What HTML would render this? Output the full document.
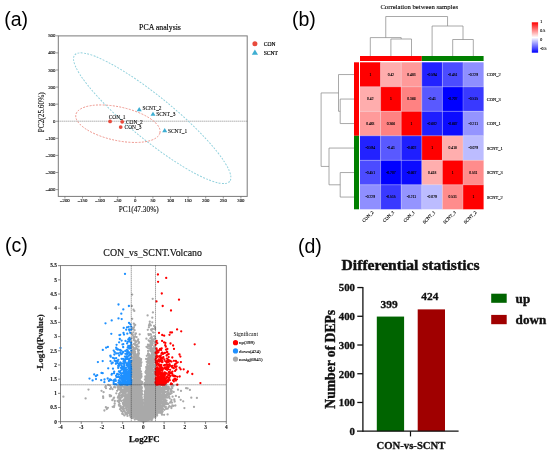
<!DOCTYPE html>
<html><head><meta charset="utf-8"><style>
html,body{margin:0;padding:0;background:#fff;width:550px;height:454px;overflow:hidden}
svg{display:block;will-change:transform}
</style></head><body>
<svg width="550" height="454" viewBox="0 0 550 454">
<rect width="550" height="454" fill="#fff"/>
<text x="4.2" y="25.6" font-family='"Liberation Sans", sans-serif' font-size="19.5" font-weight="normal" text-anchor="start" fill="#000" >(a)</text>
<text x="292" y="25.5" font-family='"Liberation Sans", sans-serif' font-size="19.5" font-weight="normal" text-anchor="start" fill="#000" >(b)</text>
<text x="4.9" y="252.4" font-family='"Liberation Sans", sans-serif' font-size="19.5" font-weight="normal" text-anchor="start" fill="#000" >(c)</text>
<text x="298" y="253" font-family='"Liberation Sans", sans-serif' font-size="19.5" font-weight="normal" text-anchor="start" fill="#000" >(d)</text>
<text x="160" y="30.2" font-family='"Liberation Serif", serif' font-size="7.8" font-weight="normal" text-anchor="middle" fill="#000" stroke="#000" stroke-width="0.15">PCA analysis</text>
<rect x="58.3" y="35.9" width="188.9" height="160.5" fill="none" stroke="#7a7a7a" stroke-width="1"/>
<line x1="56" y1="189.6" x2="58.3" y2="189.6" stroke="#666" stroke-width="0.65" />
<text x="55.4" y="191.2" font-family='"Liberation Serif", serif' font-size="4.8" font-weight="normal" text-anchor="end" fill="#111" stroke="#111" stroke-width="0.14">&#8211;400</text>
<line x1="56" y1="172.51" x2="58.3" y2="172.51" stroke="#666" stroke-width="0.65" />
<text x="55.4" y="174.11" font-family='"Liberation Serif", serif' font-size="4.8" font-weight="normal" text-anchor="end" fill="#111" stroke="#111" stroke-width="0.14">&#8211;300</text>
<line x1="56" y1="155.42" x2="58.3" y2="155.42" stroke="#666" stroke-width="0.65" />
<text x="55.4" y="157.02" font-family='"Liberation Serif", serif' font-size="4.8" font-weight="normal" text-anchor="end" fill="#111" stroke="#111" stroke-width="0.14">&#8211;200</text>
<line x1="56" y1="138.33" x2="58.3" y2="138.33" stroke="#666" stroke-width="0.65" />
<text x="55.4" y="139.93" font-family='"Liberation Serif", serif' font-size="4.8" font-weight="normal" text-anchor="end" fill="#111" stroke="#111" stroke-width="0.14">&#8211;100</text>
<line x1="56" y1="121.24" x2="58.3" y2="121.24" stroke="#666" stroke-width="0.65" />
<text x="55.4" y="122.84" font-family='"Liberation Serif", serif' font-size="4.8" font-weight="normal" text-anchor="end" fill="#111" stroke="#111" stroke-width="0.14">0</text>
<line x1="56" y1="104.15" x2="58.3" y2="104.15" stroke="#666" stroke-width="0.65" />
<text x="55.4" y="105.75" font-family='"Liberation Serif", serif' font-size="4.8" font-weight="normal" text-anchor="end" fill="#111" stroke="#111" stroke-width="0.14">100</text>
<line x1="56" y1="87.06" x2="58.3" y2="87.06" stroke="#666" stroke-width="0.65" />
<text x="55.4" y="88.66" font-family='"Liberation Serif", serif' font-size="4.8" font-weight="normal" text-anchor="end" fill="#111" stroke="#111" stroke-width="0.14">200</text>
<line x1="56" y1="69.97" x2="58.3" y2="69.97" stroke="#666" stroke-width="0.65" />
<text x="55.4" y="71.57" font-family='"Liberation Serif", serif' font-size="4.8" font-weight="normal" text-anchor="end" fill="#111" stroke="#111" stroke-width="0.14">300</text>
<line x1="56" y1="52.88" x2="58.3" y2="52.88" stroke="#666" stroke-width="0.65" />
<text x="55.4" y="54.48" font-family='"Liberation Serif", serif' font-size="4.8" font-weight="normal" text-anchor="end" fill="#111" stroke="#111" stroke-width="0.14">400</text>
<line x1="56" y1="35.8" x2="58.3" y2="35.8" stroke="#666" stroke-width="0.65" />
<text x="55.4" y="37.4" font-family='"Liberation Serif", serif' font-size="4.8" font-weight="normal" text-anchor="end" fill="#111" stroke="#111" stroke-width="0.14">500</text>
<line x1="64.9" y1="196.4" x2="64.9" y2="198.5" stroke="#666" stroke-width="0.65" />
<text x="64.9" y="202.4" font-family='"Liberation Serif", serif' font-size="4.8" font-weight="normal" text-anchor="middle" fill="#111" stroke="#111" stroke-width="0.14">&#8211;200</text>
<line x1="82.5" y1="196.4" x2="82.5" y2="198.5" stroke="#666" stroke-width="0.65" />
<text x="82.5" y="202.4" font-family='"Liberation Serif", serif' font-size="4.8" font-weight="normal" text-anchor="middle" fill="#111" stroke="#111" stroke-width="0.14">&#8211;150</text>
<line x1="100.1" y1="196.4" x2="100.1" y2="198.5" stroke="#666" stroke-width="0.65" />
<text x="100.1" y="202.4" font-family='"Liberation Serif", serif' font-size="4.8" font-weight="normal" text-anchor="middle" fill="#111" stroke="#111" stroke-width="0.14">&#8211;100</text>
<line x1="117.7" y1="196.4" x2="117.7" y2="198.5" stroke="#666" stroke-width="0.65" />
<text x="117.7" y="202.4" font-family='"Liberation Serif", serif' font-size="4.8" font-weight="normal" text-anchor="middle" fill="#111" stroke="#111" stroke-width="0.14">&#8211;50</text>
<line x1="135.3" y1="196.4" x2="135.3" y2="198.5" stroke="#666" stroke-width="0.65" />
<text x="135.3" y="202.4" font-family='"Liberation Serif", serif' font-size="4.8" font-weight="normal" text-anchor="middle" fill="#111" stroke="#111" stroke-width="0.14">0</text>
<line x1="152.9" y1="196.4" x2="152.9" y2="198.5" stroke="#666" stroke-width="0.65" />
<text x="152.9" y="202.4" font-family='"Liberation Serif", serif' font-size="4.8" font-weight="normal" text-anchor="middle" fill="#111" stroke="#111" stroke-width="0.14">50</text>
<line x1="170.5" y1="196.4" x2="170.5" y2="198.5" stroke="#666" stroke-width="0.65" />
<text x="170.5" y="202.4" font-family='"Liberation Serif", serif' font-size="4.8" font-weight="normal" text-anchor="middle" fill="#111" stroke="#111" stroke-width="0.14">100</text>
<line x1="188.1" y1="196.4" x2="188.1" y2="198.5" stroke="#666" stroke-width="0.65" />
<text x="188.1" y="202.4" font-family='"Liberation Serif", serif' font-size="4.8" font-weight="normal" text-anchor="middle" fill="#111" stroke="#111" stroke-width="0.14">150</text>
<line x1="205.7" y1="196.4" x2="205.7" y2="198.5" stroke="#666" stroke-width="0.65" />
<text x="205.7" y="202.4" font-family='"Liberation Serif", serif' font-size="4.8" font-weight="normal" text-anchor="middle" fill="#111" stroke="#111" stroke-width="0.14">200</text>
<line x1="223.3" y1="196.4" x2="223.3" y2="198.5" stroke="#666" stroke-width="0.65" />
<text x="223.3" y="202.4" font-family='"Liberation Serif", serif' font-size="4.8" font-weight="normal" text-anchor="middle" fill="#111" stroke="#111" stroke-width="0.14">250</text>
<line x1="240.9" y1="196.4" x2="240.9" y2="198.5" stroke="#666" stroke-width="0.65" />
<text x="240.9" y="202.4" font-family='"Liberation Serif", serif' font-size="4.8" font-weight="normal" text-anchor="middle" fill="#111" stroke="#111" stroke-width="0.14">300</text>
<text x="138.7" y="211.6" font-family='"Liberation Serif", serif' font-size="7.3" font-weight="normal" text-anchor="middle" fill="#111" stroke="#111" stroke-width="0.12">PC1(47.30%)</text>
<text transform="translate(44.2,112.3) rotate(-90)" x="0" y="0" font-family='"Liberation Serif", serif' font-size="7.3" text-anchor="middle" fill="#111" stroke="#111" stroke-width="0.12">PC2(25.60%)</text>
<line x1="58.3" y1="121.2" x2="247.2" y2="121.2" stroke="#555" stroke-width="0.65" stroke-dasharray="1.1,0.9"/>
<ellipse cx="117.9" cy="123.7" rx="43" ry="16.8" transform="rotate(12.2 117.9 123.7)" fill="none" stroke="#ec8f86" stroke-width="0.9" stroke-dasharray="1.9,1.4"/>
<ellipse cx="152.2" cy="118.2" rx="100" ry="21.5" transform="rotate(39.2 152.2 118.2)" fill="none" stroke="#8fd0dc" stroke-width="0.95" stroke-dasharray="1.9,1.4"/>
<circle cx="110.1" cy="121.4" r="1.9" fill="#e84a3c"/>
<circle cx="122.2" cy="121.8" r="1.9" fill="#e84a3c"/>
<circle cx="120.7" cy="127.1" r="1.9" fill="#e84a3c"/>
<path d="M139.2 107.1L141.73 111.24L136.67 111.24Z" fill="#3eaed2"/>
<path d="M153 111.7L155.53 115.84L150.47 115.84Z" fill="#3eaed2"/>
<path d="M164.7 128L167.23 132.14L162.17 132.14Z" fill="#3eaed2"/>
<text x="108.7" y="118.5" font-family='"Liberation Serif", serif' font-size="5.4" font-weight="normal" text-anchor="start" fill="#000" stroke="#000" stroke-width="0.08">CON_1</text>
<text x="126" y="123.5" font-family='"Liberation Serif", serif' font-size="5.4" font-weight="normal" text-anchor="start" fill="#000" stroke="#000" stroke-width="0.08">CON_2</text>
<text x="124.6" y="129.2" font-family='"Liberation Serif", serif' font-size="5.4" font-weight="normal" text-anchor="start" fill="#000" stroke="#000" stroke-width="0.08">CON_3</text>
<text x="142.4" y="110" font-family='"Liberation Serif", serif' font-size="5.4" font-weight="normal" text-anchor="start" fill="#000" stroke="#000" stroke-width="0.08">SCNT_2</text>
<text x="156.2" y="116.4" font-family='"Liberation Serif", serif' font-size="5.4" font-weight="normal" text-anchor="start" fill="#000" stroke="#000" stroke-width="0.08">SCNT_3</text>
<text x="168" y="132.7" font-family='"Liberation Serif", serif' font-size="5.4" font-weight="normal" text-anchor="start" fill="#000" stroke="#000" stroke-width="0.08">SCNT_1</text>
<circle cx="254.9" cy="43.8" r="2.5" fill="#e84a3c"/>
<path d="M254.9 49.6L257.98 54.64L251.82 54.64Z" fill="#3eaed2"/>
<text x="263.7" y="45.7" font-family='"Liberation Serif", serif' font-size="5.6" font-weight="normal" text-anchor="start" fill="#000" stroke="#000" stroke-width="0.18">CON</text>
<text x="263.7" y="54.5" font-family='"Liberation Serif", serif' font-size="5.6" font-weight="normal" text-anchor="start" fill="#000" stroke="#000" stroke-width="0.18">SCNT</text>
<rect x="360" y="62.3" width="20.6" height="24.5" fill="rgb(255,0,0)" />
<rect x="380.6" y="62.3" width="20.6" height="24.5" fill="rgb(255,173,173)" />
<rect x="401.2" y="62.3" width="20.6" height="24.5" fill="rgb(255,154,154)" />
<rect x="421.8" y="62.3" width="20.6" height="24.5" fill="rgb(34,34,255)" />
<rect x="442.4" y="62.3" width="20.6" height="24.5" fill="rgb(76,76,255)" />
<rect x="463" y="62.3" width="20.6" height="24.5" fill="rgb(143,143,255)" />
<rect x="360" y="86.8" width="20.6" height="24.5" fill="rgb(255,173,173)" />
<rect x="380.6" y="86.8" width="20.6" height="24.5" fill="rgb(255,0,0)" />
<rect x="401.2" y="86.8" width="20.6" height="24.5" fill="rgb(255,130,130)" />
<rect x="421.8" y="86.8" width="20.6" height="24.5" fill="rgb(89,89,255)" />
<rect x="442.4" y="86.8" width="20.6" height="24.5" fill="rgb(0,0,255)" />
<rect x="463" y="86.8" width="20.6" height="24.5" fill="rgb(57,57,255)" />
<rect x="360" y="111.3" width="20.6" height="24.5" fill="rgb(255,154,154)" />
<rect x="380.6" y="111.3" width="20.6" height="24.5" fill="rgb(255,130,130)" />
<rect x="401.2" y="111.3" width="20.6" height="24.5" fill="rgb(255,0,0)" />
<rect x="421.8" y="111.3" width="20.6" height="24.5" fill="rgb(31,31,255)" />
<rect x="442.4" y="111.3" width="20.6" height="24.5" fill="rgb(12,12,255)" />
<rect x="463" y="111.3" width="20.6" height="24.5" fill="rgb(148,148,255)" />
<rect x="360" y="135.8" width="20.6" height="24.5" fill="rgb(34,34,255)" />
<rect x="380.6" y="135.8" width="20.6" height="24.5" fill="rgb(89,89,255)" />
<rect x="401.2" y="135.8" width="20.6" height="24.5" fill="rgb(31,31,255)" />
<rect x="421.8" y="135.8" width="20.6" height="24.5" fill="rgb(255,0,0)" />
<rect x="442.4" y="135.8" width="20.6" height="24.5" fill="rgb(255,174,174)" />
<rect x="463" y="135.8" width="20.6" height="24.5" fill="rgb(188,188,255)" />
<rect x="360" y="160.3" width="20.6" height="24.5" fill="rgb(76,76,255)" />
<rect x="380.6" y="160.3" width="20.6" height="24.5" fill="rgb(0,0,255)" />
<rect x="401.2" y="160.3" width="20.6" height="24.5" fill="rgb(12,12,255)" />
<rect x="421.8" y="160.3" width="20.6" height="24.5" fill="rgb(255,174,174)" />
<rect x="442.4" y="160.3" width="20.6" height="24.5" fill="rgb(255,0,0)" />
<rect x="463" y="160.3" width="20.6" height="24.5" fill="rgb(255,140,140)" />
<rect x="360" y="184.8" width="20.6" height="24.5" fill="rgb(143,143,255)" />
<rect x="380.6" y="184.8" width="20.6" height="24.5" fill="rgb(57,57,255)" />
<rect x="401.2" y="184.8" width="20.6" height="24.5" fill="rgb(148,148,255)" />
<rect x="421.8" y="184.8" width="20.6" height="24.5" fill="rgb(188,188,255)" />
<rect x="442.4" y="184.8" width="20.6" height="24.5" fill="rgb(255,140,140)" />
<rect x="463" y="184.8" width="20.6" height="24.5" fill="rgb(255,0,0)" />
<line x1="380.6" y1="62.3" x2="380.6" y2="209.3" stroke="#e8e8f0" stroke-width="0.5" stroke-opacity="0.6"/>
<line x1="360" y1="86.8" x2="483.6" y2="86.8" stroke="#e8e8f0" stroke-width="0.5" stroke-opacity="0.6"/>
<line x1="401.2" y1="62.3" x2="401.2" y2="209.3" stroke="#e8e8f0" stroke-width="0.5" stroke-opacity="0.6"/>
<line x1="360" y1="111.3" x2="483.6" y2="111.3" stroke="#e8e8f0" stroke-width="0.5" stroke-opacity="0.6"/>
<line x1="421.8" y1="62.3" x2="421.8" y2="209.3" stroke="#e8e8f0" stroke-width="0.5" stroke-opacity="0.6"/>
<line x1="360" y1="135.8" x2="483.6" y2="135.8" stroke="#e8e8f0" stroke-width="0.5" stroke-opacity="0.6"/>
<line x1="442.4" y1="62.3" x2="442.4" y2="209.3" stroke="#e8e8f0" stroke-width="0.5" stroke-opacity="0.6"/>
<line x1="360" y1="160.3" x2="483.6" y2="160.3" stroke="#e8e8f0" stroke-width="0.5" stroke-opacity="0.6"/>
<line x1="463" y1="62.3" x2="463" y2="209.3" stroke="#e8e8f0" stroke-width="0.5" stroke-opacity="0.6"/>
<line x1="360" y1="184.8" x2="483.6" y2="184.8" stroke="#e8e8f0" stroke-width="0.5" stroke-opacity="0.6"/>
<text x="370.3" y="75.75" font-family='"Liberation Serif", serif' font-size="3.7" font-weight="normal" text-anchor="middle" fill="#000" stroke="#000" stroke-width="0.12">1</text>
<text x="390.9" y="75.75" font-family='"Liberation Serif", serif' font-size="3.7" font-weight="normal" text-anchor="middle" fill="#000" stroke="#000" stroke-width="0.12">0.42</text>
<text x="411.5" y="75.75" font-family='"Liberation Serif", serif' font-size="3.7" font-weight="normal" text-anchor="middle" fill="#000" stroke="#000" stroke-width="0.12">0.483</text>
<text x="432.1" y="75.75" font-family='"Liberation Serif", serif' font-size="3.7" font-weight="normal" text-anchor="middle" fill="#000" stroke="#000" stroke-width="0.12">-0.594</text>
<text x="452.7" y="75.75" font-family='"Liberation Serif", serif' font-size="3.7" font-weight="normal" text-anchor="middle" fill="#000" stroke="#000" stroke-width="0.12">-0.451</text>
<text x="473.3" y="75.75" font-family='"Liberation Serif", serif' font-size="3.7" font-weight="normal" text-anchor="middle" fill="#000" stroke="#000" stroke-width="0.12">-0.229</text>
<text x="370.3" y="100.25" font-family='"Liberation Serif", serif' font-size="3.7" font-weight="normal" text-anchor="middle" fill="#000" stroke="#000" stroke-width="0.12">0.42</text>
<text x="390.9" y="100.25" font-family='"Liberation Serif", serif' font-size="3.7" font-weight="normal" text-anchor="middle" fill="#000" stroke="#000" stroke-width="0.12">1</text>
<text x="411.5" y="100.25" font-family='"Liberation Serif", serif' font-size="3.7" font-weight="normal" text-anchor="middle" fill="#000" stroke="#000" stroke-width="0.12">0.366</text>
<text x="432.1" y="100.25" font-family='"Liberation Serif", serif' font-size="3.7" font-weight="normal" text-anchor="middle" fill="#000" stroke="#000" stroke-width="0.12">-0.41</text>
<text x="452.7" y="100.25" font-family='"Liberation Serif", serif' font-size="3.7" font-weight="normal" text-anchor="middle" fill="#000" stroke="#000" stroke-width="0.12">-0.707</text>
<text x="473.3" y="100.25" font-family='"Liberation Serif", serif' font-size="3.7" font-weight="normal" text-anchor="middle" fill="#000" stroke="#000" stroke-width="0.12">-0.515</text>
<text x="370.3" y="124.75" font-family='"Liberation Serif", serif' font-size="3.7" font-weight="normal" text-anchor="middle" fill="#000" stroke="#000" stroke-width="0.12">0.483</text>
<text x="390.9" y="124.75" font-family='"Liberation Serif", serif' font-size="3.7" font-weight="normal" text-anchor="middle" fill="#000" stroke="#000" stroke-width="0.12">0.366</text>
<text x="411.5" y="124.75" font-family='"Liberation Serif", serif' font-size="3.7" font-weight="normal" text-anchor="middle" fill="#000" stroke="#000" stroke-width="0.12">1</text>
<text x="432.1" y="124.75" font-family='"Liberation Serif", serif' font-size="3.7" font-weight="normal" text-anchor="middle" fill="#000" stroke="#000" stroke-width="0.12">-0.602</text>
<text x="452.7" y="124.75" font-family='"Liberation Serif", serif' font-size="3.7" font-weight="normal" text-anchor="middle" fill="#000" stroke="#000" stroke-width="0.12">-0.667</text>
<text x="473.3" y="124.75" font-family='"Liberation Serif", serif' font-size="3.7" font-weight="normal" text-anchor="middle" fill="#000" stroke="#000" stroke-width="0.12">-0.211</text>
<text x="370.3" y="149.25" font-family='"Liberation Serif", serif' font-size="3.7" font-weight="normal" text-anchor="middle" fill="#000" stroke="#000" stroke-width="0.12">-0.594</text>
<text x="390.9" y="149.25" font-family='"Liberation Serif", serif' font-size="3.7" font-weight="normal" text-anchor="middle" fill="#000" stroke="#000" stroke-width="0.12">-0.41</text>
<text x="411.5" y="149.25" font-family='"Liberation Serif", serif' font-size="3.7" font-weight="normal" text-anchor="middle" fill="#000" stroke="#000" stroke-width="0.12">-0.602</text>
<text x="432.1" y="149.25" font-family='"Liberation Serif", serif' font-size="3.7" font-weight="normal" text-anchor="middle" fill="#000" stroke="#000" stroke-width="0.12">1</text>
<text x="452.7" y="149.25" font-family='"Liberation Serif", serif' font-size="3.7" font-weight="normal" text-anchor="middle" fill="#000" stroke="#000" stroke-width="0.12">0.418</text>
<text x="473.3" y="149.25" font-family='"Liberation Serif", serif' font-size="3.7" font-weight="normal" text-anchor="middle" fill="#000" stroke="#000" stroke-width="0.12">-0.079</text>
<text x="370.3" y="173.75" font-family='"Liberation Serif", serif' font-size="3.7" font-weight="normal" text-anchor="middle" fill="#000" stroke="#000" stroke-width="0.12">-0.451</text>
<text x="390.9" y="173.75" font-family='"Liberation Serif", serif' font-size="3.7" font-weight="normal" text-anchor="middle" fill="#000" stroke="#000" stroke-width="0.12">-0.707</text>
<text x="411.5" y="173.75" font-family='"Liberation Serif", serif' font-size="3.7" font-weight="normal" text-anchor="middle" fill="#000" stroke="#000" stroke-width="0.12">-0.667</text>
<text x="432.1" y="173.75" font-family='"Liberation Serif", serif' font-size="3.7" font-weight="normal" text-anchor="middle" fill="#000" stroke="#000" stroke-width="0.12">0.418</text>
<text x="452.7" y="173.75" font-family='"Liberation Serif", serif' font-size="3.7" font-weight="normal" text-anchor="middle" fill="#000" stroke="#000" stroke-width="0.12">1</text>
<text x="473.3" y="173.75" font-family='"Liberation Serif", serif' font-size="3.7" font-weight="normal" text-anchor="middle" fill="#000" stroke="#000" stroke-width="0.12">0.531</text>
<text x="370.3" y="198.25" font-family='"Liberation Serif", serif' font-size="3.7" font-weight="normal" text-anchor="middle" fill="#000" stroke="#000" stroke-width="0.12">-0.229</text>
<text x="390.9" y="198.25" font-family='"Liberation Serif", serif' font-size="3.7" font-weight="normal" text-anchor="middle" fill="#000" stroke="#000" stroke-width="0.12">-0.515</text>
<text x="411.5" y="198.25" font-family='"Liberation Serif", serif' font-size="3.7" font-weight="normal" text-anchor="middle" fill="#000" stroke="#000" stroke-width="0.12">-0.211</text>
<text x="432.1" y="198.25" font-family='"Liberation Serif", serif' font-size="3.7" font-weight="normal" text-anchor="middle" fill="#000" stroke="#000" stroke-width="0.12">-0.079</text>
<text x="452.7" y="198.25" font-family='"Liberation Serif", serif' font-size="3.7" font-weight="normal" text-anchor="middle" fill="#000" stroke="#000" stroke-width="0.12">0.531</text>
<text x="473.3" y="198.25" font-family='"Liberation Serif", serif' font-size="3.7" font-weight="normal" text-anchor="middle" fill="#000" stroke="#000" stroke-width="0.12">1</text>
<rect x="360" y="56" width="61.8" height="5" fill="#ff0000" />
<rect x="421.8" y="56" width="61.8" height="5" fill="#008000" />
<rect x="354" y="62.3" width="5" height="73.5" fill="#ff0000" />
<rect x="354" y="135.8" width="5" height="73.5" fill="#008000" />
<path d="M390.9 56V39H411.5V56" fill="none" stroke="#8c8c8c" stroke-width="0.75"/>
<path d="M370.3 56V37.6H401.2V39" fill="none" stroke="#8c8c8c" stroke-width="0.75"/>
<path d="M452.7 56V39.5H473.3V56" fill="none" stroke="#8c8c8c" stroke-width="0.75"/>
<path d="M432.1 56V26H463V39.5" fill="none" stroke="#8c8c8c" stroke-width="0.75"/>
<path d="M385.75 37.6V16.5H447.55V26" fill="none" stroke="#8c8c8c" stroke-width="0.75"/>
<path d="M354 99.05H340.2V123.55H354" fill="none" stroke="#8c8c8c" stroke-width="0.75"/>
<path d="M354 74.55H338.5V111.3H340.2" fill="none" stroke="#8c8c8c" stroke-width="0.75"/>
<path d="M354 172.55H340.2V197.05H354" fill="none" stroke="#8c8c8c" stroke-width="0.75"/>
<path d="M354 148.05H329V184.8H340.2" fill="none" stroke="#8c8c8c" stroke-width="0.75"/>
<path d="M338.5 92.93H321.1V166.43H329" fill="none" stroke="#8c8c8c" stroke-width="0.75"/>
<text x="380.4" y="8.9" font-family='"Liberation Serif", serif' font-size="6.7" font-weight="normal" text-anchor="start" fill="#000" stroke="#000" stroke-width="0.1">Correlation between samples</text>
<text x="486.8" y="76.15" font-family='"Liberation Serif", serif' font-size="4.5" font-weight="normal" text-anchor="start" fill="#000" stroke="#000" stroke-width="0.12">CON_2</text>
<text x="486.8" y="100.65" font-family='"Liberation Serif", serif' font-size="4.5" font-weight="normal" text-anchor="start" fill="#000" stroke="#000" stroke-width="0.12">CON_3</text>
<text x="486.8" y="125.15" font-family='"Liberation Serif", serif' font-size="4.5" font-weight="normal" text-anchor="start" fill="#000" stroke="#000" stroke-width="0.12">CON_1</text>
<text x="486.8" y="149.65" font-family='"Liberation Serif", serif' font-size="4.5" font-weight="normal" text-anchor="start" fill="#000" stroke="#000" stroke-width="0.12">SCNT_1</text>
<text x="486.8" y="174.15" font-family='"Liberation Serif", serif' font-size="4.5" font-weight="normal" text-anchor="start" fill="#000" stroke="#000" stroke-width="0.12">SCNT_3</text>
<text x="486.8" y="198.65" font-family='"Liberation Serif", serif' font-size="4.5" font-weight="normal" text-anchor="start" fill="#000" stroke="#000" stroke-width="0.12">SCNT_2</text>
<text transform="translate(373.9,212.6) rotate(-45)" x="0" y="0" font-family='"Liberation Serif", serif' font-size="4.5" text-anchor="end" fill="#000" stroke="#000" stroke-width="0.12">CON_2</text>
<text transform="translate(394.5,212.6) rotate(-45)" x="0" y="0" font-family='"Liberation Serif", serif' font-size="4.5" text-anchor="end" fill="#000" stroke="#000" stroke-width="0.12">CON_3</text>
<text transform="translate(415.1,212.6) rotate(-45)" x="0" y="0" font-family='"Liberation Serif", serif' font-size="4.5" text-anchor="end" fill="#000" stroke="#000" stroke-width="0.12">CON_1</text>
<text transform="translate(435.7,212.6) rotate(-45)" x="0" y="0" font-family='"Liberation Serif", serif' font-size="4.5" text-anchor="end" fill="#000" stroke="#000" stroke-width="0.12">SCNT_1</text>
<text transform="translate(456.3,212.6) rotate(-45)" x="0" y="0" font-family='"Liberation Serif", serif' font-size="4.5" text-anchor="end" fill="#000" stroke="#000" stroke-width="0.12">SCNT_3</text>
<text transform="translate(476.9,212.6) rotate(-45)" x="0" y="0" font-family='"Liberation Serif", serif' font-size="4.5" text-anchor="end" fill="#000" stroke="#000" stroke-width="0.12">SCNT_2</text>
<defs><linearGradient id="cb" x1="0" y1="0" x2="0" y2="1"><stop offset="0" stop-color="#ff0000"/><stop offset="0.5" stop-color="#ffffff"/><stop offset="1" stop-color="#0000ff"/></linearGradient></defs>
<rect x="531.8" y="22.3" width="6.3" height="30.4" fill="url(#cb)" />
<text x="540.2" y="23.2" font-family='"Liberation Serif", serif' font-size="4" font-weight="normal" text-anchor="start" fill="#000" stroke="#000" stroke-width="0.12">1</text>
<text x="540.2" y="32.1" font-family='"Liberation Serif", serif' font-size="4" font-weight="normal" text-anchor="start" fill="#000" stroke="#000" stroke-width="0.12">0.5</text>
<text x="540.2" y="41" font-family='"Liberation Serif", serif' font-size="4" font-weight="normal" text-anchor="start" fill="#000" stroke="#000" stroke-width="0.12">0</text>
<text x="540.2" y="49.9" font-family='"Liberation Serif", serif' font-size="4" font-weight="normal" text-anchor="start" fill="#000" stroke="#000" stroke-width="0.12">-0.5</text>
<text x="103.3" y="255.7" font-family='"Liberation Serif", serif' font-size="9.9" font-weight="normal" text-anchor="start" fill="#111" stroke="#111" stroke-width="0.15">CON_vs_SCNT.Volcano</text>
<path d="M145.0 403.5h0M147.5 402.0h0M127.9 390.2h0M128.4 403.0h0M139.9 401.9h0M123.1 406.6h0M143.7 420.7h0M146.7 361.8h0M145.2 379.6h0M162.7 411.6h0M144.3 420.4h0M151.2 393.9h0M141.5 418.7h0M133.8 411.3h0M146.0 418.9h0M139.4 397.1h0M136.7 405.4h0M139.7 418.1h0M148.3 407.1h0M136.3 364.0h0M159.7 390.9h0M152.1 384.3h0M138.0 387.7h0M145.4 415.4h0M144.4 418.9h0M151.1 411.4h0M151.9 410.7h0M151.0 393.9h0M144.7 420.1h0M171.4 407.0h0M146.6 395.7h0M144.2 420.5h0M149.0 379.3h0M141.7 420.1h0M141.8 407.4h0M114.1 387.2h0M141.3 412.8h0M146.1 407.0h0M149.4 407.1h0M143.4 421.6h0M141.1 418.0h0M152.5 405.7h0M141.6 418.5h0M141.1 418.1h0M141.5 419.4h0M153.6 378.3h0M151.0 404.0h0M145.6 415.3h0M134.6 401.8h0M142.4 412.7h0M149.5 413.9h0M139.1 393.3h0M125.8 392.6h0M147.9 374.6h0M145.2 419.9h0M143.4 421.6h0M133.8 376.1h0M158.0 408.0h0M153.0 408.9h0M146.3 419.9h0M159.4 399.3h0M137.7 356.7h0M144.5 418.8h0M144.4 394.6h0M131.2 398.6h0M146.4 418.2h0M144.2 420.5h0M149.9 398.7h0M140.9 412.9h0M140.4 392.9h0M140.2 415.3h0M136.8 375.6h0M150.7 392.5h0M144.4 415.9h0M156.9 387.3h0M140.2 391.1h0M156.6 391.2h0M148.0 409.1h0M126.0 386.5h0M140.7 407.4h0M149.2 410.8h0M150.3 412.0h0M142.0 405.3h0M143.0 421.0h0M132.9 416.3h0M150.0 389.6h0M126.5 413.5h0M147.2 411.8h0M143.8 420.6h0M138.0 413.0h0M147.3 409.8h0M109.9 385.4h0M142.9 417.4h0M126.1 391.5h0M144.3 419.6h0M137.8 419.0h0M162.0 414.7h0M144.8 416.7h0M138.3 417.6h0M138.7 406.6h0M156.3 400.0h0M140.8 417.3h0M148.6 413.2h0M134.0 411.7h0M139.5 374.6h0M141.0 416.5h0M141.3 375.8h0M146.2 418.1h0M144.8 420.2h0M142.9 420.3h0M154.3 391.9h0M135.0 399.2h0M142.0 419.6h0M133.6 388.3h0M147.6 403.1h0M148.7 371.9h0M148.9 409.7h0M146.3 403.6h0M137.2 393.0h0M134.1 380.3h0M135.7 388.3h0M141.9 419.3h0M152.7 404.9h0M145.4 403.8h0M144.8 419.8h0M159.6 394.4h0M144.3 420.9h0M138.3 355.9h0M150.7 368.3h0M136.8 400.3h0M149.0 408.0h0M148.5 377.2h0M142.3 417.5h0M148.6 387.6h0M143.4 420.3h0M136.3 404.0h0M140.1 402.9h0M141.2 388.7h0M124.2 405.9h0M143.3 421.2h0M145.3 416.8h0M143.6 420.9h0M155.4 412.9h0M127.1 414.4h0M131.6 333.6h0M131.7 405.7h0M152.2 378.7h0M139.9 406.7h0M150.9 377.0h0M149.6 417.2h0M137.0 414.8h0M140.0 408.6h0M144.1 420.0h0M148.2 395.5h0M155.2 393.7h0M137.6 403.2h0M132.8 407.8h0M125.5 386.9h0M144.8 415.8h0M126.1 387.3h0M143.0 419.6h0M143.2 421.3h0M140.0 415.5h0M139.7 410.0h0M132.9 409.8h0M133.2 405.5h0M148.9 389.8h0M135.8 407.7h0M136.8 409.0h0M143.1 421.5h0M136.6 404.7h0M142.5 414.5h0M142.2 409.7h0M144.8 405.7h0M154.9 400.0h0M137.7 404.9h0M148.2 417.1h0M141.3 416.9h0M154.0 392.6h0M144.8 420.5h0M170.1 402.6h0M130.2 403.2h0M136.8 366.7h0M152.3 399.5h0M137.2 416.6h0M137.5 407.2h0M143.4 421.7h0M150.9 382.7h0M142.5 420.6h0M134.0 383.8h0M145.0 420.2h0M134.7 404.7h0M142.9 421.1h0M141.6 410.2h0M139.0 411.0h0M141.4 420.3h0M143.6 421.4h0M145.0 398.5h0M144.7 411.2h0M142.0 419.2h0M132.1 411.0h0M137.5 381.0h0M138.9 419.9h0M155.1 412.4h0M136.6 354.6h0M149.2 405.5h0M129.3 395.2h0M146.7 397.4h0M132.0 379.9h0M137.1 413.4h0M146.7 415.3h0M144.6 419.6h0M143.9 420.3h0M139.7 406.6h0M141.3 418.9h0M143.2 418.9h0M144.1 419.3h0M148.0 410.0h0M140.6 416.3h0M155.1 407.7h0M150.3 368.1h0M162.8 405.9h0M144.8 395.3h0M151.9 396.0h0M143.1 421.2h0M114.3 405.8h0M144.3 420.7h0M151.4 410.6h0M159.3 391.7h0M146.7 417.4h0M155.1 409.0h0M140.3 394.8h0M145.8 417.9h0M146.5 405.8h0M147.3 407.3h0M152.2 362.3h0M140.0 413.8h0M134.5 404.3h0M135.3 357.7h0M143.6 420.6h0M143.6 420.6h0M136.3 381.9h0M147.6 315.4h0M141.2 418.7h0M139.7 412.8h0M132.6 397.6h0M136.9 411.9h0M123.3 407.8h0M135.5 402.1h0M133.6 413.3h0M146.0 372.4h0M142.2 418.5h0M138.0 408.8h0M142.8 420.5h0M146.1 359.0h0M145.7 417.4h0M144.1 412.7h0M137.3 375.2h0M143.4 421.6h0M149.7 393.1h0M147.9 409.8h0M128.8 403.6h0M126.6 394.5h0M156.7 395.6h0M137.2 419.2h0M150.4 408.5h0M140.7 402.3h0M138.2 393.1h0M136.6 388.2h0M123.6 406.4h0M155.5 407.4h0M136.6 412.6h0M135.3 388.4h0M147.0 416.2h0M166.3 394.6h0M149.7 386.9h0M144.3 405.5h0M142.2 419.5h0M146.9 405.1h0M146.2 407.1h0M148.2 418.3h0M133.6 348.2h0M142.7 416.4h0M142.4 420.1h0M153.3 358.6h0M161.5 409.9h0M144.8 419.0h0M148.0 399.4h0M133.8 352.4h0M137.9 361.0h0M134.1 343.8h0M138.2 390.0h0M141.7 419.1h0M145.1 401.8h0M147.0 409.4h0M156.1 405.4h0M137.8 404.6h0M134.4 357.9h0M143.6 421.4h0M145.6 417.5h0M145.2 417.6h0M143.7 420.5h0M143.2 421.2h0M144.0 415.2h0M149.8 321.7h0M145.4 418.3h0M139.2 393.2h0M145.9 412.7h0M139.9 381.5h0M146.9 406.7h0M148.8 409.1h0M145.2 419.5h0M143.8 421.4h0M142.4 413.9h0M141.0 403.4h0M146.1 393.5h0M149.6 389.9h0M154.8 390.2h0M146.4 412.3h0M147.0 386.5h0M151.9 411.8h0M152.6 394.2h0M139.7 398.3h0M146.7 418.7h0M135.6 411.2h0M157.7 390.6h0M145.0 416.0h0M135.2 414.4h0M141.4 410.7h0M152.3 377.3h0M157.4 390.1h0M144.4 414.8h0M138.3 409.9h0M141.9 411.9h0M146.2 420.4h0M144.6 419.7h0M136.5 401.9h0M145.7 417.4h0M147.5 397.4h0M144.2 419.5h0M139.4 371.9h0M135.5 362.3h0M133.7 410.5h0M142.8 406.6h0M145.9 386.7h0M143.6 420.9h0M140.5 403.5h0M144.4 417.2h0M140.3 409.9h0M129.5 392.4h0M158.9 396.6h0M148.9 382.1h0M151.0 404.4h0M158.3 397.2h0M126.1 385.7h0M139.2 417.1h0M133.9 379.3h0M147.8 382.8h0M141.2 393.4h0M157.2 401.1h0M148.4 417.7h0M134.9 406.8h0M147.8 398.5h0M141.6 419.1h0M134.6 382.1h0M149.6 371.4h0M138.2 415.2h0M143.9 420.2h0M141.3 375.3h0M134.3 394.4h0M137.7 369.8h0M149.0 417.6h0M128.4 392.7h0M144.4 410.6h0M144.0 410.0h0M137.4 408.1h0M158.7 400.8h0M144.6 391.3h0M165.0 387.8h0M147.6 406.6h0M137.1 410.8h0M147.9 376.0h0M148.9 414.2h0M135.3 376.4h0M144.7 404.4h0M145.1 411.1h0M146.9 394.8h0M145.7 416.5h0M143.1 421.6h0M150.9 334.4h0M133.3 359.2h0M143.8 418.4h0M144.6 414.2h0M151.2 366.1h0M146.8 391.3h0M139.1 399.4h0M151.6 405.4h0M126.3 401.5h0M153.4 416.8h0M143.3 421.4h0M152.5 388.5h0M143.0 409.1h0M136.2 410.9h0M139.4 394.8h0M154.4 395.4h0M138.9 409.7h0M138.8 389.8h0M155.2 390.1h0M141.6 413.2h0M139.2 411.8h0M132.3 394.8h0M143.2 419.7h0M144.7 419.8h0M145.1 410.3h0M134.0 368.7h0M129.0 388.9h0M146.4 404.3h0M133.5 309.7h0M151.0 418.2h0M135.8 404.4h0M132.0 412.6h0M154.1 370.5h0M143.4 421.2h0M154.9 395.5h0M143.7 419.9h0M138.4 376.3h0M148.9 381.9h0M138.6 374.8h0M149.3 412.8h0M146.0 393.7h0M137.8 413.8h0M143.0 421.2h0M138.9 389.3h0M133.6 328.1h0M132.1 390.0h0M146.9 383.7h0M149.4 402.1h0M137.9 410.7h0M122.5 412.1h0M158.7 387.0h0M143.6 419.6h0M151.9 417.4h0M144.1 418.2h0M138.0 382.3h0M149.1 394.3h0M147.7 347.8h0M123.3 400.2h0M148.4 398.4h0M137.6 413.6h0M154.5 395.9h0M115.3 387.4h0M136.8 382.0h0M140.2 398.6h0M146.6 418.1h0M143.5 421.1h0M141.4 409.8h0M143.4 421.6h0M148.6 340.3h0M133.7 393.9h0M143.7 421.1h0M138.9 366.0h0M142.8 421.3h0M144.2 419.7h0M140.7 418.8h0M128.3 394.3h0M144.0 419.0h0M138.7 376.8h0M147.4 417.3h0M142.4 418.6h0M163.1 385.7h0M137.4 412.9h0M138.3 403.2h0M135.4 410.3h0M141.6 396.8h0M152.4 368.3h0M146.9 415.8h0M139.2 386.6h0M138.6 402.5h0M142.8 420.4h0M144.6 404.4h0M147.6 406.4h0M149.9 368.1h0M146.0 405.0h0M125.6 389.7h0M154.3 403.3h0M120.7 407.3h0M145.0 395.5h0M148.0 413.3h0M140.2 416.0h0M145.1 404.8h0M153.2 396.9h0M135.4 412.0h0M139.3 417.9h0M159.2 388.9h0M139.2 417.8h0M139.7 417.0h0M149.2 407.2h0M143.6 421.4h0M141.6 416.0h0M152.3 391.4h0M157.6 407.6h0M136.3 373.6h0M150.4 402.5h0M162.5 391.3h0M139.9 386.7h0M139.3 358.6h0M140.4 396.5h0M139.2 415.1h0M140.0 418.5h0M148.0 418.9h0M140.6 417.9h0M146.2 416.7h0M142.2 415.2h0M157.2 398.5h0M148.8 416.0h0M140.6 416.1h0M153.6 360.5h0M136.6 413.9h0M136.4 357.7h0M146.7 414.9h0M131.8 399.1h0M152.1 409.1h0M136.7 412.0h0M149.8 391.3h0M144.9 419.0h0M144.1 415.7h0M140.9 373.6h0M141.2 405.9h0M148.5 359.1h0M139.8 420.2h0M142.8 419.9h0M132.9 382.8h0M140.6 408.2h0M137.4 410.3h0M138.4 412.7h0M143.9 418.9h0M141.5 405.7h0M148.7 410.7h0M150.4 398.3h0M146.4 413.4h0M145.4 418.8h0M133.6 387.9h0M144.9 419.7h0M145.2 415.0h0M156.5 394.6h0M135.2 380.3h0M140.6 414.7h0M132.7 366.0h0M142.5 417.9h0M141.2 419.3h0M148.2 360.3h0M145.3 405.3h0M143.0 420.8h0M133.5 380.3h0M149.3 418.0h0M144.1 411.5h0M144.0 420.8h0M146.2 367.1h0M141.0 419.1h0M139.5 413.6h0M138.5 375.8h0M120.8 406.3h0M139.9 411.6h0M153.2 378.0h0M134.9 392.3h0M146.5 386.2h0M147.7 413.3h0M137.5 417.5h0M135.3 391.7h0M145.3 413.9h0M143.2 419.1h0M133.6 401.5h0M161.7 397.5h0M142.3 418.0h0M142.6 420.1h0M149.3 375.0h0M151.9 399.7h0M112.7 406.8h0M152.4 415.4h0M114.6 386.7h0M141.6 397.2h0M133.7 381.0h0M146.2 411.6h0M142.2 420.3h0M137.1 367.4h0M136.0 382.8h0M137.6 384.4h0M138.3 418.8h0M153.9 393.5h0M141.8 409.9h0M144.6 420.6h0M136.4 376.5h0M142.9 418.5h0M142.4 415.4h0M140.6 407.6h0M143.2 421.5h0M141.2 409.5h0M155.5 379.2h0M144.9 410.8h0M140.9 418.1h0M138.3 379.1h0M136.7 409.2h0M159.4 394.2h0M131.0 392.4h0M139.6 404.4h0M141.4 417.2h0M138.4 407.5h0M150.7 412.6h0M149.3 368.8h0M141.6 398.3h0M141.8 405.3h0M135.8 413.3h0M144.2 420.7h0M136.4 411.1h0M133.2 415.6h0M148.0 405.3h0M147.6 366.7h0M138.3 411.3h0M151.5 415.0h0M147.6 415.8h0M141.7 417.6h0M150.1 412.6h0M141.9 409.3h0M135.3 406.3h0M148.4 407.6h0M155.3 360.0h0M131.3 341.9h0M147.0 378.2h0M141.8 419.7h0M146.8 416.8h0M148.5 412.9h0M143.5 421.6h0M134.1 404.1h0M140.4 416.0h0M156.9 410.9h0M149.4 397.4h0M150.7 359.6h0M147.9 417.4h0M145.5 405.7h0M122.2 389.9h0M144.7 419.5h0M139.5 400.5h0M152.1 340.2h0M150.1 376.6h0M147.3 419.9h0M150.4 380.3h0M142.3 413.6h0M133.3 368.2h0M131.4 373.7h0M145.9 404.6h0M138.7 407.4h0M152.0 380.5h0M129.6 406.2h0M139.2 416.7h0M134.2 398.6h0M145.9 413.6h0M144.2 419.2h0M143.4 421.7h0M138.5 364.8h0M147.4 377.5h0M131.5 347.6h0M130.9 410.2h0M146.6 379.2h0M142.7 420.9h0M151.1 416.5h0M145.1 420.1h0M142.8 418.9h0M140.0 410.8h0M141.7 417.1h0M148.1 400.5h0M155.3 371.7h0M145.9 381.5h0M150.5 390.9h0M153.4 401.2h0M153.1 408.4h0M155.5 403.4h0M154.4 381.3h0M148.0 406.4h0M142.4 408.3h0M166.2 395.6h0M138.3 395.5h0M145.5 419.2h0M163.9 396.8h0M145.8 386.8h0M139.9 415.8h0M140.5 418.4h0M151.8 377.1h0M157.8 411.1h0M146.8 373.9h0M133.2 411.8h0M150.8 410.9h0M146.4 407.2h0M137.5 401.2h0M138.0 349.8h0M154.7 398.6h0M152.6 339.4h0M137.4 384.7h0M156.1 386.7h0M133.7 384.2h0M154.8 390.3h0M140.6 402.7h0M141.3 417.0h0M138.3 403.4h0M144.2 421.3h0M149.2 413.4h0M140.9 418.0h0M151.9 360.4h0M151.3 362.5h0M142.4 404.0h0M136.8 355.2h0M162.2 395.3h0M147.0 416.7h0M146.6 373.6h0M139.9 419.5h0M142.7 419.6h0M144.4 402.3h0M140.3 413.1h0M151.5 376.3h0M152.7 375.8h0M147.0 417.2h0M146.8 418.8h0M131.2 400.3h0M146.3 419.9h0M138.2 396.6h0M137.6 387.4h0M146.4 419.4h0M131.0 398.2h0M137.6 404.8h0M135.3 406.0h0M139.0 392.6h0M147.3 415.1h0M148.5 396.5h0M147.2 417.8h0M145.1 409.9h0M133.9 405.3h0M149.1 325.2h0M148.8 418.4h0M141.2 415.3h0M142.8 420.7h0M150.0 412.2h0M150.8 374.7h0M142.8 415.8h0M134.4 389.5h0M139.7 418.7h0M146.0 417.1h0M143.7 421.1h0M135.7 413.7h0M142.6 420.8h0M164.2 406.2h0M137.9 374.5h0M140.5 406.8h0M136.5 394.5h0M134.8 390.1h0M147.6 401.1h0M165.8 406.7h0M146.4 408.6h0M157.1 415.5h0M138.6 415.7h0M148.6 369.8h0M134.8 343.5h0M172.3 388.0h0M140.6 404.2h0M156.7 390.2h0M153.6 408.7h0M142.7 414.3h0M151.0 410.9h0M144.2 419.9h0M147.6 381.0h0M133.6 404.7h0M142.3 419.3h0M146.5 415.2h0M142.4 404.0h0M126.4 406.0h0M151.1 402.6h0M137.8 370.6h0M130.6 397.4h0M141.5 415.8h0M138.4 413.2h0M147.1 385.3h0M139.7 415.8h0M147.5 374.4h0M141.9 416.7h0M143.2 421.5h0M133.0 363.8h0M139.3 416.6h0M135.0 406.5h0M139.7 416.8h0M148.3 361.1h0M126.2 407.1h0M143.4 421.7h0M139.7 391.1h0M144.9 413.9h0M147.7 387.4h0M147.8 413.5h0M151.0 351.1h0M147.4 385.7h0M138.4 392.3h0M152.5 394.7h0M128.7 399.6h0M146.4 395.1h0M140.0 378.8h0M144.4 420.4h0M135.1 396.7h0M147.0 400.6h0M155.3 382.2h0M154.3 391.6h0M140.6 408.0h0M131.0 405.1h0M143.1 420.6h0M136.5 370.2h0M147.9 392.4h0M148.1 401.6h0M152.0 371.6h0M148.9 410.2h0M146.7 408.6h0M138.5 417.6h0M129.7 405.3h0M152.6 351.8h0M120.7 400.5h0M155.0 407.7h0M145.1 402.1h0M142.2 416.7h0M140.1 387.1h0M148.1 394.6h0M153.4 386.8h0M134.9 401.9h0M144.2 420.7h0M141.9 416.6h0M142.2 420.5h0M137.3 408.0h0M142.6 416.4h0M132.3 404.5h0M157.8 402.9h0M153.9 402.5h0M160.7 397.5h0M149.4 369.8h0M145.7 416.4h0M132.2 398.5h0M142.6 413.7h0M145.7 416.8h0M129.7 409.1h0M142.0 420.5h0M141.4 406.5h0M123.5 404.6h0M134.3 388.9h0M140.5 399.8h0M152.9 369.9h0M151.3 347.4h0M139.1 405.6h0M152.6 399.1h0M131.5 393.6h0M143.1 421.1h0M151.3 410.2h0M156.8 403.0h0M142.2 418.8h0M121.2 389.8h0M138.4 409.1h0M135.9 417.1h0M132.7 397.8h0M155.8 400.8h0M141.5 418.5h0M151.1 392.1h0M142.1 411.9h0M172.6 396.7h0M153.7 370.8h0M137.6 415.6h0M140.4 414.3h0M151.8 405.4h0M137.4 414.9h0M142.0 417.6h0M140.2 415.6h0M143.7 421.2h0M148.2 387.4h0M142.6 418.3h0M140.0 382.3h0M135.0 375.1h0M135.2 341.0h0M141.5 420.4h0M139.1 408.2h0M145.5 393.3h0M152.1 397.0h0M152.3 390.4h0M152.5 388.6h0M156.0 388.0h0M138.2 339.5h0M151.9 360.1h0M141.5 407.0h0M146.6 398.5h0M144.7 418.5h0M140.6 415.8h0M135.6 385.0h0M140.0 405.2h0M140.8 416.9h0M140.8 412.7h0M151.3 407.0h0M151.0 372.6h0M133.6 385.7h0M143.4 421.6h0M151.0 394.2h0M163.7 402.5h0M145.1 420.0h0M145.9 409.5h0M145.8 419.0h0M136.3 379.7h0M150.1 378.5h0M143.5 421.2h0M164.8 399.2h0M142.6 420.6h0M165.7 400.9h0M164.1 414.8h0M148.2 419.3h0M151.4 349.2h0M148.1 398.7h0M144.8 416.1h0M128.5 413.0h0M134.4 402.5h0M117.9 397.7h0M141.1 403.8h0M136.2 380.7h0M140.7 393.5h0M148.4 402.1h0M146.9 414.2h0M155.1 394.5h0M131.7 393.4h0M130.3 396.5h0M148.3 407.4h0M145.8 416.1h0M142.9 419.4h0M131.1 396.9h0M148.8 345.5h0M144.9 416.9h0M148.7 393.4h0M142.7 416.0h0M140.1 412.4h0M137.4 360.3h0M164.4 409.8h0M141.3 418.3h0M137.0 414.9h0M133.0 384.5h0M147.8 385.0h0M134.9 392.5h0M133.0 417.9h0M143.8 421.0h0M135.1 410.0h0M148.7 414.3h0M139.7 412.8h0M135.3 340.7h0M153.9 351.4h0M157.4 390.8h0M139.7 392.3h0M146.1 416.8h0M135.0 359.1h0M154.9 415.3h0M147.7 411.4h0M143.9 419.5h0M141.4 419.1h0M131.4 413.5h0M143.3 421.5h0M114.7 403.3h0M134.1 412.6h0M146.1 418.7h0M141.0 403.7h0M143.5 421.6h0M153.9 406.3h0M140.7 419.0h0M146.2 403.0h0M154.5 394.1h0M141.3 394.3h0M147.0 416.1h0M140.2 419.2h0M141.5 417.4h0M144.7 418.5h0M131.3 406.9h0M138.7 411.9h0M128.7 389.2h0M139.4 416.6h0M150.1 415.3h0M153.8 332.6h0M136.8 408.8h0M143.8 420.3h0M144.0 420.8h0M147.9 416.9h0M146.6 418.3h0M140.9 408.7h0M140.0 406.2h0M150.4 416.8h0M151.2 415.2h0M161.1 391.3h0M136.2 385.6h0M147.6 417.1h0M138.8 406.7h0M146.4 387.3h0M133.9 406.8h0M148.7 386.7h0M150.3 396.6h0M131.3 352.0h0M152.8 403.3h0M148.0 418.0h0M139.0 378.1h0M153.2 359.1h0M150.1 414.3h0M134.4 404.9h0M138.5 402.8h0M139.5 377.4h0M139.2 418.5h0M166.3 408.7h0M135.0 408.7h0M152.2 357.7h0M145.4 411.5h0M150.3 393.8h0M133.4 408.3h0M138.9 407.7h0M131.4 410.2h0M138.6 406.2h0M144.1 420.5h0M151.5 405.8h0M147.5 418.7h0M136.1 417.0h0M135.3 409.9h0M152.1 403.0h0M145.1 415.3h0M148.2 366.8h0M130.6 397.5h0M145.8 418.9h0M147.5 397.0h0M143.8 421.3h0M144.1 415.3h0M144.9 385.1h0M143.2 421.1h0M160.3 384.9h0M143.7 420.9h0M139.5 413.9h0M149.0 412.0h0M145.2 416.5h0M143.3 421.5h0M140.8 405.5h0M139.1 411.5h0M139.8 396.4h0M143.0 419.6h0M149.1 417.3h0M143.7 420.4h0M138.8 393.5h0M150.0 400.8h0M153.4 360.1h0M148.1 408.9h0M134.5 400.2h0M130.1 404.0h0M123.7 409.3h0M118.4 400.8h0M147.0 398.7h0M144.8 415.7h0M153.7 400.0h0M143.7 421.4h0M139.6 399.0h0M144.7 414.0h0M127.9 394.5h0M160.0 394.9h0M134.6 392.1h0M147.9 409.0h0M150.8 341.6h0M142.6 420.7h0M146.4 418.8h0M139.2 378.9h0M138.8 391.1h0M149.0 401.3h0M153.9 413.0h0M141.6 419.9h0M152.6 399.6h0M138.9 417.2h0M148.1 413.1h0M151.2 401.8h0M147.5 401.8h0M147.8 399.7h0M137.8 406.8h0M131.2 395.3h0M139.1 391.5h0M126.6 385.9h0M147.9 363.2h0M149.9 409.7h0M151.7 414.6h0M142.5 416.6h0M156.1 392.6h0M143.5 419.8h0M140.7 395.3h0M130.1 396.3h0M149.3 385.1h0M146.4 408.4h0M154.6 416.2h0M136.0 354.8h0M140.7 416.6h0M135.0 379.7h0M133.2 365.6h0M133.5 383.3h0M145.7 416.3h0M138.4 384.1h0M133.0 376.7h0M134.9 349.6h0M155.3 342.8h0M140.8 417.6h0M134.2 415.1h0M171.7 390.9h0M144.5 417.6h0M140.7 418.2h0M150.4 370.6h0M124.3 399.2h0M144.1 421.3h0M128.6 401.6h0M157.9 401.5h0M148.2 395.4h0M140.1 415.3h0M141.4 399.6h0M144.9 384.8h0M148.7 384.7h0M142.9 420.6h0M143.9 419.6h0M143.1 418.2h0M142.3 410.9h0M140.3 410.0h0M161.0 410.3h0M157.5 396.1h0M149.8 379.3h0M156.9 401.0h0M139.9 400.6h0M136.3 410.1h0M140.4 395.9h0M136.3 355.8h0M146.3 408.4h0M154.3 404.5h0M150.1 416.1h0M139.7 410.2h0M143.0 418.9h0M140.6 388.4h0M143.0 420.2h0M147.2 399.1h0M133.5 404.1h0M142.1 420.1h0M137.8 384.4h0M143.5 421.7h0M148.2 408.4h0M131.6 347.7h0M143.4 421.4h0M142.0 417.9h0M154.6 399.0h0M148.6 372.6h0M140.9 366.0h0M145.8 412.6h0M153.5 389.3h0M144.1 417.5h0M148.1 418.4h0M147.4 369.9h0M161.8 395.7h0M150.8 325.4h0M139.2 414.9h0M152.8 411.0h0M129.8 390.7h0M143.4 421.5h0M141.7 414.8h0M149.3 381.2h0M152.2 393.2h0M152.6 396.5h0M146.3 396.8h0M149.5 363.4h0M145.5 405.0h0M149.5 387.3h0M133.5 390.3h0M144.1 421.1h0M127.8 395.6h0M135.4 413.8h0M122.3 386.7h0M143.1 420.9h0M137.0 408.8h0M146.9 408.2h0M150.7 363.4h0M149.2 384.8h0M126.2 414.2h0M141.4 410.3h0M146.8 415.8h0M146.9 409.9h0M143.1 421.5h0M132.6 405.3h0M141.2 396.2h0M138.1 391.2h0M151.1 416.9h0M136.9 414.1h0M144.7 415.6h0M136.1 387.9h0M144.6 412.5h0M164.4 390.9h0M148.6 405.4h0M143.8 420.5h0M141.8 420.3h0M138.9 414.0h0M143.9 420.1h0M140.1 412.3h0M167.1 394.8h0M159.6 385.4h0M124.8 387.4h0M128.4 394.9h0M154.6 379.8h0M149.9 334.5h0M145.7 408.6h0M133.1 403.0h0M107.9 407.8h0M126.8 404.8h0M154.5 395.4h0M151.8 401.8h0M147.6 391.4h0M143.1 418.2h0M123.3 394.9h0M139.5 410.7h0M145.5 415.5h0M139.2 404.1h0M175.9 395.9h0M145.0 417.8h0M136.9 387.4h0M143.9 418.1h0M140.5 412.7h0M146.0 418.2h0M157.2 396.9h0M150.0 412.3h0M149.1 367.4h0M148.0 386.6h0M142.3 382.1h0M141.8 408.4h0M136.9 412.9h0M145.7 415.0h0M136.1 375.7h0M148.3 385.5h0M150.0 412.1h0M145.3 403.4h0M141.4 419.7h0M142.1 409.7h0M131.6 385.7h0M149.2 395.7h0M142.4 419.0h0M152.6 353.3h0M153.9 403.0h0M140.0 383.0h0M150.1 412.7h0M147.2 416.6h0M134.1 402.6h0M135.1 382.8h0M147.3 380.6h0M148.5 414.3h0M144.5 399.4h0M150.1 370.2h0M150.8 401.9h0M132.8 403.9h0M151.0 395.0h0M126.3 404.8h0M145.8 386.0h0M148.6 390.5h0M134.9 344.8h0M121.4 385.2h0M143.4 421.6h0M148.4 365.7h0M144.1 417.3h0M149.9 378.0h0M145.1 392.3h0M154.3 360.2h0M143.3 420.9h0M132.6 405.6h0M145.4 419.9h0M136.1 388.1h0M125.2 398.6h0M131.0 397.1h0M148.3 390.2h0M151.0 400.8h0M145.0 414.7h0M144.4 408.2h0M146.0 415.2h0M139.3 418.3h0M141.6 419.5h0M139.8 416.9h0M155.4 388.1h0M146.3 388.8h0M136.1 408.1h0M147.2 411.3h0M140.0 409.2h0M138.8 415.2h0M145.9 407.3h0M152.8 359.6h0M147.9 392.9h0M119.2 405.8h0M138.7 346.6h0M137.2 381.7h0M148.2 402.9h0M151.8 339.0h0M141.1 393.2h0M141.7 419.2h0M154.7 402.5h0M140.7 412.5h0M148.7 372.5h0M151.6 399.5h0M134.1 412.0h0M144.0 419.9h0M142.0 413.2h0M153.7 414.7h0M140.5 410.5h0M144.2 416.7h0M151.1 412.4h0M141.4 419.2h0M151.7 414.7h0M142.9 419.0h0M140.7 386.4h0M142.7 420.1h0M134.9 348.9h0M134.9 379.5h0M139.7 413.9h0M133.2 361.3h0M127.0 398.0h0M141.2 415.4h0M157.7 400.2h0M145.2 414.9h0M137.6 411.6h0M153.1 386.5h0M145.4 419.3h0M143.3 419.9h0M145.1 418.9h0M137.1 409.8h0M150.2 387.9h0M139.3 409.7h0M144.0 420.3h0M136.1 387.3h0M140.3 417.4h0M153.0 413.6h0M164.1 394.3h0M153.0 381.4h0M145.2 393.3h0M156.3 401.9h0M149.2 410.0h0M142.7 416.9h0M130.5 391.9h0M142.8 419.1h0M149.1 376.1h0M142.6 415.4h0M147.9 416.5h0M148.0 414.9h0M154.2 398.5h0M148.0 413.8h0M139.8 385.5h0M142.9 414.1h0M149.0 355.5h0M142.9 414.9h0M142.4 416.5h0M144.3 420.8h0M142.2 413.3h0M138.5 407.9h0M140.7 419.1h0M140.4 419.6h0M149.2 403.6h0M130.4 406.4h0M133.4 388.9h0M141.3 412.9h0M141.1 409.3h0M139.8 398.6h0M131.6 375.0h0M155.8 397.0h0M160.1 398.1h0M146.6 419.9h0M146.5 366.8h0M156.2 398.6h0M133.5 399.6h0M142.3 417.3h0M141.4 414.2h0M131.8 407.6h0M134.0 338.6h0M153.6 391.2h0M153.5 340.9h0M125.1 404.7h0M141.0 371.4h0M142.2 418.0h0M144.2 420.4h0M146.7 397.1h0M146.1 394.2h0M145.4 407.4h0M142.5 409.1h0M146.9 408.7h0M140.5 417.1h0M141.3 415.4h0M135.3 361.1h0M142.6 409.0h0M141.8 418.2h0M143.1 421.4h0M154.2 372.0h0M139.1 413.0h0M146.8 374.7h0M110.1 388.9h0M143.0 416.9h0M140.4 392.6h0M138.1 415.2h0M131.3 412.8h0M149.7 323.9h0M140.6 402.7h0M140.0 376.3h0M141.4 419.7h0M144.0 420.7h0M152.0 415.2h0M150.3 358.0h0M155.1 360.7h0M154.0 388.5h0M153.8 412.0h0M137.0 374.8h0M145.9 407.6h0M165.5 403.5h0M151.8 362.7h0M141.8 415.7h0M139.0 364.2h0M133.3 409.1h0M149.5 403.7h0M145.6 412.4h0M148.4 372.5h0M147.0 417.0h0M138.8 400.4h0M142.6 419.3h0M141.0 416.3h0M142.2 419.2h0M134.4 356.3h0M145.1 419.6h0M167.3 395.1h0M143.6 411.0h0M145.2 386.4h0M135.9 382.1h0M142.0 403.7h0M157.5 399.5h0M153.4 387.3h0M146.0 415.7h0M141.4 389.2h0M148.7 414.6h0M145.1 420.2h0M136.4 408.9h0M132.1 372.8h0M150.5 373.1h0M143.0 421.3h0M140.4 418.5h0M126.6 412.8h0M150.4 410.4h0M148.6 367.1h0M136.7 356.3h0M138.9 413.8h0M149.7 410.4h0M139.3 411.9h0M130.8 398.0h0M145.1 410.9h0M150.8 382.2h0M152.8 408.7h0M129.1 393.4h0M153.0 389.5h0M143.3 421.5h0M144.8 408.1h0M137.6 405.9h0M140.3 414.5h0M139.6 366.7h0M145.3 419.0h0M135.2 395.2h0M143.1 421.5h0M144.6 406.3h0M191.3 397.7h0M149.3 414.5h0M148.0 380.0h0M137.5 411.0h0M152.1 407.1h0M144.8 408.7h0M140.4 403.9h0M145.1 398.9h0M142.0 413.4h0M147.2 379.5h0M152.9 360.6h0M141.2 417.5h0M137.2 357.2h0M137.1 415.6h0M146.8 388.4h0M146.8 396.3h0M142.7 418.5h0M148.3 360.3h0M136.2 400.8h0M143.1 419.9h0M147.7 402.8h0M152.1 406.7h0M142.6 421.1h0M145.9 401.5h0M140.3 392.1h0M160.3 386.8h0M142.2 413.4h0M154.7 372.0h0M144.4 414.4h0M142.3 417.3h0M142.3 419.9h0M143.3 421.3h0M141.6 410.5h0M140.5 399.4h0M155.7 396.4h0M154.0 354.8h0M151.8 376.5h0M140.1 409.1h0M142.7 419.6h0M148.5 387.6h0M139.7 398.0h0M148.4 380.6h0M158.2 411.5h0M149.7 413.7h0M137.5 395.4h0M149.2 373.6h0M140.3 404.9h0M145.2 417.1h0M137.7 381.9h0M154.7 356.7h0M146.2 393.0h0M137.0 415.5h0M156.0 396.8h0M135.8 413.2h0M139.6 375.6h0M132.6 351.8h0M130.0 396.6h0M147.2 402.8h0M144.8 417.3h0M134.0 344.0h0M138.8 417.3h0M144.7 384.5h0M138.7 387.6h0M154.7 394.7h0M159.8 398.8h0M143.6 420.8h0M140.4 414.4h0M159.0 402.7h0M139.0 415.7h0M144.3 416.4h0M143.5 421.6h0M136.3 401.0h0M144.9 417.8h0M145.8 415.3h0M147.5 400.4h0M151.2 389.1h0M142.5 407.1h0M143.2 421.5h0M145.5 413.0h0M139.0 384.2h0M144.6 420.3h0M142.5 420.9h0M145.8 419.0h0M144.8 417.4h0M147.8 374.7h0M168.0 390.4h0M153.0 407.6h0M137.7 412.0h0M128.7 398.2h0M126.8 396.4h0M157.7 399.0h0M147.3 405.2h0M139.6 386.7h0M137.5 375.2h0M156.1 394.4h0M135.1 404.5h0M141.1 397.8h0M147.4 416.8h0M139.4 417.7h0M139.0 370.2h0M138.6 406.2h0M142.1 410.2h0M138.2 415.8h0M157.0 395.6h0M138.8 390.0h0M133.2 402.1h0M164.4 390.3h0M141.8 405.8h0M158.4 392.3h0M151.9 415.4h0M153.8 415.7h0M159.3 403.9h0M134.1 383.7h0M153.1 403.0h0M143.6 421.4h0M152.7 395.8h0M150.7 390.2h0M158.8 392.0h0M142.4 420.5h0M134.5 411.9h0M146.9 404.8h0M137.6 415.3h0M146.3 393.1h0M137.0 409.9h0M160.9 412.6h0M145.4 418.4h0M142.4 421.1h0M131.5 383.4h0M137.9 415.9h0M138.9 389.1h0M149.6 369.1h0M147.4 373.1h0M145.3 399.3h0M145.0 410.7h0M139.8 395.6h0M143.3 421.3h0M143.9 416.9h0M134.7 411.5h0M141.9 410.8h0M158.0 404.0h0M143.6 421.5h0M136.2 405.0h0M143.9 420.6h0M148.6 406.8h0M131.6 346.0h0M124.4 415.4h0M141.2 411.0h0M130.9 392.7h0M141.5 410.5h0M119.6 386.6h0M147.6 415.8h0M133.1 409.2h0M144.7 406.6h0M162.9 408.9h0M143.7 415.7h0M126.2 387.6h0M134.8 355.5h0M137.6 401.8h0M144.1 415.5h0M141.6 405.2h0M138.3 417.4h0M145.2 409.5h0M143.1 419.1h0M152.0 416.5h0M138.5 384.1h0M158.8 400.7h0M143.4 421.6h0M139.6 368.8h0M138.2 415.0h0M147.9 415.8h0M126.9 391.1h0M137.5 406.2h0M119.0 402.4h0M161.5 413.4h0M130.2 395.4h0M146.0 411.0h0M139.1 369.2h0M146.8 409.5h0M144.2 420.0h0M146.2 407.1h0M138.4 415.5h0M143.8 420.5h0M142.8 418.9h0M146.2 410.9h0M144.0 418.2h0M156.7 398.6h0M137.0 415.8h0M131.5 394.6h0M140.9 384.4h0M149.6 411.2h0M144.6 402.7h0M138.4 412.8h0M138.2 375.5h0M142.6 420.6h0M147.8 396.1h0M143.8 421.3h0M133.4 336.6h0M139.0 342.2h0M137.1 368.0h0M122.7 392.8h0M135.6 398.4h0M171.4 408.0h0M123.4 414.3h0M143.8 420.6h0M150.0 415.9h0M153.4 414.7h0M149.1 392.6h0M133.6 415.1h0M145.6 389.1h0M142.4 416.9h0M149.7 414.7h0M146.3 406.6h0M142.9 420.8h0M144.8 419.9h0M143.7 420.7h0M140.3 416.7h0M137.0 414.3h0M140.9 376.7h0M159.0 396.8h0M143.1 420.0h0M145.6 420.0h0M141.3 419.1h0M144.5 412.7h0M141.1 411.4h0M145.5 416.8h0M158.9 396.9h0M142.9 419.5h0M139.3 410.5h0M138.3 419.8h0M152.1 398.4h0M144.0 419.1h0M155.2 369.8h0M136.3 367.0h0M141.3 404.2h0M137.1 412.9h0M138.5 399.6h0M159.6 408.5h0M147.7 384.1h0M137.8 402.7h0M136.8 412.5h0M163.8 389.2h0M153.7 413.3h0M141.9 387.9h0M141.4 415.3h0M138.2 378.3h0M146.4 415.3h0M144.1 419.6h0M148.5 380.9h0M136.6 410.8h0M144.4 419.5h0M154.4 382.2h0M159.2 399.7h0M140.4 418.7h0M140.2 416.6h0M146.3 417.1h0M144.7 418.9h0M140.8 420.3h0M139.1 380.7h0M137.0 407.5h0M143.6 420.5h0M152.6 415.4h0M147.3 419.2h0M141.7 405.1h0M135.8 415.1h0M138.1 363.1h0M140.9 404.8h0M137.8 412.9h0M143.9 419.5h0M141.4 373.8h0M140.1 413.4h0M154.0 409.9h0M140.2 398.1h0M142.5 417.6h0M133.5 401.4h0M136.2 393.0h0M144.3 405.3h0M132.5 411.7h0M146.0 418.9h0M142.7 421.0h0M152.9 397.3h0M127.6 411.9h0M144.2 417.9h0M154.0 374.7h0M151.6 394.3h0M134.2 408.3h0M138.8 399.1h0M145.1 419.6h0M143.0 421.0h0M132.7 349.9h0M160.0 388.1h0M151.6 402.0h0M144.9 400.1h0M134.2 373.9h0M139.4 415.4h0M139.3 370.8h0M141.1 413.8h0M142.6 421.0h0M136.1 388.9h0M150.6 385.0h0M144.5 414.1h0M157.1 393.1h0M136.7 407.5h0M158.5 391.3h0M144.1 420.9h0M150.4 395.6h0M149.0 395.1h0M145.1 410.4h0M140.3 411.1h0M135.7 363.1h0M141.9 420.4h0M133.8 415.9h0M135.1 402.6h0M135.3 360.0h0M146.6 417.8h0M138.6 410.9h0M139.0 350.6h0M139.2 414.6h0M140.0 418.2h0M151.1 371.2h0M147.5 416.2h0M141.0 413.9h0M138.7 409.4h0M138.0 378.9h0M134.2 394.3h0M129.1 396.0h0M142.8 411.6h0M131.4 354.2h0M131.4 405.6h0M131.9 373.1h0M146.1 420.0h0M125.9 389.7h0M153.3 399.1h0M126.4 406.5h0M135.6 393.9h0M144.6 419.0h0M138.2 413.8h0M164.6 388.3h0M121.0 388.6h0M130.9 397.6h0M139.9 403.7h0M140.9 375.7h0M137.0 402.3h0M140.3 413.7h0M139.2 410.4h0M151.2 369.2h0M135.1 372.9h0M141.5 415.2h0M146.3 416.7h0M151.9 394.9h0M149.5 404.2h0M149.0 415.1h0M134.2 387.8h0M143.1 421.3h0M155.8 386.9h0M154.3 409.9h0M142.6 421.0h0M140.6 418.3h0M157.1 390.0h0M145.8 417.8h0M149.7 361.8h0M141.8 418.4h0M144.3 415.1h0M157.4 400.6h0M127.3 413.7h0M148.6 417.0h0M150.7 355.3h0M151.3 408.4h0M148.8 409.0h0M137.9 392.4h0M134.5 367.7h0M140.7 389.7h0M145.1 408.4h0M146.7 397.2h0M143.5 421.2h0M144.3 418.9h0M138.2 406.1h0M146.9 415.6h0M144.0 416.9h0M150.9 414.6h0M134.6 411.1h0M133.2 412.0h0M151.1 405.9h0M137.9 361.2h0M140.9 377.7h0M145.4 412.8h0M155.3 352.7h0M145.4 418.6h0M145.3 412.5h0M140.1 366.1h0M146.7 417.6h0M153.7 354.8h0M147.6 407.1h0M140.7 399.2h0M149.1 394.2h0M126.9 385.5h0M138.7 394.4h0M141.1 362.9h0M144.6 411.0h0M141.0 415.6h0M133.5 410.2h0M148.7 415.0h0M148.1 400.0h0M152.3 389.1h0M148.4 391.5h0M141.6 417.4h0M168.3 403.8h0M147.8 415.3h0M147.1 417.3h0M139.6 388.7h0M140.4 419.2h0M139.7 401.0h0M112.3 400.2h0M130.5 411.0h0M142.1 412.3h0M166.0 397.2h0M142.9 421.1h0M141.3 406.8h0M137.9 376.0h0M135.2 324.9h0M144.6 412.7h0M155.5 392.4h0M139.7 385.1h0M153.9 396.1h0M144.5 419.3h0M151.8 337.5h0M131.9 395.3h0M149.2 416.5h0M142.4 420.9h0M144.1 421.0h0M135.3 403.9h0M144.0 419.4h0M136.4 407.4h0M147.8 419.9h0M133.0 410.2h0M149.0 404.6h0M154.0 403.2h0M141.1 407.4h0M133.6 359.9h0M156.2 394.3h0M141.5 404.3h0M147.2 393.0h0M139.3 400.2h0M144.9 415.5h0M138.1 412.0h0M143.6 421.5h0M137.9 391.7h0M151.7 401.3h0M146.1 407.5h0M150.5 356.5h0M147.8 368.7h0M133.5 388.7h0M143.9 416.4h0M154.1 408.8h0M147.6 417.4h0M142.1 420.7h0M168.7 386.8h0M151.7 407.7h0M125.2 403.2h0M137.9 418.2h0M145.8 372.9h0M140.1 414.0h0M122.5 392.9h0M151.1 404.0h0M140.0 397.6h0M126.5 390.4h0M134.8 402.4h0M134.8 407.5h0M141.3 419.7h0M150.6 391.5h0M149.9 417.2h0M149.5 408.3h0M152.4 414.2h0M150.5 403.6h0M145.1 405.1h0M154.7 361.6h0M134.3 356.9h0M138.7 411.3h0M146.9 395.2h0M136.1 378.8h0M150.3 348.8h0M147.3 413.7h0M139.2 407.7h0M143.2 419.9h0M167.4 393.3h0M133.7 404.0h0M145.3 420.1h0M156.6 403.9h0M144.1 412.0h0M142.9 419.7h0M136.7 380.4h0M161.3 398.5h0M137.0 406.6h0M144.6 419.1h0M137.8 375.5h0M153.0 362.8h0M119.7 393.6h0M139.1 388.7h0M143.9 421.2h0M134.9 415.6h0M139.2 412.3h0M154.4 406.0h0M128.4 411.1h0M133.2 380.7h0M149.1 415.7h0M140.1 409.2h0M145.1 417.0h0M151.3 411.7h0M133.8 385.9h0M143.8 419.9h0M123.6 390.5h0M138.0 416.3h0M139.1 414.3h0M142.2 414.7h0M138.1 403.7h0M141.6 419.8h0M130.4 402.3h0M136.1 400.8h0M131.9 391.5h0M138.8 388.3h0M136.2 392.7h0M147.4 417.0h0M142.1 410.4h0M139.6 396.2h0M137.9 412.1h0M136.8 390.9h0M139.4 413.7h0M150.3 350.8h0M147.2 392.8h0M145.7 418.5h0M139.9 382.4h0M135.5 406.5h0M144.8 413.3h0M145.8 418.5h0M136.6 408.8h0M176.8 384.9h0M144.6 420.1h0M132.4 390.9h0M134.3 356.2h0M142.9 421.2h0M146.1 399.8h0M143.1 421.2h0M127.4 404.0h0M136.4 365.2h0M144.9 420.7h0M142.6 421.0h0M140.6 416.2h0M129.5 410.9h0M140.9 418.0h0M143.1 419.4h0M142.2 416.2h0M144.4 410.4h0M143.8 413.5h0M124.6 400.2h0M135.6 367.2h0M132.5 405.7h0M136.0 405.9h0M137.1 385.2h0M161.5 408.3h0M128.6 402.3h0M145.0 420.1h0M135.2 388.1h0M147.6 368.9h0M142.7 417.5h0M145.4 418.4h0M143.1 421.4h0M128.7 388.6h0M144.1 417.4h0M152.0 402.2h0M138.0 372.5h0M144.9 417.4h0M140.1 410.1h0M145.3 417.9h0M143.2 421.5h0M146.3 402.7h0M149.8 412.3h0M143.0 421.0h0M141.9 415.5h0M145.3 412.4h0M124.9 395.5h0M150.1 416.9h0M160.1 402.9h0M139.7 412.6h0M146.4 397.8h0M132.4 395.7h0M146.8 418.3h0M149.5 397.1h0M133.9 327.3h0M134.9 380.6h0M134.8 399.5h0M142.0 410.3h0M151.6 407.0h0M132.9 347.0h0M152.6 393.4h0M149.5 381.6h0M148.8 415.7h0M145.6 420.2h0M137.4 360.6h0M145.3 414.4h0M125.2 408.4h0M147.3 413.3h0M154.3 358.6h0M152.0 377.0h0M142.1 420.2h0M143.3 420.6h0M140.7 408.5h0M145.4 420.7h0M148.9 409.9h0M156.6 392.3h0M143.4 421.6h0M145.5 418.0h0M134.1 390.3h0M143.3 421.1h0M143.3 421.5h0M166.9 386.9h0M132.1 405.9h0M141.9 406.5h0M128.9 391.6h0M142.6 419.9h0M130.5 411.1h0M147.0 420.4h0M143.2 421.1h0M145.0 409.7h0M148.5 409.0h0M151.8 402.9h0M137.5 414.1h0M140.6 415.9h0M146.2 411.5h0M151.3 374.1h0M150.1 373.8h0M137.3 378.7h0M147.3 406.0h0M137.5 406.6h0M149.5 389.1h0M148.6 386.3h0M135.2 378.0h0M126.8 402.3h0M138.1 411.3h0M140.1 388.3h0M141.0 405.0h0M141.1 417.8h0M127.2 389.2h0M137.4 386.7h0M142.3 416.3h0M145.1 419.1h0M140.5 413.8h0M139.9 415.1h0M144.4 420.2h0M149.1 411.3h0M148.3 409.1h0M154.1 413.7h0M144.7 411.4h0M140.2 418.4h0M151.0 329.6h0M147.0 377.6h0M154.2 395.6h0M134.3 359.3h0M141.5 386.6h0M156.9 386.6h0M148.3 413.2h0M132.9 329.3h0M134.7 382.6h0M150.2 374.6h0M140.8 405.0h0M143.1 417.7h0M136.6 394.4h0M144.2 414.8h0M142.4 418.9h0M138.1 417.9h0M140.8 420.5h0M140.2 406.8h0M140.0 411.3h0M124.6 389.7h0M156.2 403.5h0M148.6 395.3h0M135.3 387.0h0M151.5 374.2h0M148.1 408.3h0M138.4 414.1h0M132.7 397.6h0M149.6 376.2h0M137.3 374.3h0M133.0 412.4h0M139.7 414.0h0M134.8 412.5h0M142.5 417.2h0M149.2 368.4h0M138.2 388.8h0M142.0 418.5h0M137.6 402.1h0M140.4 416.7h0M140.1 371.0h0M143.1 421.4h0M141.5 409.0h0M143.2 420.5h0M144.1 413.0h0M138.8 362.9h0M148.6 410.8h0M137.8 415.2h0M139.2 374.5h0M148.7 388.6h0M160.5 397.7h0M168.7 407.2h0M152.9 312.4h0M141.8 403.3h0M130.9 410.8h0M132.3 360.6h0M144.9 420.3h0M150.4 405.4h0M166.4 397.5h0M159.0 397.1h0M178.0 389.7h0M135.8 402.1h0M144.3 402.9h0M140.0 400.3h0M139.6 401.4h0M143.0 420.3h0M145.7 417.5h0M145.7 418.5h0M135.7 372.0h0M147.5 406.3h0M142.8 420.8h0M137.6 379.5h0M138.7 408.5h0M127.6 403.0h0M147.5 376.8h0M137.2 415.4h0M147.3 411.6h0M148.0 407.7h0M144.3 420.0h0M142.8 419.6h0M140.8 399.3h0M148.6 400.4h0M141.8 418.7h0M149.3 374.5h0M146.5 417.6h0M145.7 391.6h0M139.7 379.9h0M147.1 389.9h0M118.9 405.0h0M144.6 399.5h0M150.6 413.7h0M143.7 421.5h0M151.8 397.1h0M133.7 375.9h0M163.1 401.1h0M143.7 414.9h0M137.9 389.9h0M132.0 374.9h0M139.0 371.9h0M120.7 388.0h0M125.2 386.4h0M143.7 420.3h0M141.3 411.0h0M153.4 393.4h0M138.6 410.7h0M141.4 417.1h0M136.9 382.3h0M144.7 420.4h0M144.8 420.8h0M144.5 420.2h0M150.5 414.5h0M146.4 417.2h0M148.5 414.0h0M147.2 412.5h0M141.0 412.1h0M148.1 351.0h0M125.4 394.3h0M125.3 388.6h0M143.5 421.2h0M149.0 358.3h0M138.3 411.5h0M120.3 405.8h0M137.5 380.6h0M147.9 387.2h0M145.2 420.4h0M139.0 375.6h0M142.3 418.1h0M156.4 395.0h0M137.3 366.8h0M128.3 390.1h0M151.0 403.0h0M148.4 413.8h0M131.5 401.6h0M134.3 357.0h0M131.9 405.4h0M147.8 363.6h0M150.7 376.8h0M138.7 414.3h0M152.1 367.8h0M147.5 399.7h0M150.6 409.5h0M155.0 381.4h0M128.3 409.1h0M149.9 408.9h0M135.1 378.3h0M142.3 413.7h0M137.4 414.7h0M154.4 383.5h0M148.8 419.9h0M141.5 404.1h0M137.3 385.7h0M136.7 408.0h0M144.8 416.6h0M152.0 401.3h0M134.4 402.4h0M143.1 420.2h0M148.7 388.3h0M149.1 354.1h0M141.9 418.7h0M145.5 415.3h0M136.1 366.4h0M143.2 420.6h0M139.9 382.7h0M165.6 401.8h0M135.9 413.6h0M149.6 401.8h0M146.7 396.2h0M134.2 378.7h0M103.1 396.5h0M145.1 393.1h0M145.4 404.8h0M139.9 416.1h0M142.7 420.8h0M139.2 418.4h0M145.0 402.4h0M122.0 411.2h0M146.0 414.7h0M125.7 400.1h0M137.9 367.6h0M159.7 397.8h0M151.5 384.1h0M139.8 415.1h0M154.5 403.0h0M131.9 404.3h0M150.9 387.6h0M160.5 387.8h0M143.5 421.6h0M135.9 394.9h0M134.6 412.9h0M164.2 386.4h0M155.4 409.6h0M149.3 395.8h0M148.9 410.8h0M141.9 410.8h0M144.7 411.7h0M140.8 406.1h0M137.6 411.5h0M145.8 417.9h0M136.5 358.3h0M143.8 419.5h0M146.5 403.5h0M144.5 420.1h0M138.6 408.5h0M128.1 395.3h0M143.2 420.7h0M148.7 406.9h0M135.4 401.6h0M144.7 408.4h0M137.8 408.9h0M147.8 385.6h0M137.0 411.9h0M146.0 413.8h0M142.5 420.4h0M137.2 400.8h0M147.8 411.6h0M145.1 416.2h0M155.9 407.1h0M136.6 374.3h0M132.8 394.1h0M139.2 411.7h0M141.0 414.1h0M147.3 367.6h0M154.4 346.9h0M151.6 414.7h0M136.5 361.3h0M138.1 417.4h0M150.7 371.9h0M151.7 394.9h0M142.8 420.7h0M133.3 398.1h0M141.9 418.3h0M136.5 365.9h0M140.3 397.6h0M153.5 416.2h0M146.5 410.2h0M159.7 401.1h0M144.7 398.2h0M137.5 367.7h0M154.7 394.5h0M144.4 420.2h0M137.7 385.4h0M150.8 413.9h0M148.0 411.9h0M141.0 416.9h0M149.0 393.7h0M144.2 418.4h0M135.7 392.5h0M138.4 370.8h0M144.0 416.7h0M137.1 381.1h0M141.4 418.2h0M131.5 414.5h0M135.3 403.2h0M141.3 402.7h0M174.7 401.5h0M141.7 418.7h0M144.0 418.4h0M143.6 421.2h0M146.9 411.7h0M136.7 408.4h0M136.5 341.7h0M155.0 374.4h0M142.4 408.7h0M109.7 395.1h0M142.6 408.2h0M137.9 385.8h0M132.6 409.4h0M132.0 404.7h0M128.8 395.4h0M130.1 387.0h0M147.8 414.8h0M141.9 412.4h0M143.2 419.6h0M142.7 421.3h0M147.7 414.3h0M143.4 421.7h0M149.9 417.6h0M138.8 394.2h0M147.3 387.9h0M151.2 415.4h0M143.3 421.6h0M133.6 363.6h0M147.3 405.1h0M139.2 413.5h0M126.5 401.1h0M138.4 379.3h0M135.0 405.0h0M138.2 407.8h0M147.4 399.4h0M140.8 398.1h0M144.9 419.6h0M162.1 394.2h0M145.5 409.9h0M137.2 396.3h0M140.8 418.5h0M150.7 386.5h0M146.6 412.5h0M148.3 414.3h0M158.9 393.9h0M132.9 328.0h0M138.5 413.1h0M149.9 385.2h0M137.9 383.8h0M142.4 417.1h0M141.4 419.1h0M164.9 396.4h0M133.6 381.3h0M135.8 409.6h0M137.0 413.2h0M141.9 418.4h0M146.7 405.6h0M144.4 411.6h0M141.9 409.3h0M150.4 414.2h0M144.8 409.8h0M141.4 362.2h0M157.6 411.4h0M149.1 402.5h0M142.7 419.5h0M138.3 412.9h0M142.3 415.0h0M136.3 405.3h0M161.5 405.8h0M133.8 379.0h0M140.3 398.4h0M146.8 399.8h0M146.1 386.9h0M140.7 417.6h0M138.9 408.4h0M130.8 406.4h0M143.3 421.5h0M150.7 362.3h0M137.6 401.4h0M134.6 353.0h0M143.3 421.4h0M147.7 363.7h0M132.3 391.8h0M144.8 400.6h0M138.0 414.6h0M135.5 403.7h0M141.8 393.5h0M150.2 375.8h0M144.5 410.3h0M141.3 419.7h0M155.4 353.7h0M144.8 419.4h0M134.7 348.1h0M140.8 398.6h0M146.7 410.8h0M129.1 395.8h0M138.8 409.7h0M141.1 414.8h0M143.5 421.5h0M141.4 409.8h0M149.8 357.5h0M155.2 353.1h0M142.2 407.5h0M153.0 332.3h0M141.2 407.1h0M142.3 418.1h0M140.7 409.7h0M145.6 416.0h0M142.6 408.5h0M159.7 412.4h0M127.1 404.6h0M142.8 421.2h0M138.8 416.4h0M135.9 372.6h0M151.0 373.8h0M139.1 415.9h0M142.9 417.9h0M132.7 382.5h0M161.9 408.8h0M157.8 410.8h0M148.7 373.7h0M139.2 417.7h0M147.2 405.8h0M143.5 421.5h0M138.9 375.9h0M144.1 417.6h0M136.9 404.3h0M152.7 407.7h0M139.6 399.5h0M135.8 414.4h0M138.7 412.4h0M143.6 421.5h0M141.5 376.7h0M133.2 367.7h0M151.7 400.9h0M139.4 396.2h0M141.6 418.2h0M151.1 414.1h0M145.6 410.8h0M151.9 398.0h0M140.3 409.9h0M134.2 411.4h0M146.3 411.8h0M146.9 416.9h0M156.8 403.6h0M136.9 388.8h0M154.4 406.1h0M164.7 400.7h0M131.0 405.5h0M134.5 407.4h0M142.8 409.2h0M144.8 420.3h0M130.7 385.8h0M141.9 394.5h0M140.4 383.2h0M152.5 374.1h0M136.7 408.2h0M153.9 374.9h0M154.2 336.2h0M152.5 411.2h0M134.5 397.0h0M142.1 418.9h0M142.9 420.4h0M132.2 398.6h0M136.1 370.2h0M146.7 402.8h0M136.1 411.8h0M143.6 419.8h0M140.1 406.7h0M146.5 416.8h0M148.6 354.8h0M151.5 414.3h0M180.7 399.8h0M136.1 394.8h0M145.9 417.2h0M147.2 416.0h0M165.3 400.2h0M148.8 381.9h0M148.7 396.8h0M128.4 387.1h0M142.1 414.4h0M146.9 413.2h0M133.6 337.9h0M157.3 396.6h0M130.3 410.8h0M130.8 392.6h0M146.0 411.0h0M140.9 401.4h0M135.8 391.6h0M150.7 416.8h0M149.8 398.5h0M122.5 390.3h0M146.1 406.8h0M133.3 411.4h0M139.6 415.2h0M137.5 360.4h0M147.2 389.6h0M139.1 414.3h0M147.0 367.5h0M141.5 396.7h0M139.6 403.9h0M138.6 413.9h0M141.1 391.6h0M148.6 418.4h0M145.0 398.2h0M143.1 421.1h0M133.3 380.3h0M160.8 396.2h0M142.6 421.4h0M144.0 420.0h0M155.0 368.3h0M146.8 395.6h0M144.2 414.1h0M158.8 399.7h0M140.8 417.8h0M129.8 413.1h0M138.5 353.8h0M141.0 360.0h0M140.8 418.3h0M141.0 418.9h0M160.1 395.8h0M142.3 420.2h0M146.6 413.7h0M130.3 408.3h0M132.8 413.7h0M143.1 421.1h0M130.1 406.7h0M139.6 407.0h0M139.7 420.0h0M134.2 413.9h0M153.6 367.2h0M136.7 345.8h0M135.1 336.5h0M156.9 390.7h0M155.9 415.6h0M146.7 407.4h0M154.1 375.4h0M139.3 395.4h0M140.1 375.9h0M153.2 406.7h0M153.3 406.7h0M147.5 404.3h0M138.5 412.9h0M134.1 402.5h0M152.5 411.8h0M148.2 389.7h0M146.0 384.7h0M143.0 421.5h0M128.9 386.5h0M153.2 401.5h0M148.5 388.3h0M154.0 398.0h0M139.3 412.6h0M138.3 396.2h0M135.8 407.4h0M142.8 420.3h0M131.5 400.9h0M137.8 372.5h0M120.0 389.8h0M133.8 386.0h0M147.1 402.7h0M118.1 386.1h0M154.7 336.5h0M143.1 418.6h0M167.7 408.7h0M136.2 390.1h0M155.0 403.5h0M130.0 392.3h0M147.9 415.0h0M127.9 400.5h0M145.0 416.6h0M149.2 395.6h0M140.6 414.3h0M139.0 406.4h0M151.4 384.0h0M145.8 406.4h0M142.5 416.3h0M143.8 421.4h0M144.4 420.5h0M139.2 372.7h0M157.8 405.1h0M143.6 421.5h0M144.7 400.3h0M138.7 412.1h0M139.1 416.6h0M156.1 407.7h0M139.1 401.0h0M133.2 399.4h0M141.2 419.0h0M145.2 419.3h0M153.2 416.8h0M145.8 418.7h0M149.0 411.6h0M149.3 413.5h0M143.8 417.9h0M162.2 401.8h0M145.7 408.0h0M156.3 400.5h0M140.9 412.7h0M134.5 372.9h0M134.7 396.9h0M129.1 392.4h0M151.7 390.2h0M140.0 409.0h0M146.9 375.7h0M128.3 403.9h0M139.3 360.2h0M147.3 404.2h0M140.3 407.1h0M135.0 371.7h0M144.8 386.0h0M148.8 403.8h0M142.1 409.3h0M144.7 416.3h0M144.8 420.4h0M144.0 415.6h0M148.3 392.4h0M141.3 415.9h0M139.5 416.0h0M142.7 419.3h0M136.4 410.1h0M144.3 420.7h0M165.4 385.9h0M146.5 417.3h0M151.0 417.4h0M126.8 399.3h0M134.4 402.1h0M138.7 413.9h0M139.1 395.4h0M140.7 413.7h0M138.2 403.6h0M131.6 392.4h0M152.1 393.6h0M166.4 388.5h0M146.7 404.3h0M146.1 415.8h0M164.4 399.5h0M140.7 414.9h0M125.8 385.4h0M144.7 417.2h0M147.3 394.1h0M142.1 419.5h0M142.8 421.2h0M146.1 400.6h0M135.9 372.6h0M131.7 356.2h0M137.6 409.9h0M138.7 416.0h0M143.2 419.2h0M145.2 420.9h0M138.2 401.7h0M139.0 413.3h0M133.5 368.9h0M154.9 348.1h0M119.0 394.1h0M144.3 420.8h0M134.6 406.1h0M137.0 378.0h0M157.8 409.2h0M130.6 404.0h0M121.9 396.5h0M148.8 383.6h0M166.7 389.2h0M155.3 365.5h0M145.6 415.2h0M141.6 413.4h0M138.8 411.6h0M130.8 402.9h0M159.3 390.5h0M153.3 409.5h0M165.7 407.8h0M145.8 377.2h0M140.9 384.3h0M150.0 407.6h0M139.9 397.3h0M160.6 401.6h0M150.6 371.6h0M140.7 412.0h0M161.4 390.6h0M150.2 344.9h0M146.9 407.5h0M142.5 419.0h0M143.8 420.8h0M143.6 418.9h0M146.4 338.7h0M140.0 416.9h0M142.7 420.6h0M149.3 408.3h0M134.0 405.8h0M150.3 369.5h0M136.6 337.1h0M148.3 362.5h0M147.1 388.7h0M142.3 419.7h0M138.2 374.8h0M142.5 420.9h0M135.1 351.6h0M150.3 401.7h0M152.7 354.0h0M145.1 416.4h0M140.2 413.5h0M148.3 411.5h0M143.4 421.3h0M149.3 412.5h0M153.8 396.3h0M141.8 419.0h0M157.3 387.7h0M137.4 403.7h0M158.3 405.9h0M152.3 415.2h0M142.8 421.1h0M160.9 388.9h0M130.8 388.2h0M161.3 401.8h0M145.5 418.4h0M138.2 417.8h0M135.8 408.5h0M142.1 420.4h0M142.8 421.1h0M143.2 421.4h0M157.9 409.5h0M139.0 411.0h0M147.6 399.4h0M144.0 419.8h0M140.2 401.7h0M143.7 420.9h0M150.8 391.2h0M143.0 420.2h0M141.0 418.8h0M135.3 409.3h0M152.8 400.4h0M148.8 415.9h0M146.4 406.5h0M140.1 395.5h0M157.6 395.2h0M145.7 418.2h0M142.1 420.4h0M146.2 404.9h0M136.0 394.7h0M137.7 400.9h0M150.8 414.0h0M134.8 400.5h0M167.9 391.3h0M142.3 410.9h0M153.2 411.2h0M146.0 380.9h0M140.5 418.9h0M159.3 386.0h0M132.8 361.5h0M136.0 415.1h0M148.0 418.9h0M167.6 414.4h0M147.6 417.5h0M155.2 379.4h0M139.9 387.2h0M130.0 407.2h0M140.0 399.1h0M141.1 410.5h0M149.4 418.7h0M150.6 412.6h0M148.5 409.5h0M153.6 412.2h0M141.9 419.4h0M143.6 420.4h0M141.1 405.3h0M125.4 412.9h0M138.0 380.8h0M139.2 396.8h0M136.9 412.0h0M152.2 408.2h0M143.6 421.1h0M139.0 414.7h0M155.6 400.2h0M140.3 406.3h0M150.0 379.9h0M146.5 394.4h0M152.7 395.0h0M149.9 378.6h0M147.3 414.6h0M136.9 395.8h0M146.7 402.1h0M147.8 359.0h0M136.4 411.8h0M140.0 413.6h0M134.7 354.6h0M151.6 336.4h0M144.7 406.9h0M143.1 421.2h0M140.0 386.4h0M137.2 410.5h0M139.6 406.5h0M137.9 417.4h0M148.0 415.8h0M136.1 342.0h0M143.9 416.3h0M144.6 403.4h0M150.1 366.2h0M139.3 405.4h0M147.6 382.7h0M143.1 416.3h0M132.4 402.4h0M144.8 418.1h0M153.3 350.4h0M121.9 386.6h0M143.6 420.1h0M142.3 420.1h0M139.0 402.1h0M142.6 420.7h0M143.3 421.5h0M142.7 419.3h0M169.7 398.3h0M150.4 373.4h0M150.3 390.3h0M130.1 393.1h0M133.2 372.3h0M136.6 383.2h0M140.9 409.5h0M163.6 395.5h0M142.2 415.0h0M148.5 414.4h0M144.3 420.3h0M148.5 377.9h0M152.0 392.5h0M142.6 417.0h0M148.6 397.9h0M139.9 409.7h0M143.2 420.7h0M141.3 401.2h0M139.7 417.3h0M142.9 420.2h0M148.8 405.8h0M139.6 378.4h0M142.6 420.0h0M148.3 357.8h0M148.8 405.0h0M147.1 372.3h0M156.7 402.8h0M146.0 417.9h0M119.3 387.3h0M143.8 414.1h0M140.7 411.3h0M136.7 411.5h0M142.9 421.3h0M139.1 394.3h0M143.9 417.6h0M144.1 421.1h0M142.8 414.4h0M140.8 416.5h0M138.4 411.6h0M142.4 415.4h0M142.5 420.8h0M154.5 375.2h0M145.3 419.1h0M144.7 417.5h0M146.4 396.0h0M155.3 417.5h0M132.5 404.3h0M151.4 350.6h0M142.2 420.1h0M150.3 406.4h0M137.4 391.6h0M133.2 407.4h0M142.6 417.9h0M141.0 396.3h0M143.5 421.6h0M142.8 416.6h0M147.2 416.2h0M140.8 397.7h0M141.9 404.8h0M140.3 414.2h0M143.9 421.4h0M141.3 418.4h0M152.8 380.6h0M155.4 375.1h0M140.5 407.6h0M168.6 386.9h0M141.0 405.9h0M138.5 419.0h0M141.7 416.3h0M140.9 420.0h0M139.3 418.1h0M141.1 420.6h0M143.5 421.4h0M126.9 406.8h0M144.7 418.9h0M142.3 417.0h0M141.5 419.4h0M140.7 413.8h0M147.5 393.9h0M142.2 420.9h0M141.9 393.3h0M140.4 397.6h0M140.7 415.3h0M148.1 419.4h0M153.9 415.6h0M139.5 406.4h0M142.1 414.8h0M148.7 378.3h0M149.9 416.3h0M141.2 419.2h0M135.6 415.4h0M142.7 420.1h0M133.0 362.2h0M146.5 379.1h0M144.4 420.9h0M135.6 378.7h0M136.7 409.6h0M147.7 407.7h0M151.9 356.8h0M145.9 416.7h0M154.2 400.5h0M162.9 385.4h0M141.8 404.9h0M150.5 365.9h0M147.3 414.3h0M148.4 413.6h0M145.5 419.2h0M158.7 404.5h0M150.0 398.5h0M150.2 367.3h0M142.6 419.5h0M148.4 416.7h0M149.8 417.0h0M148.1 353.4h0M140.5 412.4h0M152.1 364.3h0M141.8 407.2h0M150.1 369.3h0M134.0 360.3h0M149.1 362.2h0M140.1 416.4h0M136.8 417.5h0M144.3 420.0h0M134.8 397.7h0M150.7 409.8h0M138.7 417.0h0M152.0 354.8h0M147.3 405.6h0M140.7 403.1h0M136.6 414.7h0M149.2 348.6h0M125.8 385.2h0M170.6 390.6h0M164.9 395.1h0M156.0 388.9h0M144.6 413.2h0M148.5 359.0h0M149.2 387.0h0M161.2 398.7h0M134.5 392.9h0M135.9 377.5h0M187.6 388.3h0M138.9 406.3h0M137.9 396.7h0M154.1 410.4h0M142.9 420.5h0M146.0 412.8h0M135.0 380.1h0M132.8 335.0h0M147.0 416.7h0M152.0 411.8h0M168.5 397.1h0M159.3 405.4h0M141.0 416.5h0M141.0 416.9h0M143.5 421.3h0M147.5 395.3h0M142.8 420.6h0M144.1 419.1h0M152.5 365.5h0M144.5 419.1h0M135.6 348.6h0M152.5 361.6h0M124.8 402.6h0M146.6 415.3h0M143.5 420.9h0M136.7 379.2h0M142.8 419.3h0M139.9 389.4h0M148.2 414.1h0M144.4 420.2h0M142.4 419.7h0M159.0 396.1h0M146.4 418.8h0M149.0 389.5h0M134.2 406.7h0M156.5 401.3h0M133.8 413.9h0M151.5 400.4h0M146.9 417.9h0M145.5 416.7h0M132.8 395.0h0M139.1 398.0h0M145.3 420.0h0M142.2 419.0h0M138.2 365.3h0M141.7 400.2h0M146.1 417.8h0M140.5 388.8h0M148.8 365.8h0M151.4 415.8h0M148.2 417.9h0M139.8 374.1h0M135.2 374.7h0M140.4 406.1h0M147.1 408.9h0M137.2 410.3h0M141.6 418.9h0M147.8 419.2h0M134.3 393.7h0M136.3 413.1h0M162.5 396.8h0M154.6 401.2h0M147.6 414.3h0M151.1 337.7h0M145.7 389.3h0M146.0 405.8h0M142.9 420.4h0M139.8 368.4h0M149.7 402.8h0M130.0 415.5h0M138.0 409.4h0M149.5 383.0h0M155.3 411.0h0M141.0 396.9h0M141.4 403.6h0M150.5 411.5h0M160.2 398.4h0M142.8 420.9h0M146.2 382.6h0M134.6 325.6h0M142.1 408.2h0M135.7 378.0h0M135.2 407.3h0M160.3 391.3h0M139.1 401.5h0M154.1 392.4h0M153.3 394.7h0M153.9 359.0h0M137.4 383.6h0M154.8 379.9h0M151.6 392.9h0M109.9 396.3h0M135.8 383.4h0M147.5 415.2h0M122.9 394.3h0M155.2 406.4h0M147.8 400.0h0M132.2 401.5h0M171.6 386.8h0M142.6 420.8h0M130.0 402.0h0M133.8 354.3h0M142.7 420.0h0M145.0 417.9h0M140.9 415.9h0M140.0 399.7h0M134.5 399.0h0M143.5 420.5h0M133.4 376.9h0M151.3 410.9h0M144.8 415.2h0M145.6 411.6h0M145.7 419.6h0M142.2 418.0h0M142.4 420.5h0M142.3 410.7h0M136.8 410.2h0M129.0 398.9h0M152.3 365.5h0M147.6 418.4h0M140.3 398.6h0M149.5 409.7h0M147.2 400.3h0M143.2 417.2h0M138.9 394.5h0M145.0 419.8h0M144.4 420.9h0M146.1 359.1h0M151.0 386.3h0M156.4 406.4h0M139.0 398.3h0M133.1 400.1h0M141.5 407.9h0M137.7 389.2h0M153.1 388.6h0M155.1 388.4h0M149.2 372.9h0M154.2 360.0h0M150.7 409.4h0M134.1 385.2h0M134.3 403.3h0M139.5 416.7h0M143.1 421.4h0M140.7 419.3h0M148.5 411.3h0M145.8 419.2h0M164.9 403.6h0M144.3 416.8h0M148.2 410.9h0M141.6 414.4h0M143.3 421.6h0M130.8 409.7h0M132.9 393.8h0M139.3 414.1h0M132.9 414.4h0M143.3 421.5h0M146.3 410.8h0M151.8 420.1h0M138.5 399.8h0M140.1 414.8h0M128.2 399.7h0M123.8 386.9h0M142.7 418.1h0M144.8 408.3h0M135.0 344.7h0M137.0 410.6h0M143.9 421.1h0M144.3 420.2h0M150.2 375.5h0M163.5 399.1h0M138.4 404.5h0M132.3 353.0h0M139.6 408.3h0M149.6 408.9h0M133.2 409.5h0M138.0 402.8h0M143.4 421.7h0M138.7 401.0h0M129.1 390.4h0M146.0 394.5h0M144.5 413.8h0M146.2 406.6h0M142.7 420.6h0M152.5 410.4h0M151.3 416.0h0M141.3 415.8h0M132.4 352.0h0M166.5 408.8h0M148.7 376.8h0M143.6 421.2h0M141.0 403.4h0M146.9 390.8h0M142.3 420.5h0M148.1 413.4h0M153.1 391.0h0M145.9 406.0h0M152.6 404.6h0M143.1 421.5h0M138.4 404.9h0M144.8 411.3h0M129.0 403.1h0M146.1 408.7h0M131.6 407.7h0M136.8 375.0h0M136.4 410.1h0M139.7 416.3h0M162.8 391.7h0M142.0 420.3h0M144.8 413.6h0M137.5 409.8h0M142.9 418.8h0M143.9 414.0h0M132.1 408.8h0M137.6 404.6h0M124.7 391.8h0M134.3 409.1h0M145.8 395.9h0M137.0 406.6h0M139.8 398.4h0M141.6 412.3h0M148.5 378.4h0M148.4 371.4h0M147.4 368.7h0M160.8 392.1h0M144.3 416.5h0M150.0 384.9h0M147.4 413.3h0M126.5 398.3h0M138.3 419.0h0M158.1 395.5h0M155.5 408.9h0M148.3 382.6h0M136.9 414.3h0M140.4 414.6h0M137.9 409.7h0M138.0 401.8h0M144.5 420.3h0M142.7 416.3h0M146.2 417.3h0M153.3 348.3h0M133.0 405.3h0M147.4 416.3h0M151.0 409.8h0M126.4 403.3h0M137.2 365.0h0M147.9 382.1h0M145.8 417.7h0M152.2 370.7h0M159.9 389.7h0M142.1 420.5h0M148.3 406.9h0M143.7 420.6h0M150.4 408.9h0M143.2 420.9h0M140.7 416.0h0M143.1 421.4h0M135.2 391.9h0M141.8 419.0h0M143.5 421.0h0M143.1 420.9h0M145.4 391.9h0M152.7 414.0h0M172.3 405.3h0M149.2 409.0h0M144.5 408.9h0M121.0 395.6h0M132.4 387.5h0M143.5 421.4h0M139.1 408.8h0M133.8 415.0h0M138.8 343.3h0M139.1 392.7h0M143.9 417.7h0M142.5 414.5h0M162.1 389.2h0M141.6 420.1h0M142.0 391.0h0M140.1 375.3h0M148.1 417.6h0M136.9 413.6h0M142.3 410.0h0M145.1 419.3h0M120.3 398.0h0M153.8 410.9h0M148.0 395.1h0M137.5 413.0h0M148.0 353.9h0M158.0 389.7h0M143.0 418.2h0M136.5 364.2h0M140.4 418.6h0M141.6 412.1h0M145.4 416.4h0M142.9 421.1h0M138.8 379.6h0M143.3 421.5h0M138.6 389.4h0M140.1 376.5h0M145.3 416.3h0M137.5 397.2h0M147.7 410.7h0M146.5 402.4h0M146.0 411.2h0M138.4 365.3h0M165.5 402.8h0M118.6 396.3h0M142.3 417.4h0M144.6 411.1h0M141.9 418.1h0M136.4 409.1h0M147.7 414.5h0M140.6 407.6h0M145.8 411.4h0M144.4 418.9h0M154.9 404.2h0M135.2 411.1h0M143.6 421.5h0M142.0 410.4h0M154.1 364.6h0M138.4 411.1h0M133.9 388.9h0M143.4 421.6h0M149.5 388.4h0M145.7 415.0h0M154.3 384.5h0M134.1 355.3h0M144.4 420.7h0M134.3 413.7h0M148.0 344.7h0M137.2 400.4h0M117.7 386.6h0M148.4 416.3h0M153.5 392.5h0M139.3 417.3h0M143.4 421.2h0M145.2 416.4h0M151.1 415.7h0M144.7 419.8h0M135.9 366.8h0M138.3 382.1h0M146.2 410.4h0M142.8 420.7h0M156.2 409.9h0M134.7 404.0h0M134.9 351.8h0M138.3 415.8h0M139.9 411.2h0M134.4 408.9h0M149.1 372.0h0M139.3 412.1h0M132.3 384.3h0M135.7 375.7h0M131.5 361.8h0M142.7 420.9h0M148.8 407.8h0M134.4 413.7h0M134.2 351.4h0M138.3 413.7h0M146.2 394.7h0M157.6 397.6h0M145.8 417.8h0M140.9 412.2h0M154.7 409.6h0M138.7 359.3h0M144.8 408.8h0M144.5 418.3h0M139.0 370.9h0M116.3 393.3h0M132.8 392.9h0M136.8 406.3h0M147.2 416.5h0M140.4 399.8h0M128.2 412.9h0M138.4 398.6h0M147.5 412.1h0M154.4 403.9h0M135.8 365.8h0M135.7 401.8h0M153.2 411.3h0M141.5 420.3h0M150.4 414.3h0M119.0 401.3h0M147.6 411.4h0M138.4 408.5h0M153.2 403.4h0M131.5 396.7h0M131.6 394.4h0M134.7 364.6h0M154.1 403.8h0M145.6 401.5h0M145.8 418.1h0M135.3 363.4h0M151.4 378.2h0M149.5 411.0h0M163.4 405.4h0M155.2 341.8h0M139.4 409.3h0M157.9 398.4h0M147.8 385.6h0M134.1 411.3h0M139.9 361.5h0M136.1 392.1h0M141.2 412.9h0M141.1 416.2h0M138.7 410.6h0M148.4 413.2h0M133.3 368.8h0M139.7 417.1h0M141.1 413.2h0M135.5 408.3h0M130.5 412.1h0M142.9 417.3h0M134.6 330.2h0M146.7 414.6h0M153.0 329.1h0M120.2 395.3h0M144.4 414.4h0M134.6 371.1h0M143.3 421.1h0M141.0 382.5h0M149.2 372.9h0M144.7 403.7h0M148.1 401.3h0M148.7 413.8h0M149.2 374.9h0M137.4 384.0h0M147.4 415.2h0M135.2 413.1h0M140.4 405.7h0M147.6 416.1h0M141.7 383.6h0M142.2 418.1h0M150.0 364.9h0M165.9 391.8h0M153.8 395.1h0M139.8 414.2h0M117.1 390.8h0M141.7 400.6h0M161.1 390.3h0M140.8 415.8h0M140.8 409.8h0M145.7 415.0h0M131.8 416.0h0M157.3 395.0h0M143.9 421.4h0M128.4 407.2h0M150.3 390.1h0M154.0 394.0h0M143.5 421.1h0M159.9 404.9h0M143.1 420.4h0M146.3 396.6h0M142.2 418.1h0M137.6 398.4h0M150.0 413.8h0M157.7 395.0h0M169.7 388.7h0M143.4 421.5h0M144.2 421.0h0M136.0 400.4h0M140.3 409.2h0M132.7 395.4h0M144.3 412.1h0M146.3 411.3h0M138.3 414.5h0M139.4 399.0h0M141.0 398.2h0M143.2 421.4h0M156.1 399.2h0M146.2 412.4h0M139.8 417.0h0M139.1 408.5h0M149.4 413.7h0M146.9 418.9h0M154.1 406.2h0M145.8 386.2h0M141.7 417.5h0M144.7 419.1h0M158.0 411.7h0M135.3 387.8h0M132.5 407.6h0M135.9 407.7h0M139.7 371.9h0M145.6 400.2h0M147.8 404.3h0M131.7 395.1h0M140.2 416.3h0M150.8 414.1h0M151.6 416.6h0M149.1 391.7h0M149.8 417.1h0M147.8 329.8h0M132.7 410.4h0M151.0 346.8h0M151.2 386.6h0M141.7 418.5h0M151.9 381.4h0M152.1 358.8h0M148.7 380.1h0M143.7 419.6h0M141.9 408.2h0M141.8 420.2h0M144.3 419.3h0M139.4 399.3h0M144.5 413.6h0M141.7 419.6h0M140.3 375.8h0M160.1 395.3h0M140.0 379.1h0M149.6 400.1h0M155.3 413.4h0M139.2 411.5h0M136.2 361.5h0M141.5 384.1h0M134.9 398.6h0M141.3 405.4h0M141.4 419.9h0M143.1 417.6h0M144.6 411.9h0M140.0 418.6h0M139.2 414.6h0M149.6 409.6h0M133.2 411.5h0M146.5 400.5h0M147.1 418.4h0M135.6 412.9h0M141.1 418.2h0M144.1 417.9h0M146.2 418.4h0M145.8 417.2h0M142.8 421.1h0M146.8 387.4h0M136.7 405.4h0M138.9 416.5h0M146.0 389.6h0M141.2 415.5h0M145.4 408.9h0M152.0 399.5h0M153.1 402.3h0M143.8 418.5h0M141.2 414.1h0M144.8 419.6h0M138.7 409.0h0M146.4 418.7h0M141.0 399.9h0M159.7 387.2h0M145.2 420.0h0M154.4 353.7h0M138.5 415.0h0M144.7 418.7h0M146.9 407.4h0M148.6 394.3h0M142.3 411.5h0M150.4 413.3h0M139.5 419.4h0M148.2 415.6h0M149.5 393.2h0M137.2 393.4h0M135.5 414.8h0M153.7 379.1h0M159.0 411.6h0M150.0 397.1h0M140.0 358.9h0M153.7 413.7h0M138.5 406.2h0M141.6 413.5h0M150.6 416.2h0M133.2 409.0h0M159.1 390.3h0M147.3 386.2h0M152.1 341.9h0M150.3 413.1h0M139.1 404.0h0M144.6 413.8h0M146.0 398.0h0M145.0 410.5h0M136.2 361.6h0M136.2 404.3h0M137.2 412.0h0M146.8 418.0h0M150.5 399.8h0M141.9 420.7h0M133.6 411.4h0M137.2 381.5h0M143.4 421.4h0M144.8 417.4h0M139.3 414.6h0M149.6 398.9h0M114.7 403.8h0M139.3 408.6h0M155.5 388.3h0M138.5 419.7h0M143.9 416.8h0M151.9 414.6h0M110.5 395.4h0M141.7 418.9h0M148.3 417.5h0M137.8 388.9h0M152.4 353.0h0M152.7 405.3h0M137.7 401.4h0M130.4 409.9h0M144.2 420.4h0M151.1 370.2h0M141.4 417.4h0M141.9 412.5h0M141.1 419.0h0M136.8 366.4h0M146.2 409.1h0M136.4 347.7h0M133.0 386.4h0M141.0 404.3h0M138.1 415.6h0M135.4 349.2h0M149.7 390.5h0M149.0 372.1h0M144.6 412.1h0M152.2 408.2h0M144.3 405.2h0M144.6 417.0h0M139.3 416.6h0M140.5 383.8h0M148.4 370.5h0M146.9 408.8h0M150.0 380.5h0M142.3 419.6h0M152.2 374.3h0M151.5 406.6h0M149.1 400.7h0M132.0 406.0h0M144.8 420.5h0M144.3 417.0h0M141.3 420.5h0M146.5 346.8h0M147.9 408.3h0M148.9 327.3h0M155.2 412.3h0M132.9 392.7h0M144.4 415.8h0M144.1 416.2h0M155.0 367.3h0M149.0 389.6h0M148.6 371.2h0M142.2 404.3h0M131.8 400.6h0M173.7 391.9h0M131.9 417.9h0M159.5 403.7h0M145.4 415.3h0M153.9 408.3h0M132.7 381.6h0M142.9 419.4h0M155.1 381.3h0M145.3 402.5h0M150.7 398.9h0M127.4 389.4h0M146.8 406.8h0M149.5 401.3h0M151.9 403.7h0M156.1 409.5h0M145.2 412.1h0M159.1 387.6h0M138.3 417.0h0M146.9 415.1h0M156.6 401.1h0M134.4 389.4h0M144.0 420.3h0M151.1 366.8h0M151.7 410.5h0M141.3 419.8h0M167.5 397.6h0M138.8 419.3h0M147.5 401.3h0M150.1 390.7h0M147.0 412.4h0M136.1 380.4h0M147.1 409.2h0M144.8 410.9h0M145.4 420.3h0M149.4 356.5h0M140.9 408.0h0M140.4 399.3h0M137.1 404.4h0M143.8 421.1h0M138.2 369.3h0M165.0 404.2h0M144.4 420.7h0M133.6 390.6h0M149.3 399.2h0M136.6 396.3h0M155.0 413.6h0M143.6 420.7h0M151.8 376.5h0M131.1 399.6h0M137.6 391.8h0M151.4 385.0h0M141.5 419.5h0M138.9 415.1h0M144.2 416.0h0M154.3 395.5h0M142.5 413.7h0M149.9 391.8h0M114.0 407.1h0M140.7 393.9h0M145.8 418.4h0M148.0 418.7h0M146.2 419.7h0M132.5 390.0h0M145.4 387.4h0M148.4 367.4h0M150.0 407.1h0M149.4 408.4h0M153.6 404.9h0M152.2 413.6h0M147.4 401.0h0M145.9 395.7h0M137.7 383.0h0M144.7 417.3h0M136.7 361.0h0M141.3 418.8h0M150.5 400.4h0M140.0 392.6h0M137.1 413.8h0M141.8 417.8h0M143.8 420.2h0M152.2 406.6h0M131.3 404.2h0M135.7 413.7h0M148.6 413.9h0M139.6 392.9h0M141.6 416.4h0M143.7 420.6h0M127.6 388.0h0M143.0 417.2h0M139.2 411.7h0M148.5 414.7h0M150.2 412.0h0M147.7 386.7h0M147.6 411.8h0M130.8 403.4h0M158.6 396.8h0M147.2 397.9h0M150.3 390.7h0M139.0 397.7h0M155.1 329.3h0M146.8 372.1h0M162.8 406.7h0M141.0 400.8h0M142.1 415.0h0M132.6 369.6h0M143.6 421.0h0M150.7 393.1h0M147.7 385.9h0M145.1 419.6h0M148.7 378.9h0M145.1 420.2h0M143.2 420.0h0M149.1 416.0h0M148.7 408.3h0M140.4 386.9h0M139.3 418.7h0M132.0 410.1h0M119.5 399.5h0M136.9 394.5h0M137.1 411.4h0M155.9 398.7h0M146.3 417.9h0M163.7 403.3h0M141.6 407.5h0M145.2 408.6h0M106.8 409.0h0M134.5 394.6h0M150.5 405.5h0M147.3 380.6h0M138.5 403.7h0M148.5 401.1h0M136.0 363.4h0M143.0 421.3h0M144.0 419.2h0M146.9 413.3h0M141.1 407.0h0M152.1 412.8h0M160.2 410.4h0M146.0 397.9h0M143.6 421.2h0M138.6 415.7h0M147.3 388.4h0M138.6 400.8h0M143.7 421.3h0M150.1 345.9h0M152.5 418.6h0M150.8 416.9h0M157.3 406.4h0M151.6 386.9h0M143.4 421.6h0M141.5 411.6h0M140.4 414.2h0M145.2 414.7h0M132.4 401.2h0M149.1 392.2h0M136.6 415.7h0M138.0 361.9h0M145.4 403.6h0M139.2 420.2h0M132.3 403.7h0M145.5 414.9h0M137.7 381.1h0M141.8 413.6h0M147.3 401.6h0M138.2 406.7h0M150.1 406.9h0M153.0 409.4h0M141.4 374.1h0M144.3 420.5h0M128.7 388.8h0M147.7 381.8h0M142.7 420.8h0M141.2 416.9h0M145.5 418.4h0M142.6 418.4h0M151.5 409.6h0M142.3 411.9h0M162.8 404.6h0M132.2 400.7h0M131.0 398.2h0M153.2 408.2h0M153.3 389.4h0M137.6 415.8h0M156.3 403.5h0M135.4 387.3h0M146.2 398.4h0M145.7 404.2h0M138.4 394.8h0M140.2 383.1h0M134.8 412.5h0M163.2 399.0h0M160.0 386.0h0M130.9 401.1h0M142.6 420.5h0M133.2 397.8h0M153.2 396.2h0M156.3 396.7h0M140.6 404.4h0M144.0 420.3h0M145.1 418.4h0M150.4 415.2h0M134.5 356.1h0M152.1 368.6h0M142.4 419.0h0M147.1 392.0h0M166.5 400.7h0M150.2 383.0h0M148.5 394.1h0M143.7 421.1h0M155.3 397.0h0M148.1 394.9h0M144.4 421.0h0M131.8 411.6h0M143.4 421.6h0M145.0 421.2h0M144.7 408.8h0M140.8 416.8h0M142.0 404.2h0M137.1 402.1h0M135.8 409.0h0M174.3 400.1h0M130.7 393.8h0M131.5 405.0h0M133.0 402.9h0M151.9 384.8h0M147.9 392.1h0M136.7 367.5h0M164.2 393.9h0M138.7 400.0h0M154.6 392.7h0M151.2 409.0h0M148.1 413.1h0M145.8 404.3h0M136.4 377.0h0M134.4 353.4h0M148.0 372.0h0M144.3 414.4h0M150.8 380.2h0M147.5 386.8h0M139.4 417.3h0M148.9 416.7h0M141.4 418.0h0M149.2 376.1h0M131.5 389.4h0M150.2 409.5h0M141.0 418.3h0M169.1 394.4h0M144.7 419.9h0M143.1 420.8h0M146.1 388.9h0M120.7 388.7h0M135.7 407.9h0M135.4 378.2h0M145.5 409.2h0M131.1 403.7h0M147.0 395.9h0M151.7 400.2h0M129.4 402.8h0M152.9 364.8h0M148.3 416.0h0M136.8 406.0h0M121.9 395.1h0M153.0 396.3h0M138.8 380.2h0M142.2 420.4h0M136.7 405.3h0M139.1 383.7h0M142.6 420.6h0M133.2 410.8h0M141.9 406.3h0M156.0 406.5h0M138.6 416.4h0M154.5 390.8h0M150.9 362.5h0M151.5 329.5h0M136.7 410.8h0M144.8 419.2h0M152.9 412.5h0M139.1 377.5h0M136.6 392.4h0M165.3 396.5h0M144.7 415.2h0M152.7 370.1h0M144.0 421.0h0M148.9 411.8h0M152.0 395.0h0M146.3 406.3h0M146.3 417.9h0M138.1 415.2h0M145.0 410.9h0M133.1 409.2h0M149.0 416.7h0M147.2 408.3h0M128.3 389.4h0M146.7 418.4h0M137.8 361.1h0M145.4 412.0h0M145.5 420.9h0M144.9 411.0h0M144.8 420.5h0M146.7 409.8h0M149.9 379.1h0M145.1 418.6h0M141.5 420.3h0M143.0 421.0h0M154.7 401.3h0M135.5 367.8h0M145.0 405.8h0M141.1 418.7h0M159.2 399.7h0M130.0 407.9h0M155.5 400.4h0M145.2 415.6h0M132.3 399.4h0M138.5 413.0h0M149.4 407.3h0M138.7 406.7h0M162.3 390.0h0M138.2 394.0h0M147.9 413.7h0M150.8 379.4h0M146.8 417.9h0M147.2 381.3h0M151.9 408.6h0M152.2 376.9h0M139.6 379.9h0M133.5 404.1h0M143.1 421.0h0M143.0 418.8h0M141.6 415.5h0M144.6 418.0h0M148.6 406.8h0M143.4 421.6h0M137.5 414.1h0M141.7 419.4h0M139.0 413.0h0M143.6 421.4h0M144.2 419.7h0M139.7 369.0h0M149.0 380.8h0M149.0 392.0h0M150.8 376.4h0M151.5 393.1h0M138.5 363.4h0M146.5 415.0h0M145.3 420.1h0M145.7 417.8h0M121.8 385.4h0M136.3 397.8h0M142.8 420.7h0M141.5 418.5h0M142.2 414.6h0M125.2 390.4h0M153.7 378.5h0M121.3 401.1h0M151.4 397.9h0M147.0 411.5h0M148.1 412.0h0M140.7 417.3h0M150.2 386.9h0M143.1 420.7h0M138.8 416.7h0M147.2 400.4h0M152.2 413.4h0M169.2 396.5h0M131.8 374.1h0M143.9 421.1h0M136.8 412.6h0M150.2 368.5h0M136.4 409.7h0M135.0 396.0h0M160.6 392.6h0M147.5 381.5h0M144.1 420.0h0M153.4 405.4h0M142.6 414.7h0M145.0 417.2h0M137.0 373.0h0M145.3 413.8h0M138.3 417.9h0M149.1 416.1h0M145.5 410.8h0M148.7 394.7h0M146.8 374.1h0M138.5 407.2h0M138.3 382.5h0M138.9 400.6h0M130.0 399.7h0M153.0 376.2h0M146.5 406.2h0M140.8 414.9h0M151.8 400.7h0M145.1 420.4h0M143.4 421.6h0M146.1 419.7h0M137.0 403.4h0M136.1 393.0h0M119.5 397.5h0M144.1 414.0h0M142.8 420.7h0M146.5 417.0h0M138.8 407.4h0M137.3 410.1h0M134.3 348.9h0M140.6 406.5h0M140.5 385.4h0M140.1 415.3h0M152.5 383.5h0M137.9 374.7h0M147.0 384.6h0M156.6 397.3h0M144.6 419.4h0M136.7 394.0h0M152.7 365.4h0M141.2 413.3h0M142.7 418.0h0M127.0 397.1h0M134.7 359.2h0M153.5 396.8h0M146.9 407.6h0M148.2 415.3h0M152.0 374.2h0M154.7 362.0h0M145.7 413.9h0M134.8 410.5h0M142.2 420.3h0M140.9 417.1h0M141.9 420.8h0M134.2 392.4h0M147.6 401.7h0M140.3 392.8h0M148.8 388.1h0M161.0 394.7h0M146.9 407.0h0M143.0 420.7h0M134.3 366.4h0M139.7 393.2h0M152.2 402.2h0M152.3 345.1h0M138.7 349.7h0M138.0 412.3h0M163.3 395.5h0M141.5 420.3h0M133.7 353.4h0M146.9 406.7h0M141.1 403.6h0M141.5 409.4h0M113.5 398.5h0M148.0 380.5h0M148.6 400.6h0M139.0 372.2h0M148.7 370.5h0M144.3 414.4h0M148.3 401.0h0M130.4 398.1h0M138.6 379.7h0M147.5 392.1h0M139.7 410.6h0M145.3 414.7h0M140.0 363.1h0M139.5 374.0h0M141.7 412.3h0M150.7 381.4h0M140.4 397.9h0M145.2 406.4h0M133.8 406.4h0M147.5 420.1h0M149.0 403.2h0M129.1 397.7h0M150.0 369.1h0M137.3 414.3h0M137.4 413.1h0M142.9 420.0h0M140.5 405.5h0M149.4 372.2h0M140.7 385.9h0M133.1 389.9h0M148.3 345.1h0M137.9 407.7h0M154.0 361.1h0M134.6 359.1h0M145.4 409.3h0M141.7 409.3h0M147.0 388.7h0M132.0 352.4h0M143.1 419.9h0M137.3 398.8h0M130.4 392.8h0M129.3 411.8h0M165.1 399.4h0M142.3 417.4h0M137.2 414.2h0M147.9 378.6h0M144.0 421.1h0M144.9 419.9h0M138.4 414.1h0M150.0 392.5h0M145.5 400.6h0M150.0 408.6h0M136.1 369.6h0M153.6 358.9h0M142.9 420.7h0M146.6 393.6h0M144.9 414.1h0M148.9 381.0h0M131.6 395.9h0M132.6 394.3h0M133.4 406.9h0M143.4 421.6h0M134.3 395.6h0M162.9 387.0h0M130.2 406.9h0M142.2 417.5h0M156.4 401.1h0M157.1 415.0h0M137.7 381.9h0M139.0 417.6h0M146.4 410.4h0M146.5 418.7h0M142.9 417.7h0M145.8 397.8h0M160.8 395.6h0M143.0 420.6h0M150.2 413.4h0M145.1 416.0h0M157.1 386.8h0M140.5 418.5h0M150.3 404.1h0M138.9 410.0h0M149.1 405.7h0M145.9 403.1h0M141.5 419.3h0M173.4 385.7h0M135.6 400.8h0M145.3 399.8h0M147.7 415.0h0M143.9 418.5h0M136.6 399.6h0M138.9 401.5h0M157.2 405.5h0M145.3 402.0h0M148.9 388.9h0M130.9 406.2h0M141.7 411.4h0M151.8 403.9h0M134.2 415.0h0M151.1 397.6h0M148.1 358.7h0M140.1 408.8h0M135.2 417.3h0M145.7 415.5h0M136.7 404.3h0M150.3 404.6h0M146.2 413.0h0M159.5 394.8h0M145.5 379.3h0M144.0 421.0h0M157.2 393.1h0M148.0 402.9h0M142.6 416.3h0M143.3 421.6h0M143.4 421.7h0M145.6 418.5h0M147.5 377.3h0M136.6 389.1h0M144.3 413.7h0M144.6 420.5h0M128.9 409.4h0M134.7 396.4h0M160.2 404.1h0M152.5 401.0h0M144.6 418.5h0M146.3 415.5h0M133.9 361.1h0M142.7 421.0h0M142.8 417.7h0M143.2 421.6h0M150.9 400.2h0M144.0 420.5h0M141.4 408.3h0M138.8 389.2h0M149.5 400.9h0M149.1 390.1h0M141.3 398.6h0M136.3 407.5h0M139.1 403.1h0M123.3 389.5h0M129.0 412.7h0M141.1 414.2h0M128.0 387.8h0M133.0 388.4h0M157.3 410.1h0M140.8 416.1h0M134.5 402.0h0M127.1 404.7h0M153.9 396.5h0M140.2 408.2h0M157.8 389.1h0M149.6 409.1h0M146.3 418.9h0M151.9 404.0h0M136.9 413.4h0M147.1 419.2h0M130.9 414.2h0M161.0 407.2h0M148.2 414.1h0M156.2 395.2h0M151.1 402.5h0M136.8 381.2h0M150.3 405.7h0M140.4 417.3h0M159.0 388.1h0M142.0 415.7h0M143.0 420.3h0M160.6 407.3h0M135.9 409.5h0M142.2 418.7h0M146.9 418.6h0M142.0 400.1h0M144.7 419.1h0M143.5 421.2h0M134.2 395.1h0M144.6 409.5h0M133.6 359.8h0M138.1 350.5h0M147.1 355.7h0M149.8 370.0h0M141.4 408.4h0M141.3 419.5h0M146.5 368.2h0M126.0 405.4h0M150.3 372.6h0M140.0 416.9h0M153.6 387.3h0M141.1 411.4h0M139.1 417.5h0M135.5 416.5h0M141.5 415.1h0M144.4 419.4h0M137.0 388.3h0M139.7 418.1h0M146.2 381.9h0M135.1 400.4h0M150.1 400.8h0M143.7 420.4h0M148.7 418.0h0M141.1 359.1h0M143.4 421.7h0M151.2 402.5h0M148.5 407.1h0M142.3 420.2h0M144.3 421.4h0M144.1 414.6h0M152.0 405.2h0M140.2 416.3h0M138.8 417.9h0M144.4 411.2h0M139.5 360.4h0M136.9 406.0h0M152.0 410.7h0M137.3 382.3h0M146.1 418.6h0M145.5 418.3h0M133.9 388.3h0M153.8 401.8h0M141.1 392.1h0M149.7 357.0h0M148.6 397.4h0M148.9 369.0h0M150.2 396.2h0M142.1 405.0h0M147.7 370.3h0M135.7 412.1h0M143.1 420.2h0M146.5 382.4h0M150.3 334.2h0M146.3 408.5h0M136.7 408.3h0M145.6 395.2h0M139.2 371.8h0M130.6 414.4h0M148.4 334.1h0M138.1 384.6h0M148.6 385.7h0M139.4 367.7h0M132.6 412.4h0M144.9 419.4h0M139.3 413.1h0M168.6 388.3h0M139.1 360.1h0M172.0 384.8h0M149.8 346.3h0M160.4 400.1h0M138.7 404.0h0M138.5 413.3h0M158.5 386.1h0M153.6 358.4h0M153.2 394.8h0M133.9 389.9h0M151.8 391.5h0M133.0 385.6h0M145.0 416.0h0M136.5 367.6h0M144.6 417.1h0M143.0 421.3h0M141.1 418.1h0M156.1 396.9h0M160.1 393.9h0M166.2 384.8h0M137.8 418.9h0M139.9 400.7h0M154.9 402.7h0M147.3 378.7h0M147.2 417.7h0M147.9 361.8h0M155.6 396.2h0M141.8 408.6h0M137.9 411.8h0M140.7 417.6h0M134.5 357.1h0M144.5 396.8h0M148.2 386.8h0M133.0 402.9h0M148.8 361.6h0M141.5 419.9h0M151.5 407.4h0M147.7 413.4h0M155.9 397.0h0M136.0 377.3h0M142.1 406.9h0M150.9 397.9h0M135.5 394.7h0M138.3 378.2h0M132.2 403.4h0M148.1 398.2h0M156.5 403.2h0M118.5 396.2h0M135.2 415.6h0M128.3 398.0h0M141.3 412.6h0M150.2 407.1h0M148.0 375.6h0M156.4 389.4h0M111.1 396.0h0M142.5 418.9h0M146.7 413.1h0M132.0 403.5h0M135.1 411.2h0M152.9 395.1h0M139.8 414.8h0M127.9 387.9h0M155.2 357.8h0M145.7 394.1h0M132.8 414.6h0M162.5 385.1h0M142.4 415.4h0M127.5 403.2h0M149.9 409.8h0M137.6 399.0h0M135.8 368.7h0M140.9 415.8h0M153.1 398.3h0M127.9 396.8h0M152.9 415.3h0M137.6 405.3h0M145.0 417.5h0M155.9 400.8h0M141.6 418.1h0M148.5 405.9h0M131.7 403.2h0M149.8 404.3h0M137.6 410.8h0M137.9 408.1h0M150.0 346.8h0M164.0 390.3h0M143.4 421.6h0M154.4 405.0h0M146.3 418.8h0M145.1 418.7h0M146.9 418.0h0M144.4 414.1h0M143.1 420.8h0M138.8 396.6h0M139.9 368.9h0M143.6 421.3h0M122.2 385.6h0M141.9 420.0h0M145.7 417.2h0M133.6 411.9h0M129.8 413.8h0M144.9 421.0h0M147.6 400.1h0M139.1 374.6h0M143.0 420.4h0M153.8 402.4h0M121.7 408.2h0M146.3 381.2h0M155.4 373.8h0M168.9 397.0h0M136.0 411.0h0M134.1 399.1h0M138.9 375.5h0M149.6 413.5h0M142.2 413.2h0M142.7 419.8h0M150.7 414.1h0M130.7 417.0h0M145.3 410.0h0M133.7 402.2h0M146.5 417.1h0M145.7 416.5h0M120.0 389.7h0M150.6 380.2h0M136.5 414.8h0M140.2 414.2h0M140.9 418.0h0M146.5 420.2h0M147.3 394.3h0M148.6 393.5h0M123.8 389.9h0M142.0 406.4h0M135.9 375.5h0M143.7 419.8h0M139.1 400.5h0M138.1 387.5h0M160.6 388.0h0M147.9 410.3h0M150.8 419.7h0M150.3 378.6h0M148.9 374.2h0M145.1 413.8h0M143.9 421.1h0M145.6 403.9h0M135.1 376.8h0M168.7 393.0h0M155.3 397.3h0M145.1 397.4h0M147.7 409.8h0M141.6 412.7h0M144.0 421.2h0M149.6 375.1h0M136.8 358.4h0M152.5 397.9h0M137.6 384.8h0M149.7 365.9h0M132.3 399.6h0M131.0 409.0h0M155.1 411.3h0M139.9 387.8h0M141.6 400.2h0M103.6 392.2h0M141.0 406.8h0M151.9 393.7h0M111.1 387.5h0M144.1 413.7h0M145.3 413.0h0M150.2 414.3h0M142.8 418.0h0M144.3 416.6h0M144.3 421.0h0M154.4 385.0h0M148.3 384.7h0M149.5 405.4h0M150.8 384.3h0M144.8 419.2h0M132.8 386.0h0M138.9 406.8h0M133.7 398.4h0M142.5 411.8h0M146.6 419.5h0M143.5 421.3h0M152.7 383.5h0M137.4 388.0h0M141.1 418.8h0M147.3 393.0h0M143.2 419.5h0M145.1 414.8h0M143.1 420.4h0M163.8 400.7h0M142.5 416.5h0M151.9 410.3h0M144.9 420.2h0M144.5 417.3h0M138.8 406.3h0M164.9 400.8h0M149.7 416.2h0M149.0 415.2h0M131.1 405.2h0M141.0 418.5h0M140.2 418.9h0M135.1 360.4h0M141.0 406.2h0M143.8 420.3h0M139.5 389.4h0M138.3 395.7h0M144.8 420.4h0M155.2 405.5h0M136.0 404.9h0M145.6 413.4h0M144.6 414.4h0M141.4 394.5h0M143.6 420.7h0M143.0 420.2h0M135.3 405.8h0M138.2 414.8h0M142.3 415.4h0M149.0 414.6h0M148.6 387.6h0M128.0 404.6h0M135.5 375.1h0M152.0 401.7h0M140.6 417.2h0M143.2 418.1h0M160.4 401.2h0M119.3 397.0h0M141.6 419.6h0M161.7 388.5h0M135.9 399.6h0M126.5 409.0h0M143.7 421.5h0M146.3 400.1h0M145.8 419.9h0M139.4 417.4h0M143.8 419.6h0M148.3 413.6h0M136.5 373.4h0M134.8 398.2h0M138.1 382.0h0M144.6 418.3h0M138.0 405.3h0M135.5 399.9h0M126.5 396.3h0M142.5 420.3h0M151.6 409.9h0M140.8 401.3h0M138.1 415.1h0M139.3 397.8h0M137.3 382.8h0M148.7 406.2h0M142.2 418.4h0M154.7 416.0h0M130.7 401.8h0M145.6 419.7h0M135.1 414.6h0M142.4 415.0h0M150.3 358.4h0M129.8 394.4h0M148.2 363.1h0M151.2 362.8h0M143.2 420.6h0M119.6 403.8h0M147.7 402.9h0M138.4 416.8h0M152.4 407.9h0M142.3 420.7h0M139.7 388.6h0M139.1 377.3h0M142.5 421.1h0M134.6 402.8h0M151.5 404.5h0M122.9 402.9h0M141.1 394.9h0M145.5 410.1h0M138.8 387.0h0M143.3 421.4h0M139.3 392.6h0M141.7 415.5h0M162.0 412.8h0M139.4 415.6h0M144.2 421.2h0M138.0 369.2h0M143.0 420.9h0M136.8 345.9h0M137.5 392.7h0M140.5 418.8h0M147.0 417.9h0M146.0 408.0h0M141.0 388.3h0M150.0 371.6h0M132.0 377.1h0M144.1 420.6h0M148.0 412.9h0M131.5 409.6h0M151.3 406.3h0M151.3 379.9h0M145.2 418.6h0M148.2 409.4h0M143.8 419.3h0M154.1 326.0h0M147.8 401.9h0M145.3 418.7h0M138.8 403.1h0M136.2 411.3h0M141.5 404.5h0M141.2 416.5h0M143.9 419.2h0M136.3 406.9h0M152.8 401.8h0M150.5 381.7h0M141.2 415.9h0M159.3 391.6h0M152.5 357.5h0M140.3 414.2h0M133.1 399.2h0M170.4 393.9h0M106.0 388.2h0M160.2 403.0h0M164.6 389.7h0M144.5 417.7h0M130.1 404.5h0M145.2 415.1h0M144.1 417.7h0M141.1 404.2h0M147.3 397.0h0M131.7 362.7h0M142.1 416.2h0M147.2 412.1h0M136.2 379.1h0M132.2 364.0h0M132.0 372.8h0M132.7 382.0h0M140.7 419.4h0M147.0 409.1h0M122.8 395.3h0M130.0 406.2h0M136.8 414.8h0M143.2 421.0h0M145.0 408.4h0M141.7 419.6h0M138.5 416.3h0M153.3 407.3h0M140.2 416.1h0M138.7 411.1h0M147.0 391.8h0M135.3 380.2h0M150.7 367.8h0M152.7 380.8h0M140.1 415.6h0M138.9 367.9h0M145.7 390.6h0M141.6 405.2h0M144.7 419.8h0M143.8 421.3h0M139.5 371.3h0M140.0 400.5h0M148.5 385.7h0M140.9 364.1h0M148.5 412.9h0M140.2 403.3h0M151.4 394.2h0M147.8 387.5h0M128.7 397.3h0M142.0 401.3h0M140.6 414.2h0M149.2 360.8h0M137.5 370.8h0M140.4 415.9h0M151.4 374.8h0M159.5 412.7h0M143.3 421.5h0M130.3 389.9h0M130.3 401.0h0M151.3 403.1h0M132.7 392.6h0M146.3 413.5h0M140.2 404.2h0M139.2 413.1h0M140.5 414.6h0M147.0 383.6h0M138.5 386.8h0M149.5 397.4h0M128.0 397.3h0M141.1 415.6h0M152.7 392.0h0M144.2 421.1h0M138.6 405.4h0M138.6 397.1h0M145.3 397.0h0M140.8 413.6h0M121.6 397.6h0M156.8 403.4h0M129.4 392.7h0M140.2 376.9h0M145.8 401.8h0M140.5 397.0h0M131.6 376.3h0M140.4 409.4h0M156.4 395.6h0M155.4 385.8h0M138.2 412.6h0M146.9 417.9h0M143.3 421.5h0M148.7 405.8h0M154.6 342.7h0M150.2 415.0h0M122.5 408.9h0M139.9 416.5h0M135.6 402.2h0M141.4 415.4h0M140.9 419.3h0M147.6 416.8h0M131.4 338.3h0M154.5 399.5h0M135.3 388.4h0M147.4 385.5h0M143.7 421.4h0M146.4 416.2h0M149.2 377.8h0M144.3 419.4h0M134.1 340.3h0M152.3 317.7h0M145.2 397.8h0M136.7 391.3h0M137.9 416.4h0M140.9 416.8h0M143.2 420.6h0M148.9 380.6h0M146.6 417.3h0M146.9 393.7h0M145.3 420.4h0M145.0 419.2h0M147.5 385.8h0M128.6 412.2h0M145.2 413.4h0M135.7 411.7h0M145.9 419.6h0M169.5 406.1h0M145.5 410.0h0M137.3 415.8h0M152.6 377.5h0M152.2 356.0h0M153.9 366.4h0M152.5 391.0h0M132.0 414.4h0M128.1 405.2h0M140.4 410.0h0M145.8 417.2h0M138.9 409.4h0M141.2 409.2h0M153.9 375.6h0M137.5 361.7h0M135.3 409.1h0M147.1 398.7h0M145.4 372.1h0M133.0 376.0h0M143.8 417.1h0M150.2 382.8h0M148.0 407.7h0M141.3 420.6h0M148.3 400.3h0M138.8 420.1h0M152.7 393.3h0M131.4 372.0h0M144.4 418.7h0M131.6 399.8h0M130.2 402.1h0M135.0 352.9h0M149.0 411.8h0M143.6 420.8h0M140.8 417.3h0M149.2 404.3h0M163.7 393.9h0M136.7 406.1h0M139.9 389.1h0M127.1 396.8h0M142.8 419.7h0M144.3 420.0h0M142.4 420.0h0M153.2 416.1h0M136.6 414.3h0M147.3 400.0h0M136.3 383.1h0M156.6 411.0h0M141.4 419.4h0M158.3 389.4h0M125.9 399.4h0M151.8 395.6h0M151.8 384.8h0M144.7 419.5h0M152.1 362.7h0M141.4 415.3h0M143.4 421.6h0M136.9 405.4h0M148.2 400.3h0M138.2 351.5h0M144.4 420.7h0M141.0 415.7h0M138.7 382.8h0M141.8 413.3h0M146.3 409.0h0M145.3 415.1h0M114.1 397.7h0M152.7 396.0h0M151.9 414.5h0M129.1 387.6h0M120.1 392.7h0M148.6 406.5h0M147.4 374.2h0M132.2 362.5h0M135.4 392.1h0M149.3 382.5h0M149.8 366.6h0M140.0 417.6h0M144.0 418.2h0M144.6 419.3h0M145.0 415.1h0M145.7 408.0h0M135.8 416.4h0M138.2 391.8h0M171.1 402.6h0M133.4 390.4h0M144.2 417.3h0M142.0 415.3h0M142.7 416.6h0M163.8 397.7h0M150.7 390.2h0M135.3 334.2h0M157.4 396.5h0M136.7 358.2h0M133.4 403.5h0M141.0 418.8h0M145.8 419.7h0M147.1 419.4h0M142.8 420.7h0M151.4 397.9h0M153.1 403.7h0M142.8 419.1h0M136.0 364.6h0M143.9 420.4h0M133.2 407.6h0M148.2 416.5h0M138.1 383.0h0M139.5 396.4h0M137.5 408.9h0M137.9 375.3h0M138.5 395.6h0M139.8 363.4h0M149.0 397.4h0M153.6 403.1h0M144.1 419.3h0M137.1 344.6h0M147.2 399.7h0M141.3 410.0h0M144.2 419.8h0M120.0 409.2h0M153.4 411.0h0M136.7 412.6h0M145.9 406.7h0M161.5 410.1h0M151.3 415.3h0M144.4 419.1h0M150.2 397.3h0M135.3 366.6h0M151.8 405.5h0M147.6 409.4h0M141.6 420.4h0M146.7 414.6h0M154.2 367.1h0M142.0 419.6h0M135.2 360.7h0M144.8 416.0h0M143.3 421.5h0M156.5 391.6h0M149.7 358.5h0M148.5 355.0h0M137.7 417.4h0M140.5 416.4h0M148.6 411.1h0M143.7 420.3h0M145.0 415.0h0M143.3 421.5h0M136.8 415.2h0M147.8 406.9h0M144.2 417.5h0M153.0 402.3h0M139.2 411.8h0M145.2 420.1h0M138.0 412.6h0M133.1 407.1h0M140.6 391.0h0M149.8 392.8h0M138.0 408.5h0M138.7 354.6h0M146.8 412.4h0M144.4 414.6h0M140.3 417.5h0M157.9 406.4h0M145.9 418.3h0M138.2 418.5h0M135.6 368.5h0M133.1 405.0h0M144.5 414.5h0M141.5 416.5h0M133.0 373.0h0M152.1 410.1h0M144.0 418.4h0M136.5 355.2h0M143.1 421.2h0M146.9 381.5h0M151.9 406.0h0M142.1 419.7h0M144.3 421.2h0M138.3 378.1h0M157.5 396.3h0M134.5 397.3h0M134.2 397.0h0M144.9 419.8h0M137.0 356.9h0M151.8 401.7h0M144.7 408.0h0M161.9 405.8h0M146.7 387.6h0M158.4 393.2h0M153.8 413.2h0M145.8 412.5h0M148.9 398.4h0M139.8 410.6h0M125.8 398.9h0M144.0 420.0h0M137.8 389.8h0M120.2 389.5h0M141.8 418.0h0M141.5 418.5h0M152.0 382.2h0M137.3 416.9h0M148.3 409.1h0M149.8 378.4h0M154.0 410.5h0M139.7 395.3h0M137.6 378.2h0M131.8 398.4h0M148.8 405.2h0M133.2 403.4h0M148.2 411.9h0M133.4 403.2h0M137.6 393.2h0M140.6 412.0h0M148.8 405.3h0M137.3 417.4h0M144.4 419.4h0M143.8 420.9h0M143.2 421.1h0M144.6 411.7h0M153.0 408.8h0M144.2 416.1h0M142.5 420.9h0M140.6 419.3h0M155.7 409.5h0M144.4 416.1h0M141.2 417.6h0M135.1 404.0h0M143.6 421.0h0M149.0 355.3h0M147.2 418.9h0M144.3 415.4h0M146.6 416.8h0M147.0 393.0h0M151.5 408.8h0M139.4 415.3h0M134.3 386.3h0M156.0 409.7h0M151.4 343.6h0M145.4 417.0h0M135.8 418.1h0M140.9 402.2h0M120.2 386.0h0M131.2 409.5h0M144.6 412.0h0M141.5 392.1h0M136.7 402.1h0M144.9 414.1h0M137.0 394.9h0M142.3 420.5h0M144.7 411.1h0M143.1 421.3h0M141.4 395.7h0M140.5 419.6h0M155.2 411.2h0M140.4 413.0h0M138.2 415.4h0M143.1 419.1h0M141.3 403.1h0M141.5 420.4h0M144.0 419.3h0M139.1 418.8h0M141.0 412.2h0M144.8 420.6h0M151.0 398.8h0M141.8 403.0h0M137.4 409.9h0M141.9 420.8h0M133.0 373.8h0M138.6 353.0h0M143.4 421.6h0M145.0 409.9h0M143.9 419.3h0M126.8 390.0h0M127.7 406.9h0M147.6 412.0h0M148.3 408.7h0M134.5 405.2h0M135.5 380.2h0M153.6 365.2h0M144.0 419.4h0M152.1 405.4h0M143.9 421.2h0M145.1 419.5h0M139.4 393.5h0M144.0 418.2h0M133.8 412.8h0M141.4 412.7h0M139.3 417.9h0M151.7 409.8h0M138.8 407.5h0M139.5 402.2h0M135.5 399.3h0M130.1 400.2h0M147.7 413.7h0M127.4 403.4h0M143.0 420.9h0M146.1 391.5h0M138.3 401.8h0M138.2 414.6h0M134.6 376.7h0M150.4 387.9h0M163.4 393.0h0M130.6 391.9h0M143.1 421.4h0M146.2 419.5h0M143.2 421.2h0M141.4 415.5h0M147.3 415.7h0M151.8 405.4h0M143.4 421.6h0M142.9 419.6h0M150.7 414.2h0M145.0 417.6h0M140.9 418.0h0M154.1 373.4h0M138.2 406.3h0M139.3 407.1h0M143.4 421.6h0M147.1 417.8h0M141.2 412.3h0M144.1 415.4h0M137.8 367.6h0M151.5 407.5h0M175.4 405.5h0M124.4 393.1h0M145.6 413.0h0M146.8 369.1h0M121.0 391.0h0M164.0 404.1h0M148.4 386.3h0M143.1 420.5h0M149.8 414.1h0M148.0 359.9h0M155.5 386.5h0M138.0 402.6h0M141.0 407.8h0M150.8 373.4h0M145.4 414.7h0M140.4 410.3h0M147.5 412.9h0M143.1 420.2h0M133.7 371.1h0M147.2 418.2h0M129.1 397.2h0M138.1 401.8h0M147.1 412.2h0M156.8 410.1h0M152.4 374.0h0M140.6 413.6h0M159.0 401.6h0M144.9 419.3h0M133.5 395.2h0M158.9 391.5h0M149.1 404.1h0M124.2 402.0h0M135.3 411.7h0M145.3 413.5h0M152.4 405.0h0M140.5 414.6h0M155.1 351.9h0M146.7 382.4h0M124.1 395.7h0M154.2 375.8h0M137.1 365.5h0M141.9 405.5h0M145.1 413.0h0M155.0 397.3h0M146.0 418.9h0M147.5 416.2h0M129.7 404.8h0M141.6 415.6h0M141.8 415.4h0M146.8 411.6h0M152.5 391.4h0M139.8 393.9h0M145.8 387.3h0M141.6 418.6h0M143.4 421.6h0M149.2 387.2h0M139.7 417.1h0M139.7 417.9h0M145.2 419.8h0M152.5 395.3h0M152.1 353.5h0M148.8 415.1h0M134.8 406.6h0M142.9 420.8h0M136.0 407.4h0M163.7 395.2h0M150.4 384.1h0M140.8 391.3h0M138.3 413.4h0M133.2 412.6h0M148.3 380.4h0M139.0 383.4h0M143.9 421.2h0M145.3 398.6h0M149.1 377.3h0M137.7 355.7h0M135.9 333.5h0M138.7 405.0h0M136.5 408.9h0M137.5 417.2h0M152.8 364.9h0M149.3 372.9h0M147.3 413.5h0M146.9 412.2h0M151.2 357.0h0M144.0 414.6h0M146.0 419.8h0M138.0 417.3h0M142.8 415.2h0M129.9 411.4h0M141.6 411.4h0M143.1 421.4h0M134.2 338.1h0M153.4 413.9h0M146.7 406.0h0M132.1 371.7h0M138.0 340.6h0M125.3 401.7h0M144.4 409.3h0M141.2 387.2h0M135.5 391.6h0M146.5 403.4h0M151.6 401.8h0M140.3 413.5h0M142.4 420.2h0M137.3 359.6h0M151.3 390.9h0M144.7 420.0h0M156.4 391.5h0M140.8 408.3h0M139.3 376.1h0M132.9 396.2h0M144.3 417.7h0M134.3 398.4h0M166.7 403.0h0M143.6 420.3h0M136.3 415.1h0M137.5 374.4h0M142.3 420.4h0M133.8 408.6h0M120.7 386.1h0M149.5 414.1h0M118.1 389.6h0M143.8 418.9h0M146.4 385.1h0M142.1 418.6h0M140.6 416.3h0M146.2 419.2h0M146.8 416.9h0M141.7 417.7h0M147.9 385.4h0M141.1 405.6h0M131.8 404.5h0M149.0 325.4h0M144.0 420.4h0M138.2 367.2h0M138.7 381.3h0M146.5 386.2h0M145.0 418.9h0M142.1 415.7h0M148.6 414.2h0M139.0 377.4h0M153.2 394.1h0M142.0 419.3h0M141.1 417.8h0M144.5 414.3h0M133.6 374.7h0M150.1 386.3h0M145.2 413.0h0M149.7 361.6h0M150.7 407.5h0M145.9 418.5h0M142.8 419.2h0M143.7 421.0h0M141.4 399.8h0M142.6 415.4h0M145.0 398.3h0M139.0 377.9h0M150.3 417.5h0M122.1 392.2h0M134.5 379.6h0M133.6 388.6h0M145.7 408.5h0M145.5 401.1h0M145.7 419.8h0M134.4 408.6h0M145.8 418.9h0M150.4 408.9h0M142.1 414.2h0M133.2 399.5h0M140.8 420.3h0M152.0 416.2h0M141.3 417.7h0M148.9 399.2h0M145.1 418.4h0M127.0 402.1h0M128.3 400.6h0M137.9 401.0h0M143.2 418.9h0M142.7 419.9h0M140.6 381.4h0M134.3 412.3h0M140.5 411.4h0M132.3 400.0h0M120.5 387.4h0M151.7 415.8h0M144.6 417.9h0M136.2 386.0h0M143.6 421.5h0M151.3 413.6h0M145.9 414.8h0M149.9 408.8h0M133.4 332.3h0M134.0 376.1h0M150.5 389.4h0M150.5 357.2h0M141.8 411.6h0M144.8 416.8h0M149.6 359.0h0M147.8 401.6h0M134.0 412.5h0M148.5 418.0h0M144.0 420.9h0M151.9 404.8h0M151.5 414.9h0M151.9 408.9h0M155.3 416.0h0M139.2 413.8h0M135.7 409.6h0M124.0 411.0h0M152.0 353.7h0M148.3 390.6h0M144.8 408.2h0M151.6 375.5h0M154.2 406.6h0M144.8 410.0h0M139.5 386.4h0M142.5 420.0h0M145.6 418.1h0M140.6 416.6h0M144.7 418.0h0M134.0 395.4h0M149.7 379.8h0M139.3 371.9h0M140.9 415.8h0M155.4 359.1h0M140.8 407.9h0M155.1 327.7h0M144.8 395.3h0M134.5 416.7h0M137.9 415.2h0M154.4 356.9h0M156.9 399.4h0M136.2 413.5h0M142.3 419.5h0M134.3 406.5h0M150.2 341.7h0M138.5 362.5h0M139.1 408.9h0M140.9 409.6h0M126.9 385.4h0M138.2 385.6h0M139.6 406.4h0M142.0 417.5h0M160.0 393.3h0M150.3 414.8h0M144.1 420.4h0M158.4 406.1h0M142.6 417.2h0M132.8 408.5h0M148.6 416.1h0M141.6 418.1h0M134.8 380.0h0M144.6 412.7h0M154.3 403.4h0M139.9 415.7h0M122.3 394.9h0M129.7 398.7h0M134.6 416.2h0M151.8 368.9h0M148.2 407.8h0M144.0 413.5h0M132.9 413.6h0M138.6 417.7h0M144.4 417.5h0M181.0 390.9h0M134.1 379.8h0M140.1 368.9h0M146.0 419.0h0M147.3 390.2h0M141.9 416.5h0M145.4 398.7h0M152.1 410.9h0M123.3 391.4h0M143.9 420.7h0M132.4 394.1h0M151.2 416.1h0M144.0 420.5h0M139.6 416.6h0M147.2 406.5h0M144.1 421.2h0M139.2 407.7h0M130.8 401.3h0M131.9 381.4h0M148.5 369.5h0M145.0 401.0h0M153.8 381.4h0M150.1 376.4h0M132.2 318.8h0M143.8 420.6h0M134.0 405.2h0M147.8 383.5h0M137.4 410.6h0M142.2 420.6h0M135.5 403.6h0M148.7 345.9h0M131.4 389.6h0M142.1 420.3h0M140.8 389.1h0M146.8 417.0h0M148.0 415.6h0M150.6 404.6h0M151.4 351.7h0M153.9 367.4h0M137.7 376.3h0M141.7 387.4h0M149.9 419.3h0M138.1 406.1h0M145.0 415.5h0M147.0 410.4h0M138.3 413.5h0M150.3 410.1h0M159.5 402.6h0M154.3 409.4h0M139.6 417.1h0M141.7 400.6h0M153.5 377.1h0M150.5 397.5h0M144.3 412.7h0M142.7 417.5h0M132.9 403.5h0M141.2 394.0h0M172.1 402.6h0M145.9 409.0h0M145.3 408.5h0M137.1 414.4h0M143.5 421.2h0M147.5 381.0h0M134.2 393.9h0M149.2 411.3h0M151.1 381.5h0M141.0 415.3h0M142.9 411.9h0M130.0 398.5h0M139.7 392.7h0M146.3 396.9h0M122.4 396.8h0M150.2 382.3h0M143.9 420.2h0M152.0 349.2h0M145.0 420.5h0M156.9 413.3h0M147.0 410.0h0M138.3 400.5h0M155.0 356.2h0M161.4 388.9h0M143.6 419.3h0M137.4 383.3h0M141.3 405.5h0M137.5 408.8h0M143.5 421.5h0M137.1 409.7h0M150.6 396.5h0M137.6 367.6h0M143.5 421.5h0M148.8 415.3h0M138.7 384.4h0M139.5 371.4h0M140.5 407.4h0M136.5 385.5h0M161.5 407.5h0M151.9 378.4h0M149.8 389.2h0M144.1 413.0h0M151.1 400.3h0M125.7 405.6h0M143.8 421.3h0M153.1 407.9h0M147.5 407.3h0M142.9 420.2h0M143.3 421.0h0M150.5 405.0h0M142.0 419.3h0M144.4 414.9h0M137.2 363.8h0M147.4 402.7h0M146.1 414.3h0M143.8 420.2h0M142.1 419.2h0M145.0 417.2h0M138.8 390.6h0M141.4 409.0h0M145.6 416.8h0M145.5 415.6h0M149.7 368.7h0M142.5 421.1h0M139.1 407.4h0M148.4 393.5h0M146.5 381.0h0M123.0 403.9h0M146.7 409.5h0M137.8 384.0h0M137.8 415.3h0M146.8 355.8h0M141.9 413.6h0M139.7 415.9h0M154.9 406.0h0M143.6 419.7h0M141.6 412.5h0M152.7 413.2h0M144.8 405.7h0M148.1 405.4h0M159.5 389.8h0M157.3 397.5h0M146.1 392.1h0M143.0 421.3h0M142.8 418.2h0M136.9 408.5h0M152.9 411.1h0M144.7 404.6h0M145.1 417.5h0M142.2 417.6h0M160.8 395.0h0M142.2 417.2h0M147.9 370.7h0M128.3 394.7h0M143.3 421.7h0M148.1 400.3h0M146.2 415.4h0M147.1 386.9h0M138.8 417.4h0M148.8 408.2h0M129.3 398.2h0M150.3 413.6h0M105.3 387.1h0M147.5 389.7h0M145.9 389.5h0M148.3 411.4h0M145.9 394.7h0M140.5 401.2h0M137.2 414.4h0M140.4 396.7h0M148.9 407.7h0M150.1 415.9h0M134.5 399.4h0M151.2 381.5h0M144.9 404.0h0M152.3 411.5h0M135.9 371.8h0M145.2 406.9h0M133.0 376.8h0M147.3 388.6h0M146.4 418.4h0M151.7 399.4h0M145.8 415.6h0M152.5 370.3h0M146.3 408.9h0M137.9 402.5h0M141.1 404.8h0M140.4 419.7h0M161.4 410.0h0M143.0 420.1h0M142.1 419.7h0M141.7 415.0h0M137.1 391.7h0M135.2 385.3h0M137.9 401.7h0M146.8 392.6h0M145.5 407.5h0M130.6 397.1h0M149.7 403.5h0M150.1 388.7h0M135.1 378.4h0M142.7 417.7h0M142.9 421.3h0M136.5 375.7h0M166.7 403.9h0M146.3 412.0h0M150.4 391.1h0M138.7 370.1h0M162.4 388.7h0M144.3 415.9h0M104.4 410.5h0M133.2 394.3h0M139.6 403.2h0M146.2 401.4h0M145.0 417.2h0M137.1 403.6h0M142.1 416.7h0M144.8 417.2h0M131.5 366.2h0M141.7 420.2h0M155.7 411.3h0M144.0 420.9h0M142.1 421.0h0M154.1 392.5h0M144.3 420.3h0M145.2 416.1h0M139.3 396.0h0M138.9 419.4h0M132.4 372.0h0M150.2 406.5h0M136.0 362.5h0M134.0 378.8h0M159.8 395.3h0M148.7 389.4h0M140.7 410.9h0M152.6 361.8h0M159.8 402.0h0M162.4 402.6h0M144.1 416.0h0M144.7 419.5h0M142.4 414.3h0M135.2 404.4h0M140.1 413.8h0M134.8 412.0h0M135.3 364.4h0M117.6 401.0h0M142.8 421.1h0M141.2 397.7h0M132.6 415.6h0M131.8 405.1h0M148.0 419.5h0M132.5 407.6h0M132.8 413.3h0M150.0 419.5h0M142.6 420.0h0M147.9 407.9h0M140.7 381.6h0M140.6 402.2h0M135.8 393.2h0M153.1 399.9h0M145.5 413.8h0M138.3 401.4h0M138.4 412.1h0M134.4 397.7h0M141.6 419.7h0M153.4 404.9h0M139.4 410.3h0M120.8 407.2h0M151.6 409.7h0M138.4 416.9h0M150.0 413.4h0M166.9 386.4h0M143.1 420.6h0M138.5 396.4h0M144.1 414.8h0M146.9 419.0h0M151.0 397.9h0M145.9 411.0h0M137.5 383.0h0M129.8 402.5h0M148.7 414.4h0M136.4 396.9h0M153.1 411.8h0M168.1 404.0h0M150.1 358.6h0M145.2 417.7h0M145.3 376.4h0M157.0 396.7h0M150.4 360.9h0M141.4 383.6h0M157.2 409.6h0M141.0 401.2h0M138.9 387.7h0M141.5 419.5h0M148.9 416.5h0M152.4 390.2h0M146.2 412.8h0M139.2 414.6h0M134.3 403.7h0M170.4 391.3h0M131.4 382.1h0M141.1 404.4h0M108.2 384.9h0M140.4 396.9h0M140.0 413.1h0M138.7 409.2h0M154.2 383.8h0M154.3 405.5h0M131.2 404.1h0M140.9 414.4h0M135.1 367.7h0M138.8 392.8h0M143.9 415.7h0M142.8 421.0h0M150.7 345.2h0M144.9 413.8h0M152.7 355.1h0M146.4 399.0h0M137.8 410.5h0M153.4 395.9h0M150.7 416.4h0M152.6 354.8h0M154.0 382.6h0M150.1 415.2h0M135.0 407.8h0M143.3 421.6h0M150.2 368.3h0M150.7 404.9h0M139.4 412.5h0M148.7 381.9h0M159.3 411.1h0M141.8 418.3h0M130.6 413.4h0M147.1 396.5h0M137.3 386.3h0M150.8 416.0h0M149.1 413.2h0M139.7 419.3h0M140.1 401.6h0M149.0 388.5h0M152.1 403.5h0M140.5 392.7h0M140.3 384.1h0M142.6 420.5h0M137.3 381.5h0M140.7 408.5h0M142.3 420.6h0M151.7 369.2h0M143.5 420.6h0M148.6 378.9h0M145.5 415.5h0M138.2 380.1h0M140.1 398.0h0M139.0 404.1h0M147.0 413.4h0M144.9 412.0h0M140.6 395.0h0M146.5 403.3h0M143.7 418.9h0M128.9 403.8h0M146.8 418.7h0M143.6 420.5h0M151.8 399.6h0M140.2 390.6h0M157.7 401.0h0M143.8 416.3h0M144.6 419.6h0M131.5 412.0h0M152.7 398.9h0M144.6 420.5h0M155.3 389.8h0M136.5 415.4h0M154.2 395.7h0M135.2 407.3h0M139.6 385.1h0M138.1 394.2h0M139.5 392.9h0M140.0 394.8h0M152.7 412.7h0M144.5 419.9h0M140.5 416.8h0M152.4 408.2h0M137.2 408.5h0M146.0 418.2h0M154.1 395.2h0M146.1 416.9h0M161.3 389.8h0M134.0 405.9h0M143.5 421.4h0M148.2 408.3h0M155.3 394.4h0M141.8 420.1h0M149.2 358.4h0M147.2 370.5h0M133.6 372.4h0M139.7 391.2h0M154.2 393.3h0M136.6 398.8h0M152.1 395.9h0M146.1 404.8h0M124.8 411.7h0M133.1 405.1h0M146.4 403.8h0M135.5 413.4h0M131.8 387.0h0M150.4 400.8h0M152.6 383.1h0M145.0 415.4h0M137.2 408.2h0M136.6 388.6h0M142.3 418.3h0M140.6 417.0h0M143.9 420.4h0M145.6 405.1h0M139.5 411.0h0M143.3 421.6h0M151.4 404.5h0M145.6 410.0h0M119.8 387.3h0M144.0 417.7h0M149.3 387.3h0M146.6 394.7h0M130.5 412.8h0M147.1 413.4h0M143.9 418.1h0M133.8 365.9h0M147.6 392.3h0M138.6 416.9h0M139.8 378.6h0M135.3 415.8h0M143.2 420.9h0M165.0 385.5h0M139.8 409.3h0M157.9 386.5h0M122.2 413.8h0M143.8 414.7h0M135.2 418.9h0M131.2 390.4h0M147.1 419.5h0M156.0 391.1h0M141.3 417.9h0M143.3 421.3h0M139.6 418.6h0M138.6 369.7h0M136.5 408.6h0M143.3 420.1h0M139.7 392.0h0M132.0 393.8h0M147.1 386.6h0M145.1 418.2h0M133.0 404.2h0M151.2 372.4h0M152.7 328.8h0M141.9 412.7h0M130.2 407.0h0M144.4 420.7h0M137.0 348.6h0M149.7 381.3h0M147.4 386.9h0M135.9 363.8h0M153.1 411.0h0M142.1 417.1h0M140.3 415.5h0M152.5 377.1h0M150.5 343.7h0M139.7 417.6h0M151.8 377.8h0M147.7 403.4h0M141.7 418.8h0M137.2 401.5h0M138.1 384.4h0M135.2 415.5h0M148.6 412.2h0M132.9 376.1h0M147.4 404.0h0M150.3 338.3h0M143.5 421.4h0M139.1 412.7h0M137.8 407.0h0M128.0 404.8h0M146.2 407.9h0M135.6 410.6h0M149.1 385.8h0M147.1 415.0h0M133.3 408.9h0M171.5 399.9h0M136.1 381.6h0M141.2 410.7h0M146.0 396.2h0M134.5 412.5h0M139.3 392.9h0M127.3 405.3h0M152.3 410.4h0M140.8 415.4h0M141.0 396.7h0M149.0 368.7h0M153.1 371.1h0M150.9 387.0h0M119.3 386.0h0M145.2 417.5h0M114.8 401.0h0M152.7 298.8h0M144.7 415.0h0M131.6 403.5h0M141.8 408.0h0M143.8 419.2h0M142.6 415.0h0M161.5 399.9h0M159.7 391.4h0M121.2 410.8h0M132.6 402.2h0M139.1 410.6h0M155.9 413.2h0M146.3 393.0h0M154.9 348.8h0M139.6 393.2h0M144.4 411.9h0M160.6 399.5h0M136.2 405.8h0M156.0 396.3h0M145.1 384.7h0M150.1 409.4h0M136.5 369.1h0M150.1 391.7h0M138.7 375.4h0M148.1 413.5h0M165.7 402.2h0M140.4 412.4h0M145.1 417.3h0M135.5 411.7h0M143.2 420.7h0M136.9 413.0h0M138.3 375.1h0M153.0 384.3h0M134.6 388.4h0M152.5 395.2h0M153.6 391.0h0M148.6 406.1h0M126.5 394.5h0M120.1 399.1h0M136.7 414.0h0M149.0 401.2h0M139.0 417.4h0M147.8 403.6h0M131.1 393.8h0M145.6 419.4h0M150.7 402.5h0M135.1 396.5h0M136.4 409.8h0M142.0 417.4h0M138.3 410.1h0M138.7 391.9h0M146.4 418.0h0M150.3 407.7h0M130.9 394.0h0M141.9 412.4h0M133.4 413.0h0M148.2 396.5h0M153.8 398.6h0M133.4 373.5h0M149.6 413.9h0M149.3 392.5h0M150.4 411.7h0M135.7 345.6h0M140.1 415.8h0M138.1 395.4h0M143.5 421.2h0M152.0 362.9h0M171.6 393.2h0M138.8 412.1h0M142.6 421.1h0M145.0 417.5h0M143.2 421.5h0M142.0 408.1h0M139.9 388.2h0M139.9 381.1h0M146.0 377.8h0M118.3 385.5h0M132.3 391.8h0M147.4 410.2h0M155.5 399.6h0M146.7 415.4h0M150.7 395.1h0M134.1 401.2h0M130.1 395.4h0M143.0 413.7h0M139.2 405.5h0M143.8 421.1h0M143.0 419.4h0M140.7 391.2h0M141.0 415.5h0M141.1 419.5h0M145.9 390.4h0M137.9 399.8h0M149.7 404.9h0M126.5 408.5h0M137.7 381.5h0M145.7 418.7h0M161.3 406.3h0M162.4 397.5h0M128.2 390.3h0M146.6 417.9h0M143.5 421.5h0M152.3 322.3h0M134.3 380.6h0M128.9 404.2h0M133.0 351.2h0M144.0 414.4h0M139.5 363.1h0M133.3 404.1h0M134.8 405.0h0M145.6 417.7h0M147.4 369.6h0M139.1 414.2h0M139.9 409.2h0M145.7 415.2h0M105.9 407.2h0M142.8 417.4h0M149.2 341.1h0M141.1 413.6h0M143.1 421.4h0M149.3 392.6h0M142.7 421.5h0M170.8 401.6h0M136.5 402.8h0M179.0 397.1h0M143.0 420.5h0M154.2 376.1h0M138.8 408.2h0M137.0 416.6h0M105.8 386.2h0M142.1 417.4h0M145.6 394.1h0M156.7 394.1h0M143.1 419.3h0M140.9 414.0h0M141.1 393.1h0M158.6 408.8h0M152.0 384.3h0M141.4 407.8h0M151.0 346.7h0M141.7 419.5h0M131.5 354.9h0M141.5 415.8h0M132.6 405.4h0M154.2 415.0h0M143.0 421.1h0M142.7 399.8h0M137.8 415.2h0M136.7 408.3h0M136.1 410.3h0M131.6 333.6h0M136.3 401.2h0M139.1 381.8h0M142.6 414.7h0M131.1 409.7h0M136.8 403.4h0M146.2 394.4h0M135.3 383.9h0M148.4 371.1h0M148.6 390.4h0M162.2 411.0h0M142.0 419.0h0M139.7 409.8h0M145.5 420.0h0M136.5 416.1h0M137.9 405.5h0M143.5 421.6h0M142.2 418.8h0M142.9 417.0h0M134.5 401.2h0M144.8 414.5h0M152.1 382.3h0M143.7 420.2h0M156.3 408.0h0M147.3 401.8h0M140.9 392.1h0M143.0 416.7h0M142.5 420.4h0M142.1 407.7h0M151.6 396.8h0M138.8 379.7h0M134.4 381.8h0M135.7 394.2h0M143.9 419.6h0M151.2 397.1h0M151.8 407.3h0M148.0 370.2h0M124.9 396.9h0M133.1 398.1h0M146.7 408.2h0M137.7 395.1h0M135.7 404.2h0M153.6 366.9h0M141.3 420.6h0M151.5 398.5h0M148.8 411.9h0M148.7 384.1h0M144.0 416.7h0M137.6 365.2h0M142.6 421.1h0M153.3 403.7h0M144.5 420.6h0M151.0 341.0h0M140.9 405.1h0M156.4 386.7h0M133.9 372.7h0M141.0 381.3h0M152.7 395.4h0M135.0 369.8h0M137.0 400.6h0M132.9 383.0h0M150.5 408.2h0M144.8 417.4h0M139.0 383.5h0M145.9 420.6h0M156.6 387.1h0M136.6 388.0h0M142.8 420.9h0M130.2 388.5h0M129.5 402.9h0M136.0 411.4h0M143.5 421.3h0M130.9 388.4h0M137.8 404.7h0M145.9 381.7h0M140.9 365.9h0M146.8 414.5h0M146.9 416.7h0M146.0 415.4h0M145.3 420.1h0M164.7 392.2h0M155.5 362.3h0M125.9 399.7h0M143.7 421.2h0M142.7 420.8h0M165.5 396.0h0M139.3 414.3h0M131.9 387.1h0M134.8 381.7h0M144.0 415.2h0M158.1 388.6h0M141.2 407.4h0M141.6 418.4h0M137.6 361.4h0M143.0 419.1h0M158.1 386.7h0M146.4 419.7h0M139.7 334.3h0M150.6 411.4h0M141.9 411.6h0M141.7 419.9h0M137.4 410.5h0M136.2 407.1h0M139.9 403.9h0M147.0 414.4h0M174.3 399.3h0M151.5 398.7h0M145.8 393.2h0M149.0 416.1h0M139.9 414.0h0M142.1 406.2h0M153.2 360.8h0M147.4 416.6h0M153.7 413.0h0M136.7 416.0h0M133.4 336.8h0M154.0 396.2h0M151.5 330.6h0M140.4 414.5h0M145.3 403.8h0M136.2 404.9h0M137.8 380.5h0M144.0 417.6h0M135.4 372.3h0M144.0 420.7h0M135.7 395.9h0M138.2 417.0h0M147.8 346.6h0M126.6 403.2h0M154.9 397.0h0M145.9 415.9h0M150.9 416.8h0M148.7 412.5h0M139.3 413.5h0M138.8 388.5h0M144.6 420.2h0M147.6 361.7h0M148.1 419.3h0M148.5 407.4h0M146.3 420.1h0M162.8 405.4h0M149.1 380.0h0M134.9 404.2h0M123.4 393.4h0M158.3 402.6h0M137.4 412.5h0M143.2 421.5h0M132.4 415.4h0M137.8 414.3h0M155.3 411.3h0M151.9 401.0h0M129.3 387.5h0M144.5 414.4h0M145.0 411.6h0M142.3 418.9h0M148.7 413.5h0M149.1 360.1h0M140.8 417.0h0M142.4 420.5h0M151.3 370.0h0M152.4 374.9h0M150.4 394.2h0M145.2 406.4h0M139.7 417.9h0M140.4 403.2h0M145.0 409.9h0M133.9 413.6h0M154.0 408.4h0M157.7 394.8h0M186.1 388.2h0M139.0 392.3h0M140.5 416.3h0M150.7 393.3h0M139.7 419.2h0M157.7 412.9h0M146.2 403.8h0M140.1 410.5h0M148.5 415.2h0M148.3 353.9h0M140.4 415.5h0M143.1 420.9h0M143.5 421.4h0M139.9 403.1h0M150.8 366.7h0M147.7 391.7h0M136.7 396.2h0M140.3 381.0h0M137.3 408.2h0M130.8 397.5h0M135.6 409.4h0M148.9 366.6h0M164.3 386.0h0M146.9 395.1h0M140.3 418.1h0M137.1 374.9h0M133.7 340.2h0M140.5 388.7h0M146.8 413.3h0M139.2 401.0h0M140.3 419.2h0M143.4 421.5h0M139.4 371.3h0M148.2 380.0h0M144.2 419.5h0M150.3 361.8h0M139.6 416.4h0M142.1 417.6h0M139.2 417.9h0M125.3 391.9h0M158.2 389.1h0M138.4 386.4h0M143.5 421.1h0M144.2 407.4h0M151.5 404.5h0M152.4 410.9h0M140.5 416.2h0M143.1 419.4h0M153.8 382.9h0M139.7 388.5h0M148.5 398.3h0M152.2 342.9h0M140.6 417.1h0M136.8 361.5h0M139.9 418.5h0M137.8 414.9h0M131.6 403.3h0M146.3 401.5h0M147.3 394.1h0M149.2 378.6h0M140.7 389.6h0M136.7 415.1h0M147.2 401.9h0M141.6 416.8h0M158.1 393.0h0M145.9 414.4h0M124.8 389.0h0M140.8 393.7h0M139.2 395.7h0M136.5 418.2h0M135.9 367.4h0M145.2 420.1h0M144.6 420.9h0M146.2 419.1h0M148.7 415.3h0M151.6 370.5h0M138.8 415.8h0M137.8 417.4h0M143.9 417.9h0M137.4 414.0h0M160.4 392.9h0M145.1 409.4h0M138.5 392.9h0M137.9 395.2h0M147.0 390.4h0M156.1 406.2h0M140.9 420.5h0M144.7 419.7h0M141.3 403.7h0M155.5 410.5h0M143.7 421.0h0M141.7 412.8h0M138.3 412.9h0M140.0 384.3h0M136.8 406.7h0M142.1 414.8h0M152.6 397.4h0M140.3 374.3h0M136.3 391.0h0M150.1 414.4h0M136.8 418.2h0M145.4 377.8h0M152.7 370.6h0M153.8 405.0h0M145.0 416.3h0M135.7 403.9h0M128.9 400.7h0M142.4 420.9h0M153.1 403.8h0M150.3 366.2h0M142.2 412.4h0M153.7 412.4h0M141.9 418.3h0M143.9 421.1h0M139.8 418.0h0M144.2 415.4h0M136.0 384.0h0M144.1 416.8h0M144.3 418.8h0M140.4 406.2h0M151.2 407.4h0M143.9 419.8h0M140.8 419.8h0M118.0 387.9h0M143.0 421.3h0M144.6 419.8h0M133.5 379.2h0M139.1 383.9h0M148.3 413.3h0M153.7 351.0h0M127.0 396.8h0M145.7 419.7h0M148.9 359.5h0M143.3 420.6h0M149.9 366.6h0M132.0 363.1h0M140.0 401.6h0M135.7 414.1h0M146.1 417.6h0M142.7 412.7h0M159.5 405.2h0M146.3 409.9h0M140.2 408.6h0M156.6 386.3h0M142.5 418.8h0M155.5 405.6h0M151.0 411.1h0M139.3 410.6h0M137.3 386.0h0M148.5 415.9h0M143.2 421.5h0M139.9 392.0h0M136.3 382.5h0M132.5 400.7h0M138.0 410.4h0M150.6 357.1h0M141.3 419.8h0M137.5 357.4h0M136.7 404.0h0M143.1 420.7h0M124.1 389.7h0M127.9 390.5h0M141.5 415.5h0M136.7 414.3h0M143.7 421.5h0M139.4 358.0h0M146.1 413.8h0M131.8 381.1h0M138.2 412.4h0M146.9 377.0h0M140.2 415.3h0M144.1 419.9h0M154.2 346.4h0M149.4 399.1h0M146.2 408.5h0M139.4 400.8h0M134.2 413.4h0M132.7 401.2h0M133.8 323.7h0M139.9 363.2h0M138.7 376.8h0M141.2 420.2h0M146.3 418.6h0M150.3 417.6h0M150.8 376.4h0M156.8 398.8h0M143.3 421.6h0M134.1 355.8h0M144.3 420.6h0M135.5 411.2h0M141.1 419.1h0M136.2 412.9h0M137.0 400.2h0M151.5 381.1h0M141.0 408.3h0M143.0 420.6h0M149.2 394.9h0M146.1 408.4h0M143.6 421.4h0M136.5 390.9h0M151.5 406.8h0M147.2 406.0h0M144.0 417.3h0M154.6 395.7h0M141.1 420.3h0M143.3 421.2h0M151.0 383.1h0M143.2 421.4h0M146.8 403.2h0M143.7 418.7h0M141.6 419.2h0M137.1 410.6h0M147.1 409.5h0M133.7 380.4h0M137.2 401.2h0M138.9 353.4h0M155.0 394.8h0M141.0 412.3h0M153.8 352.2h0M144.9 395.9h0M112.5 389.2h0M144.8 419.7h0M144.8 415.3h0M136.9 382.9h0M134.7 413.1h0M144.3 418.7h0M133.4 397.4h0M144.4 420.4h0M139.2 418.0h0M146.4 418.8h0M140.2 413.2h0M141.8 420.8h0M139.3 416.3h0M135.0 415.9h0M142.6 420.8h0M136.9 389.5h0M150.0 377.3h0M146.6 404.1h0M136.8 392.3h0M144.4 420.0h0M147.8 414.0h0M134.7 361.8h0M144.4 415.6h0M130.1 387.8h0M145.0 420.1h0M140.2 386.2h0M144.6 418.5h0M132.7 415.0h0M147.4 416.2h0M141.3 402.2h0M140.8 417.6h0M135.8 406.5h0M142.6 419.7h0M156.1 390.6h0M146.4 413.0h0M154.1 404.7h0M157.1 396.3h0M131.7 344.7h0M147.2 365.0h0M142.8 419.2h0M150.9 399.2h0M145.9 417.2h0M140.5 401.7h0M152.9 397.0h0M133.1 395.9h0M142.7 420.0h0M138.0 390.3h0M137.9 413.2h0M141.7 419.0h0M134.3 351.4h0M139.0 377.4h0M146.1 416.2h0M159.0 391.8h0M148.9 408.1h0M146.0 416.7h0M158.2 398.8h0M139.0 365.3h0M149.6 413.8h0M129.5 397.3h0M141.3 417.6h0M143.6 420.7h0M127.2 387.1h0M146.4 417.8h0M140.4 383.7h0M127.7 401.5h0M152.5 400.7h0M152.6 343.8h0M131.1 392.1h0M149.0 397.8h0M143.5 421.6h0M148.4 382.5h0M162.3 387.9h0M156.6 385.2h0M150.4 408.4h0M136.6 400.4h0M143.9 420.0h0M144.5 417.6h0M147.2 387.9h0M146.9 382.1h0M148.0 409.6h0M121.9 394.7h0M151.9 408.9h0M139.7 417.8h0M131.6 391.8h0M153.3 371.7h0M154.7 412.1h0M142.1 414.1h0M149.0 380.9h0M134.8 391.6h0M143.0 421.1h0M132.5 357.4h0M134.0 374.3h0M148.6 390.1h0M135.6 410.2h0M132.6 411.8h0M142.6 383.6h0M142.7 401.6h0M153.2 362.0h0M141.1 413.9h0M154.7 403.9h0M144.2 409.9h0M148.5 386.3h0M140.6 419.1h0M142.7 416.8h0M145.5 384.6h0M157.1 410.9h0M151.4 414.4h0M141.2 411.3h0M138.2 406.8h0M151.2 409.5h0M143.8 420.7h0M142.8 417.4h0M148.0 416.7h0M137.8 376.3h0M149.4 377.1h0M140.0 415.3h0M126.6 408.9h0M159.9 398.3h0M138.0 418.5h0M149.1 399.5h0M151.3 406.0h0M159.2 412.7h0M170.5 391.3h0M139.5 413.1h0M129.9 409.8h0M138.1 391.7h0M141.1 388.8h0M134.8 389.7h0M142.2 420.1h0M149.2 411.5h0M142.3 413.2h0M151.4 362.6h0M140.7 408.7h0M129.6 400.4h0M140.5 399.4h0M143.5 421.1h0M142.5 417.8h0M143.4 421.6h0M144.4 420.4h0M145.9 415.2h0M143.0 417.8h0M131.7 415.5h0M138.6 408.8h0M149.1 416.9h0M136.4 412.2h0M127.5 415.9h0M140.5 413.8h0M153.4 340.4h0M147.6 373.1h0M137.0 406.4h0M147.6 419.6h0M142.3 420.2h0M140.1 392.6h0M144.3 412.7h0M136.7 346.4h0M154.3 398.6h0M136.7 416.0h0M163.1 388.8h0M145.0 383.0h0M143.6 421.4h0M136.5 417.0h0M139.9 416.9h0M147.9 393.7h0M143.4 421.6h0M138.3 409.5h0M142.7 419.2h0M137.3 417.1h0M155.2 338.4h0M147.8 384.7h0M159.4 407.1h0M142.4 415.2h0M148.1 415.8h0M162.1 392.1h0M145.0 415.8h0M148.3 410.2h0M139.7 363.7h0M155.2 414.2h0M136.3 383.3h0M146.9 411.7h0M133.5 405.0h0M143.6 421.5h0M135.5 362.0h0M133.3 389.6h0M133.1 415.5h0M144.6 420.9h0M141.4 397.7h0M138.7 384.1h0M148.9 377.2h0M140.8 411.6h0M135.7 412.8h0M145.3 415.9h0M141.3 419.0h0M154.7 371.1h0M164.0 401.6h0M149.1 416.2h0M141.7 419.9h0M143.0 419.5h0M142.3 420.7h0M136.8 375.0h0M143.2 420.2h0M143.4 421.6h0M133.8 396.6h0M149.5 375.6h0M142.1 420.6h0M146.3 404.9h0M145.6 416.1h0M144.5 411.9h0M151.1 403.9h0M148.7 416.2h0M142.2 419.6h0M142.0 415.6h0M151.9 408.3h0M161.8 403.6h0M142.2 414.0h0M150.6 391.2h0M140.5 413.1h0M142.8 417.1h0M139.7 383.8h0M137.9 379.6h0M132.5 417.1h0M139.6 398.7h0M145.8 398.5h0M141.8 419.6h0M151.7 399.6h0M145.6 416.3h0M147.9 419.1h0M144.7 420.0h0M131.7 381.5h0M141.9 414.5h0M127.0 395.4h0M138.3 376.2h0M148.9 387.3h0M149.8 402.8h0M138.3 416.4h0M154.9 408.9h0M135.5 399.5h0M149.2 401.6h0M138.6 413.4h0M145.7 405.9h0M144.1 419.9h0M189.9 389.9h0M141.8 412.9h0M144.5 419.5h0M118.2 396.9h0M138.3 402.1h0M141.6 420.0h0M146.3 378.6h0M160.0 392.5h0M146.3 419.5h0M142.2 420.2h0M164.3 406.6h0M133.6 384.7h0M143.1 415.2h0M137.6 385.8h0M147.9 381.5h0M149.7 409.5h0M150.6 381.3h0M141.7 419.2h0M135.4 410.6h0M138.4 406.7h0M141.1 420.0h0M146.0 407.9h0M137.0 414.2h0M143.0 420.0h0M145.9 417.0h0M154.3 339.0h0M132.9 416.5h0M150.0 414.8h0M158.9 400.9h0M151.1 400.6h0M148.6 416.5h0M136.0 410.9h0M147.6 384.9h0M155.1 393.1h0M123.4 403.6h0M145.7 416.4h0M150.3 406.1h0M145.5 419.0h0M146.8 402.7h0M171.3 389.1h0M151.3 397.2h0M142.9 419.9h0M150.1 416.9h0M161.3 411.8h0M141.4 418.4h0M144.0 419.8h0M143.6 421.0h0M148.0 413.4h0M138.2 383.8h0M135.4 370.0h0M153.0 404.7h0M147.7 392.0h0M149.7 411.6h0M141.8 397.5h0M144.3 419.5h0M150.4 412.5h0M143.5 420.9h0M140.3 402.2h0M145.5 414.5h0M149.4 397.8h0M140.2 417.9h0M126.6 410.3h0M143.4 421.6h0M154.0 373.7h0M134.9 408.7h0M137.6 363.7h0M140.8 410.7h0M135.9 414.8h0M132.2 408.9h0M131.7 380.8h0M133.4 415.3h0M148.0 416.7h0M140.1 418.3h0M149.8 390.1h0M152.2 400.5h0M142.9 418.2h0M139.6 404.3h0M136.3 397.7h0M143.7 421.5h0M141.8 412.1h0M148.8 335.0h0M142.3 420.5h0M141.3 416.0h0M139.6 386.8h0M146.4 405.4h0M150.2 404.9h0M143.4 421.6h0M138.3 418.0h0M135.0 388.9h0M142.0 404.5h0M137.1 410.0h0M151.1 410.0h0M154.5 397.4h0M143.9 420.1h0M146.9 393.1h0M151.1 395.8h0M146.0 404.3h0M161.6 407.2h0M133.5 351.1h0M154.1 414.8h0M126.2 395.9h0M142.4 418.0h0M135.7 409.2h0M145.0 417.8h0M153.1 377.3h0M147.2 418.4h0M136.2 412.9h0M126.7 389.3h0M153.4 405.8h0M138.9 406.7h0M144.9 419.6h0M131.4 409.5h0M140.0 376.2h0M146.3 392.2h0M145.4 417.2h0M157.9 402.0h0M149.5 416.9h0M139.4 416.1h0M149.2 388.8h0M137.1 410.9h0M147.0 378.7h0M145.3 406.0h0M146.1 370.4h0M138.3 390.3h0M143.9 419.1h0M153.7 353.9h0M141.2 420.4h0M140.1 417.4h0M145.4 416.6h0M173.4 405.9h0M147.4 392.3h0M141.7 404.3h0M137.8 402.4h0M134.5 413.5h0M147.6 403.0h0M142.9 420.4h0M141.4 409.4h0M133.0 407.8h0M143.2 420.2h0M156.3 408.6h0M147.3 415.2h0M151.2 356.2h0M146.8 420.6h0M142.5 401.9h0M129.8 398.8h0M158.8 397.5h0M150.1 387.6h0M139.0 414.3h0M140.0 416.7h0M145.7 420.3h0M148.4 377.4h0M134.1 402.8h0M148.7 385.7h0M141.6 408.5h0M149.3 356.3h0M153.6 414.3h0M138.0 378.3h0M144.9 379.6h0M137.2 372.4h0M154.1 387.1h0M138.3 414.4h0M141.3 413.5h0M132.8 411.1h0M145.5 420.3h0M134.8 419.6h0M141.7 418.5h0M158.6 409.0h0M145.3 402.2h0M131.6 391.4h0M141.1 417.0h0M139.8 412.8h0M140.5 409.7h0M138.3 411.2h0M145.3 420.3h0M143.2 421.3h0M138.8 382.5h0M141.2 420.4h0M139.7 416.9h0M134.2 405.9h0M134.3 310.9h0M137.5 354.0h0M153.4 392.8h0M145.8 413.4h0M141.5 411.6h0M154.0 416.4h0M152.9 407.0h0M139.3 404.9h0M144.3 419.7h0M196.9 397.9h0M194.0 406.9h0M184.4 408.1h0M183.2 401.3h0M63.4 396.7h0M85.6 398.4h0M88.5 389.6h0M101.5 390.8h0M103.2 397.9h0M132.2 294.6h0M131.8 306.0h0" stroke="#a9a9a9" stroke-width="2.30" stroke-linecap="round" fill="none"/>
<path d="M124.0 366.5h0M122.0 368.8h0M123.1 358.9h0M126.9 349.8h0M115.0 380.3h0M130.1 362.6h0M126.5 382.7h0M101.2 380.2h0M121.7 319.1h0M111.3 333.8h0M119.5 384.0h0M129.0 383.3h0M127.6 379.4h0M128.9 379.3h0M125.5 378.7h0M108.2 368.3h0M128.2 377.8h0M126.3 373.3h0M123.2 372.9h0M119.8 372.1h0M131.1 379.4h0M120.2 377.4h0M124.0 334.6h0M116.6 344.8h0M121.5 379.8h0M129.2 383.1h0M120.8 367.8h0M125.8 370.9h0M128.3 380.8h0M128.4 364.7h0M124.3 370.2h0M126.0 358.3h0M118.9 374.5h0M119.8 372.0h0M128.4 363.8h0M125.4 362.2h0M129.1 382.9h0M121.6 379.3h0M128.0 363.2h0M131.1 367.0h0M123.9 360.0h0M110.7 356.7h0M127.5 384.6h0M109.4 380.5h0M127.7 371.7h0M126.8 384.0h0M119.6 383.7h0M117.6 349.6h0M128.2 383.2h0M129.5 346.3h0M125.2 360.0h0M122.7 376.2h0M127.8 380.5h0M127.2 354.3h0M125.9 367.7h0M129.9 380.5h0M124.7 383.3h0M120.8 370.6h0M129.5 378.1h0M131.0 379.9h0M126.0 372.9h0M129.7 384.3h0M124.8 382.1h0M120.3 362.3h0M122.4 367.4h0M118.2 366.0h0M128.3 375.7h0M122.6 381.0h0M119.8 339.0h0M130.3 382.2h0M121.5 365.7h0M111.6 363.5h0M128.6 372.8h0M129.6 374.0h0M130.3 339.4h0M130.2 362.6h0M123.7 327.9h0M120.0 378.5h0M128.5 376.4h0M122.8 375.9h0M127.7 350.4h0M129.4 364.1h0M120.1 381.5h0M115.8 380.9h0M127.8 382.8h0M121.3 350.7h0M124.4 382.5h0M122.9 376.3h0M128.7 361.7h0M129.7 363.4h0M127.5 383.5h0M118.2 367.9h0M129.9 366.2h0M118.1 349.5h0M129.1 352.4h0M123.2 347.2h0M123.1 347.1h0M128.6 382.1h0M129.7 372.2h0M131.2 329.5h0M129.9 373.6h0M125.0 376.4h0M129.6 382.2h0M102.7 373.2h0M124.0 378.4h0M121.6 373.3h0M124.5 379.0h0M130.4 383.6h0M127.7 347.5h0M113.6 358.1h0M125.8 382.2h0M130.7 345.1h0M130.1 358.4h0M129.4 370.2h0M126.3 381.2h0M123.9 359.2h0M130.6 382.1h0M130.8 361.9h0M128.7 368.2h0M123.5 378.1h0M130.7 377.5h0M128.7 367.6h0M129.4 367.0h0M128.4 384.1h0M92.6 380.4h0M127.9 366.8h0M128.8 361.5h0M125.3 350.9h0M116.2 358.2h0M128.7 326.8h0M113.8 381.2h0M130.2 332.8h0M130.4 347.7h0M131.2 382.0h0M130.4 353.8h0M127.7 353.7h0M128.6 365.4h0M114.7 360.7h0M127.7 341.8h0M124.1 384.2h0M122.5 344.4h0M130.7 365.0h0M129.1 355.7h0M120.0 350.0h0M107.9 346.9h0M131.2 326.7h0M121.6 358.8h0M129.8 354.6h0M124.7 362.6h0M121.3 313.7h0M127.7 357.1h0M114.3 354.5h0M127.5 384.6h0M123.3 384.1h0M127.6 383.3h0M129.4 379.1h0M128.7 370.3h0M127.2 364.6h0M120.6 353.5h0M130.9 383.5h0M129.2 359.3h0M105.5 323.3h0M131.3 369.0h0M125.6 378.3h0M129.0 367.4h0M127.4 353.7h0M122.7 379.2h0M116.6 348.5h0M110.0 379.4h0M114.1 380.7h0M116.9 374.3h0M129.3 374.8h0M114.1 384.2h0M113.7 382.8h0M122.9 384.0h0M117.3 361.5h0M124.7 384.3h0M102.7 361.1h0M116.5 375.9h0M123.3 377.0h0M121.0 375.5h0M119.4 335.1h0M117.1 360.9h0M120.2 382.5h0M123.6 377.9h0M128.5 384.2h0M126.6 356.1h0M122.7 383.6h0M123.6 375.6h0M126.1 369.8h0M130.6 358.0h0M129.4 379.9h0M129.3 348.5h0M129.9 373.2h0M124.7 379.9h0M119.7 364.4h0M125.2 361.5h0M129.1 329.5h0M130.1 380.2h0M124.9 356.6h0M127.9 383.0h0M123.5 382.9h0M124.4 374.3h0M124.5 378.6h0M118.1 353.3h0M124.1 368.3h0M127.8 373.9h0M130.9 368.4h0M127.6 380.5h0M126.3 384.1h0M117.6 362.1h0M126.9 377.3h0M127.5 383.3h0M124.6 359.6h0M124.9 373.1h0M122.8 369.5h0M123.5 332.9h0M129.3 340.1h0M131.2 350.6h0M129.9 381.7h0M130.5 376.5h0M108.9 380.9h0M120.2 334.8h0M120.5 383.9h0M129.4 330.5h0M124.7 371.3h0M125.7 379.1h0M112.7 362.7h0M123.5 378.5h0M126.0 374.8h0M118.9 366.0h0M126.9 384.7h0M123.2 352.0h0M123.8 370.3h0M127.8 380.9h0M126.2 329.7h0M115.9 363.8h0M110.5 361.2h0M111.1 380.0h0M119.8 364.4h0M130.5 354.7h0M127.0 358.9h0M129.1 365.0h0M94.2 374.4h0M129.2 347.3h0M120.4 383.5h0M129.8 375.2h0M121.9 382.6h0M120.2 352.6h0M122.0 382.3h0M118.3 376.9h0M110.3 355.8h0M126.9 369.6h0M113.7 350.6h0M130.2 375.5h0M126.0 379.0h0M128.9 375.5h0M128.6 374.0h0M114.6 351.9h0M130.5 362.8h0M127.1 378.6h0M121.6 367.3h0M123.0 378.6h0M119.9 363.6h0M116.3 353.4h0M110.5 355.7h0M125.4 353.8h0M116.2 347.6h0M131.3 360.8h0M125.7 382.3h0M130.4 324.3h0M125.5 369.1h0M129.7 346.9h0M120.4 377.4h0M121.9 382.9h0M131.1 384.2h0M129.9 376.2h0M113.7 383.9h0M126.7 365.2h0M114.2 371.7h0M130.7 370.2h0M121.2 374.8h0M124.6 379.7h0M129.4 341.5h0M129.9 380.4h0M123.2 376.3h0M115.8 361.5h0M123.5 372.1h0M116.1 375.8h0M118.9 371.5h0M127.0 327.3h0M107.7 378.5h0M129.1 370.6h0M121.2 377.7h0M124.9 371.6h0M97.9 362.1h0M124.1 373.9h0M124.1 369.4h0M129.4 381.4h0M122.1 384.6h0M124.3 365.0h0M126.4 376.7h0M124.7 360.7h0M123.4 363.5h0M122.9 377.4h0M121.1 373.4h0M126.4 373.2h0M123.7 380.7h0M130.1 373.3h0M128.0 372.7h0M130.4 371.4h0M128.7 352.3h0M120.6 384.7h0M121.6 340.6h0M129.5 383.4h0M111.6 374.7h0M117.5 362.9h0M113.0 368.7h0M122.3 377.2h0M131.1 374.8h0M124.1 384.6h0M104.5 379.5h0M124.2 376.6h0M122.5 353.1h0M125.0 362.8h0M111.9 373.8h0M118.7 380.4h0M130.0 339.7h0M121.0 382.1h0M115.4 379.4h0M130.3 381.6h0M119.1 342.3h0M121.6 354.2h0M129.2 360.6h0M117.8 361.3h0M125.2 380.3h0M116.5 376.9h0M128.8 378.0h0M126.0 383.4h0M130.7 383.4h0M123.3 344.2h0M126.9 353.4h0M128.5 374.3h0M124.0 381.7h0M128.7 375.8h0M128.6 359.2h0M130.1 383.1h0M113.3 380.6h0M129.4 382.7h0M128.4 382.7h0M128.7 384.3h0M122.2 366.5h0M129.6 361.6h0M129.9 379.5h0M114.2 358.3h0M123.5 361.3h0M125.5 340.9h0M125.3 378.3h0M122.5 378.3h0M128.7 368.0h0M128.2 365.6h0M124.2 364.1h0M124.3 383.2h0M123.0 379.2h0M130.8 375.8h0M130.9 371.9h0M127.9 371.7h0M126.6 374.8h0M126.6 384.7h0M116.8 374.3h0M129.5 337.9h0M116.4 349.1h0M125.2 359.4h0M130.1 368.0h0M124.7 383.0h0M114.2 379.9h0M125.9 381.7h0M122.0 363.5h0M131.1 343.0h0M129.0 383.4h0M127.2 384.8h0M114.0 373.3h0M128.3 382.5h0M127.3 357.3h0M112.9 357.8h0M128.3 346.0h0M126.9 363.4h0M128.9 381.4h0M121.7 375.2h0M124.9 379.6h0M127.9 374.3h0M124.8 380.8h0M116.4 384.5h0M95.9 376.2h0M124.7 368.2h0M124.3 383.2h0M127.3 333.7h0M130.2 378.8h0M118.4 359.8h0M124.4 378.3h0M131.2 372.4h0M129.9 374.9h0M115.8 384.2h0M127.6 381.7h0M130.6 368.0h0M130.6 348.0h0M118.3 382.6h0M126.8 356.2h0M131.3 380.1h0M123.7 376.0h0M127.5 383.9h0M126.1 383.7h0M118.7 364.3h0M128.9 381.9h0M122.9 383.3h0M130.9 367.5h0M127.1 343.4h0M128.6 384.1h0M119.0 377.0h0M127.7 380.1h0M116.0 361.1h0M119.2 355.5h0M129.0 322.9h0M126.6 382.0h0M104.4 382.2h0M122.5 383.6h0M128.0 347.6h0M128.3 339.5h0M126.0 381.1h0M130.7 369.0h0M127.3 351.9h0M117.3 373.9h0M116.9 377.1h0M60.5 347.9h0M89.5 378.6h0M96.0 379.1h0M97.2 375.2h0M101.5 372.9h0M102.8 349.9h0M106.1 347.7h0M125.0 273.9h0M118.5 304.5h0M123.3 309.4h0M128.9 306.0h0M111.7 320.4h0M118.5 318.4h0" stroke="#1e90ff" stroke-width="2.30" stroke-linecap="round" fill="none"/>
<path d="M156.4 384.6h0M166.6 373.4h0M161.8 367.3h0M170.7 373.2h0M157.2 377.9h0M164.4 359.3h0M165.8 346.7h0M171.3 366.3h0M177.7 362.3h0M158.1 380.8h0M155.6 344.8h0M163.8 373.3h0M162.7 382.1h0M161.5 367.3h0M175.5 376.1h0M160.5 366.2h0M158.2 363.7h0M161.1 384.7h0M164.6 374.3h0M162.1 373.2h0M167.5 361.7h0M157.2 375.0h0M169.2 364.4h0M156.7 353.4h0M160.2 368.2h0M162.9 382.8h0M157.5 376.0h0M162.5 377.7h0M156.5 348.5h0M159.9 370.8h0M183.7 369.3h0M156.4 375.1h0M164.4 382.5h0M159.6 372.1h0M161.2 373.7h0M160.8 355.4h0M173.1 380.4h0M162.5 369.9h0M167.6 369.8h0M157.7 382.9h0M166.8 349.6h0M162.6 377.9h0M162.8 373.5h0M162.5 353.2h0M158.2 369.2h0M157.4 373.4h0M172.5 371.6h0M156.7 379.3h0M160.9 360.8h0M160.1 382.5h0M167.6 359.2h0M168.7 367.3h0M155.6 374.0h0M160.1 349.0h0M157.4 375.6h0M162.7 373.1h0M161.1 365.9h0M168.8 372.1h0M156.4 361.8h0M157.9 372.2h0M164.4 378.2h0M159.8 369.0h0M155.7 382.0h0M162.3 375.1h0M160.5 384.1h0M164.1 375.3h0M177.4 376.8h0M166.4 378.6h0M156.9 362.7h0M159.0 383.7h0M162.1 384.6h0M160.3 376.9h0M161.1 349.9h0M157.5 375.4h0M176.6 366.3h0M157.7 383.5h0M158.4 368.6h0M161.8 372.4h0M158.3 378.7h0M159.7 383.8h0M159.7 366.1h0M167.7 354.6h0M156.5 351.7h0M158.8 378.1h0M160.1 356.1h0M163.4 357.2h0M158.4 352.3h0M156.4 368.3h0M157.3 378.0h0M156.7 377.6h0M171.1 383.4h0M163.9 383.7h0M158.0 360.9h0M163.7 383.5h0M165.0 379.8h0M177.1 329.4h0M155.6 359.8h0M158.3 369.1h0M159.9 377.8h0M157.6 380.1h0M165.6 382.4h0M166.7 361.1h0M160.3 376.6h0M158.2 380.7h0M161.0 375.4h0M158.6 359.5h0M168.4 374.5h0M159.2 381.4h0M173.8 381.4h0M159.6 372.0h0M156.6 357.3h0M162.3 383.8h0M175.9 367.0h0M160.3 369.5h0M161.2 379.1h0M174.9 376.1h0M157.5 375.1h0M165.2 364.9h0M155.5 372.0h0M187.9 371.4h0M170.4 376.1h0M158.3 380.1h0M157.0 364.4h0M172.0 332.4h0M174.9 364.3h0M168.7 375.4h0M155.6 352.8h0M156.8 355.7h0M174.0 348.9h0M168.6 374.2h0M166.6 362.5h0M157.1 370.4h0M164.0 379.3h0M176.9 379.3h0M169.7 365.5h0M163.8 380.8h0M162.8 375.7h0M159.3 381.4h0M159.9 383.8h0M164.8 365.5h0M162.8 369.1h0M160.7 369.6h0M169.3 372.3h0M171.0 373.2h0M163.9 353.3h0M162.8 369.2h0M161.3 359.4h0M157.7 367.3h0M162.7 384.7h0M170.5 343.5h0M160.5 378.7h0M159.4 382.2h0M157.9 384.3h0M156.9 383.2h0M158.9 370.3h0M157.3 343.2h0M169.4 377.9h0M155.8 362.8h0M156.1 361.6h0M167.0 367.2h0M156.4 381.1h0M160.7 379.3h0M163.5 375.5h0M172.4 365.9h0M165.0 378.1h0M156.8 382.5h0M157.9 381.6h0M165.2 361.1h0M164.2 368.2h0M156.2 371.6h0M164.1 342.4h0M160.3 381.3h0M179.5 354.5h0M179.6 367.7h0M173.8 368.2h0M161.2 379.6h0M162.2 335.0h0M177.4 384.7h0M162.4 370.7h0M159.4 368.7h0M161.9 384.1h0M159.9 357.0h0M159.7 384.2h0M165.7 373.8h0M158.3 383.7h0M169.3 372.1h0M157.0 362.8h0M159.3 356.5h0M165.5 345.9h0M156.7 352.8h0M176.2 363.5h0M160.4 383.2h0M155.9 358.4h0M161.3 378.5h0M166.5 382.0h0M155.8 369.0h0M168.6 359.8h0M156.6 373.3h0M169.6 361.5h0M169.7 364.4h0M164.9 384.1h0M162.8 383.9h0M170.3 361.0h0M167.4 377.1h0M161.2 367.1h0M160.1 377.7h0M156.8 383.5h0M156.2 384.6h0M165.4 342.9h0M176.3 369.5h0M159.7 361.7h0M161.6 380.7h0M156.8 384.0h0M160.9 359.3h0M156.1 369.2h0M165.6 374.1h0M159.2 365.4h0M164.6 383.5h0M160.3 376.4h0M166.8 352.2h0M161.9 380.2h0M172.3 367.6h0M155.6 382.7h0M162.8 378.2h0M168.7 357.1h0M158.9 376.7h0M155.5 382.7h0M158.7 384.4h0M157.8 370.8h0M158.1 370.8h0M157.2 380.0h0M168.2 362.0h0M163.8 377.2h0M157.9 375.3h0M167.3 352.2h0M175.9 361.0h0M157.1 373.8h0M156.9 357.3h0M169.8 380.2h0M173.7 375.3h0M158.4 383.5h0M164.9 382.6h0M160.0 372.0h0M164.2 335.7h0M158.9 383.6h0M156.3 378.5h0M157.1 364.3h0M158.3 382.0h0M161.7 348.3h0M166.3 382.8h0M168.6 361.6h0M161.3 364.9h0M159.2 356.3h0M172.3 357.5h0M160.2 370.0h0M162.4 374.9h0M156.3 356.3h0M170.3 332.4h0M168.7 354.1h0M157.7 384.6h0M161.5 353.4h0M181.2 331.3h0M156.9 384.5h0M157.7 381.1h0M167.1 364.5h0M167.3 381.0h0M156.2 369.4h0M180.9 362.1h0M164.6 381.9h0M159.0 350.5h0M168.2 380.6h0M159.8 374.4h0M162.8 368.9h0M168.4 379.6h0M156.0 374.7h0M165.3 381.1h0M162.0 362.0h0M156.8 365.0h0M174.7 366.0h0M161.6 357.6h0M163.9 376.4h0M155.8 379.6h0M159.0 365.3h0M166.2 380.9h0M159.0 373.8h0M159.7 361.0h0M167.9 381.2h0M173.7 379.7h0M158.1 381.9h0M157.0 350.9h0M162.1 352.6h0M159.5 364.9h0M156.3 380.1h0M161.3 369.6h0M157.3 360.8h0M169.5 334.8h0M160.4 358.9h0M162.6 358.0h0M157.1 380.0h0M169.7 373.7h0M160.0 381.1h0M172.2 373.6h0M156.4 352.3h0M163.3 380.7h0M160.5 373.0h0M161.8 379.1h0M164.6 372.4h0M168.0 369.2h0M171.9 383.9h0M172.5 375.3h0M165.5 368.9h0M168.1 381.7h0M163.8 379.0h0M159.1 380.6h0M156.3 370.9h0M162.5 378.5h0M159.4 379.4h0M155.8 377.6h0M176.2 379.8h0M167.4 348.9h0M156.7 340.9h0M162.1 340.9h0M166.0 349.6h0M160.2 380.3h0M160.1 383.5h0M159.0 377.3h0M168.0 366.1h0M161.9 382.5h0M169.0 375.4h0M160.7 366.9h0M158.1 378.1h0M162.8 374.3h0M164.7 382.8h0M164.9 352.9h0M156.7 349.4h0M157.0 364.5h0M161.1 369.9h0M156.5 383.8h0M165.4 381.2h0M162.9 354.1h0M170.8 384.3h0M165.2 372.6h0M161.2 377.6h0M180.4 356.6h0M180.7 369.3h0M157.5 383.2h0M155.8 378.3h0M168.8 378.1h0M162.3 360.4h0M166.6 355.5h0M164.7 368.0h0M170.1 369.8h0M173.5 376.2h0M158.5 380.3h0M194.7 344.3h0M159.0 379.1h0M162.5 369.6h0M167.2 366.5h0M174.9 378.6h0M156.3 341.8h0M170.5 372.3h0M159.6 364.7h0M167.3 361.1h0M162.9 377.5h0M166.7 369.5h0M157.0 367.4h0M166.5 376.9h0M171.5 361.6h0M158.3 356.6h0M159.0 332.9h0M156.8 383.8h0M165.6 367.3h0M164.0 365.4h0M161.9 378.8h0M157.9 369.7h0M162.1 376.7h0M155.8 383.4h0M167.5 376.2h0M164.9 375.2h0M173.1 345.5h0M164.1 376.8h0M179.7 376.5h0M162.5 362.0h0M161.0 376.9h0M173.9 360.8h0M159.7 360.4h0M175.9 380.5h0M166.9 358.6h0M165.2 345.2h0M164.4 384.7h0M175.1 370.9h0M166.7 377.6h0M160.1 367.1h0M209.1 364.1h0M200.4 383.1h0M192.3 374.0h0M187.3 372.6h0M157.9 274.5h0M166.2 277.9h0M158.1 281.8h0M161.8 293.5h0M179.0 299.7h0M156.5 301.4h0M162.7 306.0h0M171.0 310.5h0" stroke="#ff0000" stroke-width="2.30" stroke-linecap="round" fill="none"/>
<rect x="60.5" y="265.6" width="165.8" height="156.1" fill="none" stroke="#777" stroke-width="0.9"/>
<line x1="131.28" y1="265.6" x2="131.28" y2="421.7" stroke="#222" stroke-width="0.6" stroke-dasharray="1.1,0.9"/>
<line x1="155.52" y1="265.6" x2="155.52" y2="421.7" stroke="#222" stroke-width="0.6" stroke-dasharray="1.1,0.9"/>
<line x1="60.5" y1="384.79" x2="226.3" y2="384.79" stroke="#222" stroke-width="0.6" stroke-dasharray="1.1,0.9"/>
<line x1="58" y1="421.7" x2="60.5" y2="421.7" stroke="#555" stroke-width="0.7" />
<text x="56.9" y="423.5" font-family='"Liberation Serif", serif' font-size="5.3" font-weight="bold" text-anchor="end" fill="#111" stroke="#111" stroke-width="0.1">0</text>
<line x1="58" y1="407.51" x2="60.5" y2="407.51" stroke="#555" stroke-width="0.7" />
<text x="56.9" y="409.31" font-family='"Liberation Serif", serif' font-size="5.3" font-weight="bold" text-anchor="end" fill="#111" stroke="#111" stroke-width="0.1">0.5</text>
<line x1="58" y1="393.33" x2="60.5" y2="393.33" stroke="#555" stroke-width="0.7" />
<text x="56.9" y="395.13" font-family='"Liberation Serif", serif' font-size="5.3" font-weight="bold" text-anchor="end" fill="#111" stroke="#111" stroke-width="0.1">1</text>
<line x1="58" y1="379.14" x2="60.5" y2="379.14" stroke="#555" stroke-width="0.7" />
<text x="56.9" y="380.94" font-family='"Liberation Serif", serif' font-size="5.3" font-weight="bold" text-anchor="end" fill="#111" stroke="#111" stroke-width="0.1">1.5</text>
<line x1="58" y1="364.96" x2="60.5" y2="364.96" stroke="#555" stroke-width="0.7" />
<text x="56.9" y="366.76" font-family='"Liberation Serif", serif' font-size="5.3" font-weight="bold" text-anchor="end" fill="#111" stroke="#111" stroke-width="0.1">2</text>
<line x1="58" y1="350.77" x2="60.5" y2="350.77" stroke="#555" stroke-width="0.7" />
<text x="56.9" y="352.57" font-family='"Liberation Serif", serif' font-size="5.3" font-weight="bold" text-anchor="end" fill="#111" stroke="#111" stroke-width="0.1">2.5</text>
<line x1="58" y1="336.59" x2="60.5" y2="336.59" stroke="#555" stroke-width="0.7" />
<text x="56.9" y="338.39" font-family='"Liberation Serif", serif' font-size="5.3" font-weight="bold" text-anchor="end" fill="#111" stroke="#111" stroke-width="0.1">3</text>
<line x1="58" y1="322.4" x2="60.5" y2="322.4" stroke="#555" stroke-width="0.7" />
<text x="56.9" y="324.2" font-family='"Liberation Serif", serif' font-size="5.3" font-weight="bold" text-anchor="end" fill="#111" stroke="#111" stroke-width="0.1">3.5</text>
<line x1="58" y1="308.22" x2="60.5" y2="308.22" stroke="#555" stroke-width="0.7" />
<text x="56.9" y="310.02" font-family='"Liberation Serif", serif' font-size="5.3" font-weight="bold" text-anchor="end" fill="#111" stroke="#111" stroke-width="0.1">4</text>
<line x1="58" y1="294.03" x2="60.5" y2="294.03" stroke="#555" stroke-width="0.7" />
<text x="56.9" y="295.83" font-family='"Liberation Serif", serif' font-size="5.3" font-weight="bold" text-anchor="end" fill="#111" stroke="#111" stroke-width="0.1">4.5</text>
<line x1="58" y1="279.85" x2="60.5" y2="279.85" stroke="#555" stroke-width="0.7" />
<text x="56.9" y="281.65" font-family='"Liberation Serif", serif' font-size="5.3" font-weight="bold" text-anchor="end" fill="#111" stroke="#111" stroke-width="0.1">5</text>
<line x1="58" y1="265.66" x2="60.5" y2="265.66" stroke="#555" stroke-width="0.7" />
<text x="56.9" y="267.46" font-family='"Liberation Serif", serif' font-size="5.3" font-weight="bold" text-anchor="end" fill="#111" stroke="#111" stroke-width="0.1">5.5</text>
<line x1="60.52" y1="421.7" x2="60.52" y2="424" stroke="#555" stroke-width="0.7" />
<text x="60.52" y="429.4" font-family='"Liberation Serif", serif' font-size="5.3" font-weight="bold" text-anchor="middle" fill="#111" stroke="#111" stroke-width="0.1">-4</text>
<line x1="81.24" y1="421.7" x2="81.24" y2="424" stroke="#555" stroke-width="0.7" />
<text x="81.24" y="429.4" font-family='"Liberation Serif", serif' font-size="5.3" font-weight="bold" text-anchor="middle" fill="#111" stroke="#111" stroke-width="0.1">-3</text>
<line x1="101.96" y1="421.7" x2="101.96" y2="424" stroke="#555" stroke-width="0.7" />
<text x="101.96" y="429.4" font-family='"Liberation Serif", serif' font-size="5.3" font-weight="bold" text-anchor="middle" fill="#111" stroke="#111" stroke-width="0.1">-2</text>
<line x1="122.68" y1="421.7" x2="122.68" y2="424" stroke="#555" stroke-width="0.7" />
<text x="122.68" y="429.4" font-family='"Liberation Serif", serif' font-size="5.3" font-weight="bold" text-anchor="middle" fill="#111" stroke="#111" stroke-width="0.1">-1</text>
<line x1="143.4" y1="421.7" x2="143.4" y2="424" stroke="#555" stroke-width="0.7" />
<text x="143.4" y="429.4" font-family='"Liberation Serif", serif' font-size="5.3" font-weight="bold" text-anchor="middle" fill="#111" stroke="#111" stroke-width="0.1">0</text>
<line x1="164.12" y1="421.7" x2="164.12" y2="424" stroke="#555" stroke-width="0.7" />
<text x="164.12" y="429.4" font-family='"Liberation Serif", serif' font-size="5.3" font-weight="bold" text-anchor="middle" fill="#111" stroke="#111" stroke-width="0.1">1</text>
<line x1="184.84" y1="421.7" x2="184.84" y2="424" stroke="#555" stroke-width="0.7" />
<text x="184.84" y="429.4" font-family='"Liberation Serif", serif' font-size="5.3" font-weight="bold" text-anchor="middle" fill="#111" stroke="#111" stroke-width="0.1">2</text>
<line x1="205.56" y1="421.7" x2="205.56" y2="424" stroke="#555" stroke-width="0.7" />
<text x="205.56" y="429.4" font-family='"Liberation Serif", serif' font-size="5.3" font-weight="bold" text-anchor="middle" fill="#111" stroke="#111" stroke-width="0.1">3</text>
<line x1="226.28" y1="421.7" x2="226.28" y2="424" stroke="#555" stroke-width="0.7" />
<text x="226.28" y="429.4" font-family='"Liberation Serif", serif' font-size="5.3" font-weight="bold" text-anchor="middle" fill="#111" stroke="#111" stroke-width="0.1">4</text>
<text x="144.3" y="441.9" font-family='"Liberation Serif", serif' font-size="8.8" font-weight="bold" text-anchor="middle" fill="#111"  stroke="#111" stroke-width="0.25">Log2FC</text>
<text transform="translate(43.3,342.8) rotate(-90)" x="0" y="0" font-family='"Liberation Serif", serif' font-size="8.7" font-weight="bold" text-anchor="middle" fill="#222" stroke="#222" stroke-width="0.22">-Log10(Pvalue)</text>
<text x="233.4" y="336.4" font-family='"Liberation Serif", serif' font-size="5.6" font-weight="normal" text-anchor="start" fill="#000" >Significant</text>
<circle cx="235.5" cy="342.7" r="2.6" fill="#ff0000"/>
<text x="239.1" y="344.3" font-family='"Liberation Serif", serif' font-size="4.9" font-weight="normal" text-anchor="start" fill="#000" stroke="#000" stroke-width="0.1">up(399)</text>
<circle cx="235.5" cy="350.9" r="2.6" fill="#1e90ff"/>
<text x="239.1" y="352.5" font-family='"Liberation Serif", serif' font-size="4.9" font-weight="normal" text-anchor="start" fill="#000" stroke="#000" stroke-width="0.1">down(424)</text>
<circle cx="235.5" cy="359.1" r="2.6" fill="#a9a9a9"/>
<text x="239.1" y="360.7" font-family='"Liberation Serif", serif' font-size="4.9" font-weight="normal" text-anchor="start" fill="#000" stroke="#000" stroke-width="0.1">nosig(6841)</text>
<text x="341.6" y="269.5" font-family='"Liberation Serif", serif' font-size="15.6" font-weight="bold" text-anchor="start" fill="#111"  stroke="#111" stroke-width="0.44">Differential statistics</text>
<rect x="376.8" y="316.57" width="27.3" height="114.63" fill="#006400" />
<rect x="417.7" y="309.38" width="27.3" height="121.82" fill="#a00000" />
<line x1="362.9" y1="287" x2="362.9" y2="431.8" stroke="#111" stroke-width="1.3" />
<line x1="357" y1="431.2" x2="458.6" y2="431.2" stroke="#111" stroke-width="1.3" />
<line x1="357.3" y1="402.47" x2="362.9" y2="402.47" stroke="#111" stroke-width="1.3" />
<line x1="357.3" y1="373.74" x2="362.9" y2="373.74" stroke="#111" stroke-width="1.3" />
<line x1="357.3" y1="345.01" x2="362.9" y2="345.01" stroke="#111" stroke-width="1.3" />
<line x1="357.3" y1="316.28" x2="362.9" y2="316.28" stroke="#111" stroke-width="1.3" />
<line x1="357.3" y1="287.55" x2="362.9" y2="287.55" stroke="#111" stroke-width="1.3" />
<text x="355" y="435" font-family='"Liberation Serif", serif' font-size="10.8" font-weight="bold" text-anchor="end" fill="#111"  stroke="#111" stroke-width="0.3">0</text>
<text x="355" y="406.27" font-family='"Liberation Serif", serif' font-size="10.8" font-weight="bold" text-anchor="end" fill="#111"  stroke="#111" stroke-width="0.3">100</text>
<text x="355" y="377.54" font-family='"Liberation Serif", serif' font-size="10.8" font-weight="bold" text-anchor="end" fill="#111"  stroke="#111" stroke-width="0.3">200</text>
<text x="355" y="348.81" font-family='"Liberation Serif", serif' font-size="10.8" font-weight="bold" text-anchor="end" fill="#111"  stroke="#111" stroke-width="0.3">300</text>
<text x="355" y="320.08" font-family='"Liberation Serif", serif' font-size="10.8" font-weight="bold" text-anchor="end" fill="#111"  stroke="#111" stroke-width="0.3">400</text>
<text x="355" y="291.35" font-family='"Liberation Serif", serif' font-size="10.8" font-weight="bold" text-anchor="end" fill="#111"  stroke="#111" stroke-width="0.3">500</text>
<line x1="410.5" y1="431.2" x2="410.5" y2="436.4" stroke="#111" stroke-width="1.2" />
<text x="411" y="448.5" font-family='"Liberation Serif", serif' font-size="10.7" font-weight="bold" text-anchor="middle" fill="#111"  stroke="#111" stroke-width="0.3">CON-vs-SCNT</text>
<text x="389.1" y="308.3" font-family='"Liberation Serif", serif' font-size="11.4" font-weight="bold" text-anchor="middle" fill="#111"  stroke="#111" stroke-width="0.32">399</text>
<text x="429.9" y="300" font-family='"Liberation Serif", serif' font-size="11.4" font-weight="bold" text-anchor="middle" fill="#111"  stroke="#111" stroke-width="0.32">424</text>
<rect x="491.2" y="293.7" width="15.5" height="9.1" fill="#006400" />
<rect x="491.2" y="314.9" width="15.5" height="9.3" fill="#a00000" />
<text x="515.6" y="302.8" font-family='"Liberation Serif", serif' font-size="13.1" font-weight="bold" text-anchor="start" fill="#111"  stroke="#111" stroke-width="0.37">up</text>
<text x="515.6" y="323.8" font-family='"Liberation Serif", serif' font-size="13.1" font-weight="bold" text-anchor="start" fill="#111"  stroke="#111" stroke-width="0.37">down</text>
<text transform="translate(335.2,359.3) rotate(-90)" x="0" y="0" font-family='"Liberation Serif", serif' font-size="13.6" font-weight="bold" text-anchor="middle" fill="#111" stroke="#111" stroke-width="0.38">Number of DEPs</text>
</svg></body></html>
